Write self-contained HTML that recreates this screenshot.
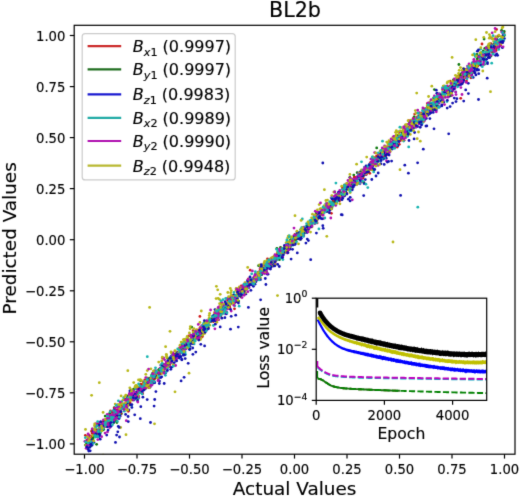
<!DOCTYPE html><html><head><meta charset="utf-8"><style>html,body{margin:0;padding:0;background:#fff;}svg{display:block;}.r{fill:#d01818}.g{fill:#107a10}.b{fill:#1010b0}.c{fill:#18b4b0}.m{fill:#b010b0}.y{fill:#b8b818}text{font-family:'DejaVu Sans', 'Liberation Sans', sans-serif;fill:#000;stroke:#000;stroke-width:0.15px;}</style></head><body>
<svg width="520" height="498" viewBox="0 0 520 498">
<filter id="bl" x="-10" y="-10" width="540" height="518" filterUnits="userSpaceOnUse" color-interpolation-filters="sRGB"><feConvolveMatrix order="3" kernelMatrix="0.0183 0.1353 0.0183 0.1353 1.0000 0.1353 0.0183 0.1353 0.0183" edgeMode="duplicate" preserveAlpha="true"/></filter>
<g filter="url(#bl)">
<rect x="-10" y="-10" width="540" height="518" fill="#fff"/>
<defs><clipPath id="cm"><rect x="74.2" y="25.3" width="440.8" height="428.9"/></clipPath>
<clipPath id="ci"><rect x="316.2" y="298.2" width="170.5" height="102.19999999999999"/></clipPath></defs>
<g clip-path="url(#cm)">
<circle class="r" cx="101.3" cy="428.0" r="1.4"/><circle class="g" cx="459.5" cy="80.1" r="1.4"/><circle class="r" cx="85.4" cy="435.3" r="1.4"/><circle class="r" cx="420.4" cy="119.0" r="1.4"/><circle class="r" cx="482.8" cy="56.7" r="1.4"/><circle class="r" cx="89.6" cy="438.0" r="1.4"/><circle class="r" cx="169.9" cy="364.7" r="1.4"/><circle class="r" cx="432.3" cy="105.5" r="1.4"/><circle class="r" cx="133.0" cy="397.8" r="1.4"/><circle class="r" cx="474.7" cy="67.4" r="1.4"/><circle class="r" cx="272.7" cy="258.3" r="1.4"/><circle class="g" cx="352.9" cy="185.6" r="1.4"/><circle class="r" cx="261.4" cy="273.0" r="1.4"/><circle class="g" cx="144.0" cy="385.5" r="1.4"/><circle class="r" cx="396.1" cy="140.8" r="1.4"/><circle class="r" cx="97.6" cy="423.8" r="1.4"/><circle class="g" cx="268.2" cy="262.9" r="1.4"/><circle class="g" cx="111.3" cy="418.2" r="1.4"/><circle class="r" cx="366.1" cy="173.0" r="1.4"/><circle class="g" cx="326.6" cy="210.6" r="1.4"/><circle class="g" cx="322.9" cy="212.0" r="1.4"/><circle class="g" cx="431.0" cy="109.2" r="1.4"/><circle class="r" cx="243.8" cy="293.3" r="1.4"/><circle class="r" cx="115.5" cy="417.7" r="1.4"/><circle class="r" cx="114.2" cy="417.0" r="1.4"/><circle class="g" cx="353.8" cy="175.1" r="1.4"/><circle class="g" cx="417.6" cy="119.7" r="1.4"/><circle class="g" cx="383.1" cy="157.8" r="1.4"/><circle class="g" cx="485.7" cy="55.3" r="1.4"/><circle class="g" cx="300.8" cy="229.6" r="1.4"/><circle class="g" cx="373.5" cy="170.0" r="1.4"/><circle class="g" cx="121.9" cy="406.9" r="1.4"/><circle class="r" cx="221.0" cy="303.3" r="1.4"/><circle class="r" cx="293.8" cy="242.3" r="1.4"/><circle class="g" cx="241.2" cy="295.1" r="1.4"/><circle class="r" cx="157.0" cy="373.0" r="1.4"/><circle class="r" cx="493.6" cy="44.4" r="1.4"/><circle class="g" cx="94.4" cy="429.9" r="1.4"/><circle class="r" cx="138.2" cy="392.2" r="1.4"/><circle class="g" cx="246.2" cy="288.8" r="1.4"/><circle class="r" cx="346.7" cy="188.6" r="1.4"/><circle class="r" cx="105.2" cy="426.1" r="1.4"/><circle class="r" cx="479.7" cy="61.4" r="1.4"/><circle class="r" cx="490.9" cy="47.5" r="1.4"/><circle class="g" cx="231.5" cy="301.1" r="1.4"/><circle class="g" cx="141.7" cy="387.8" r="1.4"/><circle class="g" cx="384.0" cy="157.7" r="1.4"/><circle class="g" cx="183.2" cy="350.4" r="1.4"/><circle class="r" cx="133.8" cy="389.5" r="1.4"/><circle class="g" cx="239.8" cy="291.9" r="1.4"/><circle class="g" cx="484.1" cy="39.1" r="1.4"/><circle class="g" cx="151.8" cy="374.8" r="1.4"/><circle class="g" cx="145.4" cy="383.0" r="1.4"/><circle class="g" cx="378.9" cy="157.7" r="1.4"/><circle class="g" cx="188.3" cy="342.1" r="1.4"/><circle class="r" cx="489.6" cy="47.0" r="1.4"/><circle class="g" cx="146.7" cy="384.5" r="1.4"/><circle class="r" cx="299.5" cy="234.2" r="1.4"/><circle class="g" cx="130.3" cy="399.1" r="1.4"/><circle class="g" cx="371.4" cy="168.4" r="1.4"/><circle class="g" cx="309.5" cy="226.2" r="1.4"/><circle class="r" cx="500.1" cy="45.6" r="1.4"/><circle class="g" cx="93.3" cy="432.0" r="1.4"/><circle class="g" cx="278.4" cy="256.3" r="1.4"/><circle class="r" cx="348.7" cy="187.6" r="1.4"/><circle class="r" cx="351.0" cy="185.5" r="1.4"/><circle class="r" cx="490.9" cy="43.6" r="1.4"/><circle class="r" cx="148.6" cy="387.7" r="1.4"/><circle class="r" cx="467.4" cy="74.2" r="1.4"/><circle class="g" cx="448.6" cy="87.6" r="1.4"/><circle class="g" cx="162.4" cy="367.4" r="1.4"/><circle class="g" cx="376.7" cy="147.9" r="1.4"/><circle class="r" cx="160.4" cy="373.9" r="1.4"/><circle class="g" cx="280.5" cy="247.5" r="1.4"/><circle class="r" cx="191.1" cy="342.9" r="1.4"/><circle class="g" cx="461.8" cy="81.6" r="1.4"/><circle class="r" cx="426.6" cy="109.9" r="1.4"/><circle class="r" cx="428.1" cy="108.9" r="1.4"/><circle class="r" cx="267.7" cy="265.6" r="1.4"/><circle class="g" cx="315.4" cy="218.1" r="1.4"/><circle class="r" cx="180.5" cy="350.0" r="1.4"/><circle class="r" cx="280.3" cy="251.7" r="1.4"/><circle class="g" cx="116.4" cy="414.7" r="1.4"/><circle class="r" cx="175.7" cy="356.7" r="1.4"/><circle class="g" cx="244.2" cy="290.8" r="1.4"/><circle class="r" cx="99.4" cy="430.0" r="1.4"/><circle class="r" cx="238.1" cy="293.4" r="1.4"/><circle class="r" cx="400.4" cy="137.0" r="1.4"/><circle class="r" cx="174.8" cy="354.6" r="1.4"/><circle class="g" cx="454.6" cy="82.8" r="1.4"/><circle class="r" cx="397.8" cy="138.7" r="1.4"/><circle class="r" cx="495.4" cy="46.7" r="1.4"/><circle class="r" cx="252.3" cy="279.0" r="1.4"/><circle class="r" cx="344.6" cy="189.7" r="1.4"/><circle class="g" cx="380.8" cy="159.5" r="1.4"/><circle class="r" cx="305.0" cy="230.4" r="1.4"/><circle class="r" cx="160.3" cy="371.0" r="1.4"/><circle class="r" cx="142.4" cy="393.4" r="1.4"/><circle class="g" cx="314.7" cy="223.4" r="1.4"/><circle class="g" cx="337.7" cy="196.1" r="1.4"/><circle class="r" cx="420.0" cy="117.4" r="1.4"/><circle class="r" cx="286.2" cy="248.8" r="1.4"/><circle class="r" cx="132.1" cy="400.1" r="1.4"/><circle class="r" cx="121.5" cy="408.2" r="1.4"/><circle class="g" cx="227.7" cy="302.9" r="1.4"/><circle class="g" cx="102.4" cy="430.2" r="1.4"/><circle class="g" cx="318.3" cy="215.5" r="1.4"/><circle class="g" cx="451.1" cy="86.9" r="1.4"/><circle class="r" cx="499.1" cy="42.9" r="1.4"/><circle class="g" cx="107.2" cy="420.9" r="1.4"/><circle class="r" cx="365.9" cy="169.0" r="1.4"/><circle class="g" cx="121.4" cy="413.7" r="1.4"/><circle class="g" cx="134.4" cy="395.9" r="1.4"/><circle class="r" cx="304.5" cy="228.2" r="1.4"/><circle class="r" cx="221.0" cy="308.9" r="1.4"/><circle class="g" cx="411.0" cy="126.0" r="1.4"/><circle class="g" cx="332.7" cy="203.6" r="1.4"/><circle class="g" cx="325.3" cy="207.2" r="1.4"/><circle class="r" cx="195.5" cy="337.4" r="1.4"/><circle class="r" cx="148.1" cy="379.3" r="1.4"/><circle class="g" cx="348.3" cy="186.6" r="1.4"/><circle class="g" cx="150.3" cy="382.0" r="1.4"/><circle class="r" cx="317.6" cy="216.1" r="1.4"/><circle class="g" cx="357.2" cy="172.7" r="1.4"/><circle class="r" cx="421.8" cy="115.7" r="1.4"/><circle class="r" cx="279.4" cy="255.3" r="1.4"/><circle class="g" cx="457.8" cy="83.3" r="1.4"/><circle class="g" cx="235.7" cy="295.3" r="1.4"/><circle class="g" cx="500.3" cy="39.7" r="1.4"/><circle class="r" cx="270.6" cy="260.8" r="1.4"/><circle class="r" cx="419.3" cy="116.3" r="1.4"/><circle class="g" cx="261.9" cy="274.5" r="1.4"/><circle class="r" cx="463.1" cy="75.5" r="1.4"/><circle class="g" cx="152.3" cy="377.5" r="1.4"/><circle class="g" cx="396.6" cy="143.7" r="1.4"/><circle class="g" cx="199.4" cy="335.0" r="1.4"/><circle class="r" cx="186.4" cy="345.5" r="1.4"/><circle class="g" cx="474.1" cy="67.5" r="1.4"/><circle class="r" cx="286.5" cy="245.9" r="1.4"/><circle class="r" cx="394.2" cy="139.7" r="1.4"/><circle class="g" cx="156.2" cy="375.9" r="1.4"/><circle class="g" cx="287.3" cy="247.1" r="1.4"/><circle class="g" cx="453.4" cy="79.9" r="1.4"/><circle class="r" cx="143.4" cy="382.0" r="1.4"/><circle class="r" cx="250.2" cy="270.2" r="1.4"/><circle class="g" cx="233.2" cy="296.7" r="1.4"/><circle class="r" cx="187.4" cy="342.0" r="1.4"/><circle class="r" cx="118.7" cy="409.6" r="1.4"/><circle class="r" cx="333.0" cy="201.9" r="1.4"/><circle class="g" cx="220.8" cy="312.7" r="1.4"/><circle class="g" cx="390.3" cy="141.6" r="1.4"/><circle class="g" cx="343.5" cy="195.7" r="1.4"/><circle class="g" cx="211.4" cy="318.8" r="1.4"/><circle class="r" cx="462.5" cy="82.7" r="1.4"/><circle class="g" cx="417.8" cy="118.6" r="1.4"/><circle class="r" cx="492.2" cy="49.5" r="1.4"/><circle class="g" cx="196.1" cy="335.5" r="1.4"/><circle class="g" cx="331.1" cy="202.5" r="1.4"/><circle class="g" cx="319.8" cy="214.2" r="1.4"/><circle class="r" cx="257.6" cy="273.9" r="1.4"/><circle class="g" cx="193.6" cy="338.4" r="1.4"/><circle class="r" cx="239.5" cy="288.0" r="1.4"/><circle class="g" cx="267.1" cy="267.0" r="1.4"/><circle class="g" cx="255.2" cy="279.3" r="1.4"/><circle class="r" cx="146.5" cy="381.1" r="1.4"/><circle class="g" cx="436.9" cy="100.4" r="1.4"/><circle class="r" cx="189.2" cy="343.9" r="1.4"/><circle class="r" cx="416.2" cy="120.5" r="1.4"/><circle class="g" cx="206.8" cy="324.7" r="1.4"/><circle class="r" cx="448.6" cy="87.1" r="1.4"/><circle class="r" cx="469.0" cy="70.9" r="1.4"/><circle class="g" cx="132.9" cy="397.5" r="1.4"/><circle class="g" cx="173.8" cy="358.0" r="1.4"/><circle class="r" cx="145.2" cy="387.9" r="1.4"/><circle class="r" cx="399.3" cy="132.1" r="1.4"/><circle class="r" cx="152.9" cy="374.9" r="1.4"/><circle class="g" cx="424.3" cy="111.7" r="1.4"/><circle class="r" cx="221.8" cy="313.6" r="1.4"/><circle class="r" cx="473.8" cy="65.5" r="1.4"/><circle class="g" cx="173.5" cy="355.8" r="1.4"/><circle class="g" cx="340.3" cy="192.1" r="1.4"/><circle class="g" cx="167.0" cy="367.0" r="1.4"/><circle class="g" cx="323.4" cy="209.7" r="1.4"/><circle class="r" cx="206.5" cy="326.1" r="1.4"/><circle class="r" cx="478.2" cy="58.2" r="1.4"/><circle class="g" cx="289.7" cy="241.8" r="1.4"/><circle class="g" cx="192.2" cy="337.6" r="1.4"/><circle class="g" cx="178.8" cy="355.0" r="1.4"/><circle class="r" cx="156.2" cy="372.7" r="1.4"/><circle class="g" cx="428.5" cy="106.2" r="1.4"/><circle class="r" cx="363.1" cy="178.0" r="1.4"/><circle class="g" cx="107.3" cy="424.0" r="1.4"/><circle class="g" cx="102.3" cy="424.0" r="1.4"/><circle class="g" cx="214.4" cy="317.4" r="1.4"/><circle class="g" cx="417.3" cy="118.4" r="1.4"/><circle class="g" cx="284.9" cy="247.4" r="1.4"/><circle class="g" cx="182.8" cy="351.0" r="1.4"/><circle class="r" cx="198.3" cy="329.8" r="1.4"/><circle class="r" cx="392.7" cy="147.3" r="1.4"/><circle class="r" cx="292.9" cy="240.9" r="1.4"/><circle class="r" cx="88.0" cy="441.6" r="1.4"/><circle class="g" cx="173.7" cy="354.2" r="1.4"/><circle class="r" cx="216.4" cy="316.5" r="1.4"/><circle class="r" cx="496.1" cy="50.5" r="1.4"/><circle class="r" cx="242.6" cy="289.9" r="1.4"/><circle class="r" cx="226.1" cy="304.9" r="1.4"/><circle class="g" cx="359.7" cy="172.7" r="1.4"/><circle class="r" cx="460.6" cy="81.5" r="1.4"/><circle class="g" cx="404.8" cy="135.9" r="1.4"/><circle class="r" cx="138.3" cy="395.7" r="1.4"/><circle class="g" cx="233.6" cy="298.6" r="1.4"/><circle class="r" cx="337.1" cy="199.3" r="1.4"/><circle class="r" cx="119.4" cy="413.4" r="1.4"/><circle class="g" cx="99.8" cy="426.9" r="1.4"/><circle class="g" cx="116.0" cy="420.7" r="1.4"/><circle class="g" cx="93.4" cy="432.1" r="1.4"/><circle class="g" cx="105.2" cy="416.1" r="1.4"/><circle class="r" cx="476.5" cy="61.8" r="1.4"/><circle class="r" cx="122.0" cy="406.3" r="1.4"/><circle class="r" cx="94.8" cy="432.7" r="1.4"/><circle class="g" cx="299.6" cy="233.2" r="1.4"/><circle class="r" cx="291.6" cy="242.7" r="1.4"/><circle class="g" cx="185.6" cy="341.6" r="1.4"/><circle class="g" cx="384.8" cy="150.1" r="1.4"/><circle class="g" cx="186.3" cy="341.5" r="1.4"/><circle class="g" cx="236.9" cy="296.3" r="1.4"/><circle class="r" cx="100.7" cy="427.4" r="1.4"/><circle class="r" cx="89.3" cy="435.3" r="1.4"/><circle class="r" cx="351.8" cy="184.0" r="1.4"/><circle class="g" cx="279.7" cy="252.4" r="1.4"/><circle class="r" cx="110.8" cy="415.6" r="1.4"/><circle class="r" cx="272.6" cy="260.0" r="1.4"/><circle class="r" cx="119.7" cy="405.2" r="1.4"/><circle class="g" cx="327.9" cy="205.6" r="1.4"/><circle class="g" cx="326.8" cy="208.8" r="1.4"/><circle class="g" cx="370.7" cy="164.5" r="1.4"/><circle class="g" cx="207.5" cy="322.0" r="1.4"/><circle class="g" cx="240.9" cy="296.9" r="1.4"/><circle class="g" cx="218.5" cy="310.6" r="1.4"/><circle class="r" cx="187.1" cy="345.1" r="1.4"/><circle class="r" cx="137.9" cy="398.4" r="1.4"/><circle class="r" cx="442.4" cy="95.2" r="1.4"/><circle class="g" cx="308.0" cy="227.8" r="1.4"/><circle class="r" cx="397.9" cy="135.5" r="1.4"/><circle class="g" cx="307.2" cy="227.8" r="1.4"/><circle class="r" cx="415.5" cy="126.8" r="1.4"/><circle class="g" cx="458.9" cy="64.5" r="1.4"/><circle class="r" cx="457.7" cy="82.1" r="1.4"/><circle class="g" cx="141.9" cy="390.5" r="1.4"/><circle class="r" cx="196.7" cy="338.4" r="1.4"/><circle class="g" cx="370.7" cy="165.2" r="1.4"/><circle class="r" cx="155.1" cy="376.3" r="1.4"/><circle class="g" cx="204.5" cy="322.3" r="1.4"/><circle class="g" cx="112.3" cy="412.1" r="1.4"/><circle class="r" cx="352.0" cy="186.8" r="1.4"/><circle class="g" cx="281.4" cy="250.8" r="1.4"/><circle class="g" cx="318.3" cy="217.2" r="1.4"/><circle class="g" cx="316.9" cy="213.3" r="1.4"/><circle class="g" cx="163.4" cy="369.3" r="1.4"/><circle class="g" cx="394.1" cy="144.2" r="1.4"/><circle class="r" cx="267.5" cy="258.8" r="1.4"/><circle class="r" cx="326.1" cy="205.9" r="1.4"/><circle class="g" cx="414.1" cy="117.0" r="1.4"/><circle class="r" cx="417.2" cy="120.7" r="1.4"/><circle class="r" cx="234.5" cy="300.3" r="1.4"/><circle class="g" cx="260.7" cy="274.6" r="1.4"/><circle class="r" cx="99.1" cy="431.0" r="1.4"/><circle class="g" cx="300.8" cy="235.3" r="1.4"/><circle class="g" cx="105.5" cy="419.7" r="1.4"/><circle class="r" cx="154.8" cy="373.2" r="1.4"/><circle class="g" cx="218.9" cy="313.2" r="1.4"/><circle class="r" cx="164.4" cy="369.3" r="1.4"/><circle class="r" cx="216.9" cy="316.6" r="1.4"/><circle class="r" cx="463.3" cy="77.7" r="1.4"/><circle class="r" cx="319.5" cy="216.4" r="1.4"/><circle class="g" cx="363.6" cy="171.4" r="1.4"/><circle class="g" cx="167.5" cy="364.0" r="1.4"/><circle class="r" cx="316.9" cy="215.4" r="1.4"/><circle class="r" cx="237.8" cy="294.2" r="1.4"/><circle class="g" cx="136.1" cy="396.0" r="1.4"/><circle class="r" cx="150.1" cy="380.1" r="1.4"/><circle class="g" cx="162.7" cy="365.4" r="1.4"/><circle class="r" cx="376.6" cy="155.9" r="1.4"/><circle class="g" cx="475.6" cy="66.0" r="1.4"/><circle class="g" cx="431.9" cy="104.4" r="1.4"/><circle class="g" cx="141.0" cy="391.3" r="1.4"/><circle class="r" cx="361.1" cy="173.1" r="1.4"/><circle class="r" cx="395.0" cy="140.4" r="1.4"/><circle class="g" cx="371.4" cy="162.1" r="1.4"/><circle class="r" cx="404.1" cy="140.3" r="1.4"/><circle class="g" cx="152.7" cy="373.1" r="1.4"/><circle class="r" cx="466.5" cy="81.1" r="1.4"/><circle class="r" cx="161.4" cy="368.8" r="1.4"/><circle class="r" cx="227.6" cy="299.9" r="1.4"/><circle class="g" cx="351.5" cy="180.4" r="1.4"/><circle class="r" cx="464.6" cy="71.7" r="1.4"/><circle class="r" cx="362.9" cy="172.5" r="1.4"/><circle class="r" cx="178.1" cy="354.6" r="1.4"/><circle class="r" cx="331.2" cy="204.1" r="1.4"/><circle class="r" cx="452.7" cy="90.4" r="1.4"/><circle class="g" cx="213.8" cy="320.9" r="1.4"/><circle class="g" cx="408.6" cy="133.5" r="1.4"/><circle class="g" cx="501.6" cy="30.3" r="1.4"/><circle class="r" cx="424.8" cy="112.8" r="1.4"/><circle class="r" cx="289.1" cy="242.3" r="1.4"/><circle class="r" cx="331.4" cy="213.3" r="1.4"/><circle class="g" cx="90.4" cy="439.1" r="1.4"/><circle class="g" cx="96.6" cy="444.3" r="1.4"/><circle class="r" cx="96.0" cy="431.4" r="1.4"/><circle class="r" cx="468.8" cy="74.0" r="1.4"/><circle class="r" cx="232.4" cy="302.0" r="1.4"/><circle class="g" cx="368.7" cy="172.1" r="1.4"/><circle class="r" cx="287.6" cy="251.0" r="1.4"/><circle class="r" cx="463.4" cy="73.7" r="1.4"/><circle class="r" cx="414.7" cy="114.1" r="1.4"/><circle class="g" cx="421.6" cy="115.3" r="1.4"/><circle class="g" cx="250.3" cy="284.0" r="1.4"/><circle class="g" cx="223.0" cy="310.1" r="1.4"/><circle class="r" cx="333.8" cy="202.4" r="1.4"/><circle class="g" cx="343.2" cy="194.6" r="1.4"/><circle class="r" cx="230.7" cy="298.5" r="1.4"/><circle class="g" cx="198.8" cy="337.6" r="1.4"/><circle class="r" cx="329.4" cy="204.3" r="1.4"/><circle class="g" cx="109.6" cy="413.4" r="1.4"/><circle class="r" cx="355.3" cy="178.9" r="1.4"/><circle class="r" cx="188.7" cy="336.0" r="1.4"/><circle class="r" cx="467.8" cy="71.0" r="1.4"/><circle class="g" cx="483.9" cy="56.1" r="1.4"/><circle class="r" cx="371.4" cy="167.8" r="1.4"/><circle class="g" cx="90.8" cy="445.8" r="1.4"/><circle class="r" cx="386.3" cy="155.2" r="1.4"/><circle class="r" cx="213.0" cy="319.3" r="1.4"/><circle class="r" cx="272.8" cy="257.3" r="1.4"/><circle class="g" cx="295.7" cy="240.1" r="1.4"/><circle class="r" cx="169.4" cy="359.1" r="1.4"/><circle class="r" cx="317.1" cy="222.9" r="1.4"/><circle class="r" cx="402.8" cy="133.6" r="1.4"/><circle class="r" cx="323.1" cy="215.1" r="1.4"/><circle class="g" cx="162.3" cy="367.2" r="1.4"/><circle class="r" cx="195.0" cy="336.5" r="1.4"/><circle class="g" cx="140.5" cy="380.7" r="1.4"/><circle class="g" cx="440.9" cy="94.6" r="1.4"/><circle class="r" cx="371.1" cy="165.3" r="1.4"/><circle class="g" cx="168.7" cy="364.0" r="1.4"/><circle class="g" cx="279.4" cy="259.7" r="1.4"/><circle class="g" cx="192.2" cy="340.6" r="1.4"/><circle class="r" cx="236.3" cy="295.7" r="1.4"/><circle class="r" cx="367.3" cy="172.3" r="1.4"/><circle class="g" cx="211.0" cy="321.4" r="1.4"/><circle class="g" cx="114.3" cy="407.6" r="1.4"/><circle class="g" cx="240.9" cy="291.0" r="1.4"/><circle class="g" cx="410.2" cy="130.4" r="1.4"/><circle class="r" cx="321.3" cy="214.0" r="1.4"/><circle class="g" cx="282.5" cy="253.2" r="1.4"/><circle class="r" cx="422.4" cy="118.6" r="1.4"/><circle class="g" cx="438.0" cy="99.5" r="1.4"/><circle class="r" cx="161.8" cy="370.8" r="1.4"/><circle class="g" cx="419.2" cy="117.4" r="1.4"/><circle class="r" cx="416.2" cy="118.9" r="1.4"/><circle class="r" cx="195.4" cy="336.7" r="1.4"/><circle class="r" cx="224.3" cy="308.3" r="1.4"/><circle class="g" cx="367.2" cy="171.8" r="1.4"/><circle class="r" cx="362.3" cy="170.4" r="1.4"/><circle class="g" cx="304.3" cy="233.2" r="1.4"/><circle class="g" cx="396.0" cy="142.1" r="1.4"/><circle class="g" cx="271.2" cy="262.4" r="1.4"/><circle class="g" cx="195.6" cy="333.2" r="1.4"/><circle class="r" cx="389.9" cy="146.1" r="1.4"/><circle class="g" cx="363.6" cy="172.1" r="1.4"/><circle class="r" cx="294.3" cy="237.9" r="1.4"/><circle class="g" cx="307.9" cy="228.7" r="1.4"/><circle class="r" cx="176.7" cy="353.6" r="1.4"/><circle class="r" cx="251.4" cy="279.4" r="1.4"/><circle class="g" cx="116.8" cy="411.6" r="1.4"/><circle class="r" cx="237.2" cy="295.5" r="1.4"/><circle class="g" cx="138.3" cy="392.7" r="1.4"/><circle class="r" cx="117.5" cy="416.1" r="1.4"/><circle class="r" cx="147.8" cy="382.9" r="1.4"/><circle class="g" cx="351.5" cy="187.3" r="1.4"/><circle class="r" cx="154.3" cy="379.1" r="1.4"/><circle class="r" cx="132.8" cy="390.8" r="1.4"/><circle class="r" cx="192.9" cy="335.4" r="1.4"/><circle class="g" cx="337.0" cy="195.3" r="1.4"/><circle class="g" cx="425.0" cy="117.7" r="1.4"/><circle class="g" cx="263.1" cy="272.3" r="1.4"/><circle class="r" cx="245.4" cy="287.9" r="1.4"/><circle class="r" cx="421.3" cy="119.3" r="1.4"/><circle class="r" cx="149.6" cy="386.7" r="1.4"/><circle class="g" cx="308.0" cy="227.3" r="1.4"/><circle class="r" cx="110.1" cy="421.3" r="1.4"/><circle class="g" cx="175.2" cy="355.6" r="1.4"/><circle class="g" cx="205.9" cy="325.6" r="1.4"/><circle class="r" cx="317.3" cy="219.6" r="1.4"/><circle class="g" cx="440.6" cy="95.8" r="1.4"/><circle class="r" cx="139.4" cy="392.2" r="1.4"/><circle class="g" cx="238.6" cy="301.1" r="1.4"/><circle class="r" cx="145.0" cy="387.8" r="1.4"/><circle class="r" cx="129.7" cy="402.6" r="1.4"/><circle class="r" cx="217.7" cy="318.0" r="1.4"/><circle class="g" cx="319.3" cy="213.7" r="1.4"/><circle class="g" cx="491.0" cy="56.1" r="1.4"/><circle class="r" cx="434.6" cy="103.9" r="1.4"/><circle class="r" cx="277.6" cy="256.6" r="1.4"/><circle class="r" cx="191.4" cy="336.2" r="1.4"/><circle class="g" cx="219.2" cy="308.3" r="1.4"/><circle class="r" cx="468.5" cy="71.0" r="1.4"/><circle class="r" cx="231.1" cy="297.3" r="1.4"/><circle class="g" cx="413.5" cy="127.5" r="1.4"/><circle class="r" cx="433.6" cy="100.3" r="1.4"/><circle class="r" cx="151.3" cy="380.7" r="1.4"/><circle class="r" cx="381.4" cy="158.0" r="1.4"/><circle class="r" cx="114.1" cy="415.5" r="1.4"/><circle class="g" cx="495.1" cy="46.1" r="1.4"/><circle class="r" cx="116.4" cy="410.1" r="1.4"/><circle class="g" cx="278.8" cy="252.0" r="1.4"/><circle class="r" cx="296.2" cy="237.3" r="1.4"/><circle class="r" cx="92.3" cy="433.2" r="1.4"/><circle class="r" cx="385.4" cy="151.6" r="1.4"/><circle class="r" cx="351.8" cy="183.1" r="1.4"/><circle class="r" cx="98.8" cy="432.9" r="1.4"/><circle class="g" cx="305.0" cy="228.9" r="1.4"/><circle class="r" cx="267.6" cy="266.8" r="1.4"/><circle class="r" cx="248.5" cy="278.9" r="1.4"/><circle class="r" cx="311.9" cy="222.2" r="1.4"/><circle class="r" cx="283.8" cy="250.1" r="1.4"/><circle class="r" cx="217.8" cy="310.5" r="1.4"/><circle class="g" cx="427.3" cy="107.5" r="1.4"/><circle class="g" cx="276.9" cy="248.3" r="1.4"/><circle class="r" cx="452.3" cy="85.9" r="1.4"/><circle class="g" cx="278.4" cy="253.9" r="1.4"/><circle class="g" cx="103.7" cy="427.1" r="1.4"/><circle class="r" cx="214.2" cy="318.6" r="1.4"/><circle class="r" cx="208.8" cy="320.9" r="1.4"/><circle class="g" cx="415.0" cy="122.0" r="1.4"/><circle class="g" cx="140.5" cy="389.3" r="1.4"/><circle class="r" cx="277.6" cy="253.3" r="1.4"/><circle class="g" cx="386.8" cy="152.4" r="1.4"/><circle class="r" cx="120.8" cy="411.5" r="1.4"/><circle class="r" cx="254.7" cy="280.3" r="1.4"/><circle class="r" cx="98.1" cy="434.2" r="1.4"/><circle class="r" cx="339.9" cy="199.1" r="1.4"/><circle class="r" cx="300.1" cy="238.3" r="1.4"/><circle class="r" cx="103.1" cy="426.3" r="1.4"/><circle class="g" cx="363.7" cy="182.5" r="1.4"/><circle class="r" cx="387.9" cy="149.3" r="1.4"/><circle class="g" cx="214.6" cy="316.9" r="1.4"/><circle class="g" cx="148.8" cy="380.4" r="1.4"/><circle class="r" cx="105.0" cy="425.9" r="1.4"/><circle class="g" cx="480.3" cy="55.9" r="1.4"/><circle class="g" cx="310.6" cy="224.5" r="1.4"/><circle class="g" cx="316.8" cy="219.6" r="1.4"/><circle class="r" cx="153.0" cy="381.5" r="1.4"/><circle class="r" cx="248.8" cy="283.9" r="1.4"/><circle class="r" cx="99.5" cy="427.3" r="1.4"/><circle class="r" cx="145.0" cy="385.1" r="1.4"/><circle class="r" cx="334.3" cy="200.4" r="1.4"/><circle class="r" cx="250.8" cy="282.7" r="1.4"/><circle class="g" cx="458.3" cy="77.1" r="1.4"/><circle class="r" cx="220.8" cy="310.2" r="1.4"/><circle class="r" cx="448.0" cy="93.5" r="1.4"/><circle class="r" cx="479.8" cy="64.3" r="1.4"/><circle class="r" cx="438.6" cy="98.5" r="1.4"/><circle class="r" cx="112.8" cy="413.6" r="1.4"/><circle class="r" cx="240.8" cy="290.6" r="1.4"/><circle class="r" cx="489.1" cy="46.6" r="1.4"/><circle class="r" cx="396.6" cy="140.0" r="1.4"/><circle class="r" cx="110.5" cy="411.0" r="1.4"/><circle class="g" cx="309.5" cy="225.4" r="1.4"/><circle class="g" cx="89.0" cy="437.7" r="1.4"/><circle class="r" cx="350.7" cy="188.8" r="1.4"/><circle class="g" cx="452.1" cy="84.5" r="1.4"/><circle class="r" cx="461.7" cy="75.0" r="1.4"/><circle class="r" cx="185.2" cy="349.0" r="1.4"/><circle class="g" cx="218.6" cy="314.0" r="1.4"/><circle class="r" cx="477.7" cy="66.1" r="1.4"/><circle class="g" cx="113.9" cy="422.5" r="1.4"/><circle class="g" cx="346.3" cy="186.9" r="1.4"/><circle class="r" cx="205.4" cy="324.9" r="1.4"/><circle class="r" cx="424.4" cy="114.6" r="1.4"/><circle class="r" cx="403.9" cy="136.2" r="1.4"/><circle class="r" cx="345.7" cy="189.1" r="1.4"/><circle class="g" cx="291.3" cy="243.1" r="1.4"/><circle class="g" cx="406.8" cy="133.3" r="1.4"/><circle class="r" cx="420.2" cy="116.7" r="1.4"/><circle class="r" cx="372.8" cy="165.5" r="1.4"/><circle class="r" cx="399.4" cy="140.2" r="1.4"/><circle class="g" cx="301.1" cy="234.4" r="1.4"/><circle class="r" cx="366.3" cy="174.5" r="1.4"/><circle class="r" cx="375.5" cy="159.6" r="1.4"/><circle class="g" cx="243.1" cy="286.7" r="1.4"/><circle class="g" cx="214.6" cy="320.0" r="1.4"/><circle class="r" cx="227.0" cy="308.3" r="1.4"/><circle class="g" cx="416.9" cy="121.8" r="1.4"/><circle class="r" cx="183.3" cy="351.3" r="1.4"/><circle class="r" cx="378.6" cy="154.5" r="1.4"/><circle class="r" cx="425.0" cy="115.6" r="1.4"/><circle class="r" cx="443.0" cy="97.9" r="1.4"/><circle class="g" cx="285.1" cy="246.0" r="1.4"/><circle class="g" cx="297.8" cy="235.2" r="1.4"/><circle class="g" cx="144.2" cy="385.9" r="1.4"/><circle class="g" cx="237.6" cy="292.4" r="1.4"/><circle class="g" cx="85.5" cy="445.1" r="1.4"/><circle class="g" cx="497.1" cy="40.0" r="1.4"/><circle class="r" cx="181.8" cy="349.0" r="1.4"/><circle class="g" cx="223.9" cy="308.7" r="1.4"/><circle class="r" cx="132.9" cy="397.8" r="1.4"/><circle class="g" cx="369.8" cy="167.3" r="1.4"/><circle class="r" cx="254.2" cy="277.7" r="1.4"/><circle class="g" cx="499.9" cy="40.2" r="1.4"/><circle class="r" cx="110.5" cy="417.1" r="1.4"/><circle class="g" cx="388.5" cy="149.3" r="1.4"/><circle class="g" cx="427.7" cy="112.8" r="1.4"/><circle class="g" cx="496.5" cy="42.8" r="1.4"/><circle class="g" cx="252.5" cy="282.1" r="1.4"/><circle class="g" cx="409.9" cy="127.9" r="1.4"/><circle class="r" cx="382.3" cy="153.1" r="1.4"/><circle class="g" cx="222.3" cy="308.0" r="1.4"/><circle class="r" cx="440.1" cy="100.6" r="1.4"/><circle class="r" cx="177.1" cy="353.6" r="1.4"/><circle class="r" cx="352.0" cy="183.3" r="1.4"/><circle class="g" cx="413.0" cy="125.3" r="1.4"/><circle class="r" cx="480.0" cy="61.6" r="1.4"/><circle class="r" cx="448.1" cy="91.4" r="1.4"/><circle class="g" cx="465.7" cy="72.8" r="1.4"/><circle class="r" cx="360.1" cy="173.2" r="1.4"/><circle class="r" cx="460.8" cy="75.4" r="1.4"/><circle class="r" cx="278.3" cy="252.8" r="1.4"/><circle class="g" cx="320.8" cy="214.1" r="1.4"/><circle class="g" cx="440.6" cy="99.1" r="1.4"/><circle class="r" cx="237.9" cy="293.3" r="1.4"/><circle class="r" cx="171.6" cy="356.3" r="1.4"/><circle class="g" cx="412.1" cy="125.5" r="1.4"/><circle class="r" cx="258.3" cy="274.8" r="1.4"/><circle class="g" cx="273.8" cy="260.8" r="1.4"/><circle class="g" cx="126.2" cy="404.2" r="1.4"/><circle class="r" cx="140.8" cy="384.1" r="1.4"/><circle class="g" cx="239.0" cy="290.8" r="1.4"/><circle class="g" cx="485.9" cy="47.8" r="1.4"/><circle class="r" cx="297.7" cy="237.0" r="1.4"/><circle class="r" cx="236.2" cy="298.7" r="1.4"/><circle class="g" cx="373.5" cy="160.5" r="1.4"/><circle class="g" cx="170.3" cy="360.7" r="1.4"/><circle class="g" cx="493.1" cy="50.3" r="1.4"/><circle class="r" cx="274.4" cy="262.4" r="1.4"/><circle class="g" cx="231.6" cy="301.3" r="1.4"/><circle class="r" cx="386.0" cy="150.5" r="1.4"/><circle class="g" cx="284.1" cy="248.5" r="1.4"/><circle class="r" cx="344.6" cy="189.8" r="1.4"/><circle class="r" cx="367.3" cy="168.0" r="1.4"/><circle class="g" cx="251.5" cy="281.9" r="1.4"/><circle class="g" cx="131.7" cy="394.2" r="1.4"/><circle class="g" cx="379.8" cy="158.0" r="1.4"/><circle class="r" cx="246.6" cy="285.6" r="1.4"/><circle class="g" cx="350.3" cy="187.1" r="1.4"/><circle class="g" cx="440.1" cy="97.8" r="1.4"/><circle class="g" cx="186.7" cy="345.9" r="1.4"/><circle class="g" cx="176.0" cy="359.0" r="1.4"/><circle class="r" cx="204.5" cy="330.4" r="1.4"/><circle class="g" cx="341.5" cy="199.2" r="1.4"/><circle class="g" cx="116.9" cy="412.3" r="1.4"/><circle class="r" cx="343.6" cy="187.5" r="1.4"/><circle class="g" cx="99.0" cy="428.4" r="1.4"/><circle class="g" cx="335.0" cy="201.1" r="1.4"/><circle class="r" cx="175.7" cy="356.4" r="1.4"/><circle class="g" cx="289.3" cy="244.0" r="1.4"/><circle class="g" cx="149.5" cy="378.2" r="1.4"/><circle class="r" cx="192.7" cy="342.3" r="1.4"/><circle class="g" cx="317.9" cy="215.5" r="1.4"/><circle class="g" cx="359.3" cy="176.6" r="1.4"/><circle class="g" cx="427.9" cy="107.4" r="1.4"/><circle class="g" cx="255.3" cy="277.8" r="1.4"/><circle class="g" cx="179.7" cy="352.7" r="1.4"/><circle class="g" cx="270.3" cy="259.4" r="1.4"/><circle class="g" cx="437.1" cy="93.8" r="1.4"/><circle class="r" cx="334.0" cy="199.4" r="1.4"/><circle class="g" cx="167.9" cy="363.2" r="1.4"/><circle class="r" cx="188.4" cy="343.6" r="1.4"/><circle class="g" cx="281.3" cy="251.3" r="1.4"/><circle class="r" cx="496.5" cy="47.8" r="1.4"/><circle class="g" cx="416.3" cy="119.9" r="1.4"/><circle class="g" cx="222.2" cy="309.2" r="1.4"/><circle class="r" cx="285.1" cy="250.4" r="1.4"/><circle class="g" cx="108.8" cy="418.8" r="1.4"/><circle class="g" cx="463.1" cy="76.6" r="1.4"/><circle class="g" cx="433.0" cy="109.7" r="1.4"/><circle class="g" cx="269.0" cy="263.7" r="1.4"/><circle class="r" cx="370.9" cy="166.5" r="1.4"/><circle class="r" cx="207.0" cy="325.9" r="1.4"/><circle class="g" cx="409.3" cy="129.3" r="1.4"/><circle class="g" cx="407.8" cy="126.8" r="1.4"/><circle class="g" cx="133.5" cy="395.2" r="1.4"/><circle class="r" cx="229.7" cy="304.9" r="1.4"/><circle class="g" cx="499.5" cy="41.3" r="1.4"/><circle class="g" cx="103.1" cy="422.5" r="1.4"/><circle class="r" cx="270.7" cy="263.2" r="1.4"/><circle class="g" cx="159.1" cy="373.5" r="1.4"/><circle class="r" cx="453.1" cy="85.8" r="1.4"/><circle class="r" cx="89.3" cy="443.2" r="1.4"/><circle class="g" cx="464.1" cy="70.1" r="1.4"/><circle class="r" cx="272.8" cy="260.3" r="1.4"/><circle class="r" cx="207.5" cy="325.5" r="1.4"/><circle class="g" cx="439.1" cy="101.9" r="1.4"/><circle class="g" cx="360.7" cy="177.0" r="1.4"/><circle class="g" cx="433.6" cy="97.9" r="1.4"/><circle class="g" cx="423.1" cy="114.4" r="1.4"/><circle class="r" cx="315.1" cy="218.8" r="1.4"/><circle class="g" cx="193.3" cy="342.9" r="1.4"/><circle class="r" cx="455.3" cy="84.3" r="1.4"/><circle class="r" cx="268.7" cy="264.0" r="1.4"/><circle class="g" cx="414.1" cy="125.4" r="1.4"/><circle class="g" cx="227.3" cy="304.1" r="1.4"/><circle class="g" cx="338.9" cy="195.2" r="1.4"/><circle class="r" cx="240.9" cy="291.6" r="1.4"/><circle class="g" cx="198.2" cy="336.7" r="1.4"/><circle class="g" cx="251.9" cy="284.7" r="1.4"/><circle class="g" cx="363.0" cy="172.2" r="1.4"/><circle class="g" cx="248.5" cy="283.0" r="1.4"/><circle class="r" cx="178.6" cy="352.6" r="1.4"/><circle class="r" cx="420.6" cy="115.4" r="1.4"/><circle class="g" cx="325.0" cy="209.8" r="1.4"/><circle class="g" cx="245.1" cy="288.9" r="1.4"/><circle class="g" cx="478.6" cy="57.8" r="1.4"/><circle class="r" cx="233.5" cy="298.4" r="1.4"/><circle class="g" cx="487.7" cy="46.7" r="1.4"/><circle class="r" cx="247.9" cy="279.8" r="1.4"/><circle class="g" cx="385.6" cy="147.3" r="1.4"/><circle class="g" cx="280.0" cy="253.4" r="1.4"/><circle class="g" cx="266.1" cy="269.8" r="1.4"/><circle class="r" cx="135.9" cy="395.0" r="1.4"/><circle class="g" cx="387.7" cy="148.9" r="1.4"/><circle class="g" cx="418.6" cy="120.2" r="1.4"/><circle class="r" cx="354.3" cy="177.2" r="1.4"/><circle class="g" cx="182.4" cy="347.5" r="1.4"/><circle class="r" cx="496.5" cy="29.4" r="1.4"/><circle class="r" cx="174.0" cy="355.4" r="1.4"/><circle class="r" cx="309.3" cy="223.8" r="1.4"/><circle class="r" cx="454.7" cy="85.9" r="1.4"/><circle class="r" cx="107.5" cy="422.2" r="1.4"/><circle class="r" cx="117.8" cy="406.0" r="1.4"/><circle class="g" cx="408.6" cy="128.6" r="1.4"/><circle class="r" cx="165.0" cy="367.2" r="1.4"/><circle class="g" cx="276.0" cy="260.6" r="1.4"/><circle class="r" cx="127.3" cy="403.4" r="1.4"/><circle class="r" cx="329.0" cy="204.9" r="1.4"/><circle class="r" cx="128.3" cy="411.3" r="1.4"/><circle class="r" cx="473.7" cy="66.7" r="1.4"/><circle class="g" cx="485.2" cy="54.5" r="1.4"/><circle class="g" cx="170.6" cy="357.4" r="1.4"/><circle class="r" cx="423.2" cy="116.6" r="1.4"/><circle class="g" cx="224.6" cy="307.4" r="1.4"/><circle class="g" cx="261.9" cy="267.2" r="1.4"/><circle class="r" cx="414.7" cy="124.9" r="1.4"/><circle class="g" cx="276.2" cy="255.5" r="1.4"/><circle class="r" cx="159.7" cy="373.7" r="1.4"/><circle class="r" cx="124.8" cy="399.1" r="1.4"/><circle class="g" cx="221.3" cy="313.4" r="1.4"/><circle class="g" cx="456.2" cy="83.5" r="1.4"/><circle class="g" cx="187.7" cy="342.7" r="1.4"/><circle class="r" cx="124.3" cy="404.4" r="1.4"/><circle class="g" cx="113.9" cy="411.2" r="1.4"/><circle class="g" cx="209.9" cy="319.2" r="1.4"/><circle class="r" cx="274.0" cy="259.2" r="1.4"/><circle class="r" cx="200.1" cy="327.7" r="1.4"/><circle class="r" cx="464.8" cy="74.6" r="1.4"/><circle class="r" cx="487.4" cy="49.8" r="1.4"/><circle class="r" cx="184.2" cy="348.7" r="1.4"/><circle class="g" cx="170.1" cy="360.7" r="1.4"/><circle class="r" cx="412.0" cy="122.6" r="1.4"/><circle class="g" cx="283.6" cy="249.2" r="1.4"/><circle class="g" cx="119.4" cy="406.5" r="1.4"/><circle class="r" cx="138.5" cy="389.8" r="1.4"/><circle class="r" cx="93.5" cy="435.7" r="1.4"/><circle class="g" cx="211.2" cy="320.9" r="1.4"/><circle class="g" cx="181.1" cy="352.2" r="1.4"/><circle class="r" cx="343.7" cy="190.8" r="1.4"/><circle class="r" cx="450.4" cy="86.6" r="1.4"/><circle class="g" cx="200.6" cy="328.9" r="1.4"/><circle class="g" cx="236.8" cy="289.7" r="1.4"/><circle class="r" cx="107.0" cy="424.1" r="1.4"/><circle class="r" cx="96.6" cy="430.0" r="1.4"/><circle class="r" cx="424.2" cy="111.7" r="1.4"/><circle class="r" cx="393.1" cy="140.9" r="1.4"/><circle class="r" cx="214.1" cy="317.6" r="1.4"/><circle class="r" cx="229.7" cy="307.2" r="1.4"/><circle class="g" cx="256.1" cy="278.6" r="1.4"/><circle class="g" cx="363.6" cy="175.7" r="1.4"/><circle class="g" cx="258.6" cy="265.7" r="1.4"/><circle class="g" cx="392.8" cy="144.8" r="1.4"/><circle class="g" cx="261.6" cy="272.4" r="1.4"/><circle class="g" cx="288.5" cy="245.8" r="1.4"/><circle class="r" cx="369.8" cy="173.3" r="1.4"/><circle class="r" cx="200.9" cy="332.7" r="1.4"/><circle class="r" cx="135.0" cy="394.8" r="1.4"/><circle class="g" cx="143.2" cy="385.2" r="1.4"/><circle class="r" cx="463.2" cy="73.9" r="1.4"/><circle class="r" cx="422.7" cy="115.1" r="1.4"/><circle class="g" cx="376.4" cy="163.8" r="1.4"/><circle class="g" cx="472.4" cy="72.6" r="1.4"/><circle class="r" cx="250.5" cy="282.0" r="1.4"/><circle class="g" cx="492.9" cy="48.8" r="1.4"/><circle class="r" cx="313.7" cy="218.5" r="1.4"/><circle class="g" cx="490.8" cy="44.5" r="1.4"/><circle class="g" cx="383.5" cy="153.0" r="1.4"/><circle class="r" cx="495.0" cy="47.4" r="1.4"/><circle class="r" cx="477.7" cy="62.1" r="1.4"/><circle class="r" cx="398.0" cy="135.6" r="1.4"/><circle class="g" cx="379.5" cy="155.4" r="1.4"/><circle class="r" cx="237.4" cy="291.9" r="1.4"/><circle class="r" cx="247.2" cy="285.7" r="1.4"/><circle class="g" cx="188.5" cy="344.2" r="1.4"/><circle class="g" cx="402.1" cy="132.6" r="1.4"/><circle class="g" cx="279.7" cy="253.7" r="1.4"/><circle class="r" cx="334.8" cy="202.9" r="1.4"/><circle class="g" cx="180.8" cy="351.2" r="1.4"/><circle class="r" cx="237.3" cy="298.4" r="1.4"/><circle class="r" cx="380.8" cy="157.0" r="1.4"/><circle class="r" cx="471.6" cy="69.0" r="1.4"/><circle class="r" cx="234.5" cy="308.8" r="1.4"/><circle class="g" cx="202.2" cy="330.4" r="1.4"/><circle class="r" cx="191.8" cy="335.7" r="1.4"/><circle class="g" cx="367.9" cy="169.5" r="1.4"/><circle class="g" cx="396.8" cy="135.4" r="1.4"/><circle class="g" cx="385.7" cy="154.0" r="1.4"/><circle class="g" cx="383.6" cy="151.5" r="1.4"/><circle class="g" cx="160.8" cy="370.5" r="1.4"/><circle class="g" cx="92.4" cy="435.8" r="1.4"/><circle class="g" cx="144.8" cy="385.5" r="1.4"/><circle class="g" cx="477.2" cy="58.8" r="1.4"/><circle class="g" cx="398.8" cy="139.9" r="1.4"/><circle class="g" cx="307.9" cy="225.5" r="1.4"/><circle class="r" cx="465.5" cy="76.1" r="1.4"/><circle class="r" cx="367.3" cy="171.8" r="1.4"/><circle class="r" cx="144.8" cy="379.8" r="1.4"/><circle class="g" cx="430.4" cy="107.3" r="1.4"/><circle class="g" cx="469.0" cy="66.1" r="1.4"/><circle class="g" cx="344.9" cy="190.2" r="1.4"/><circle class="g" cx="137.0" cy="388.0" r="1.4"/><circle class="r" cx="92.4" cy="438.4" r="1.4"/><circle class="g" cx="375.5" cy="165.0" r="1.4"/><circle class="g" cx="139.9" cy="388.3" r="1.4"/><circle class="g" cx="202.2" cy="328.9" r="1.4"/><circle class="g" cx="397.1" cy="139.9" r="1.4"/><circle class="r" cx="452.6" cy="82.4" r="1.4"/><circle class="r" cx="151.6" cy="379.5" r="1.4"/><circle class="r" cx="323.1" cy="210.8" r="1.4"/><circle class="r" cx="235.5" cy="298.3" r="1.4"/><circle class="g" cx="239.6" cy="292.5" r="1.4"/><circle class="r" cx="420.0" cy="119.9" r="1.4"/><circle class="g" cx="406.1" cy="131.2" r="1.4"/><circle class="r" cx="168.8" cy="361.2" r="1.4"/><circle class="r" cx="440.4" cy="97.3" r="1.4"/><circle class="g" cx="105.3" cy="425.5" r="1.4"/><circle class="r" cx="390.2" cy="145.9" r="1.4"/><circle class="g" cx="263.3" cy="265.9" r="1.4"/><circle class="r" cx="423.1" cy="117.9" r="1.4"/><circle class="g" cx="324.2" cy="208.9" r="1.4"/><circle class="g" cx="131.9" cy="396.8" r="1.4"/><circle class="r" cx="331.2" cy="203.4" r="1.4"/><circle class="g" cx="290.6" cy="239.6" r="1.4"/><circle class="g" cx="405.0" cy="128.3" r="1.4"/><circle class="g" cx="306.8" cy="226.0" r="1.4"/><circle class="g" cx="155.1" cy="378.1" r="1.4"/><circle class="g" cx="330.2" cy="205.3" r="1.4"/><circle class="g" cx="400.6" cy="136.2" r="1.4"/><circle class="r" cx="302.2" cy="233.0" r="1.4"/><circle class="g" cx="367.9" cy="168.5" r="1.4"/><circle class="g" cx="119.4" cy="409.0" r="1.4"/><circle class="r" cx="413.7" cy="127.4" r="1.4"/><circle class="r" cx="503.0" cy="40.7" r="1.4"/><circle class="r" cx="142.4" cy="393.7" r="1.4"/><circle class="g" cx="437.3" cy="105.3" r="1.4"/><circle class="g" cx="132.7" cy="396.9" r="1.4"/><circle class="g" cx="181.3" cy="349.5" r="1.4"/><circle class="g" cx="402.6" cy="133.7" r="1.4"/><circle class="g" cx="108.8" cy="424.0" r="1.4"/><circle class="g" cx="370.9" cy="167.8" r="1.4"/><circle class="g" cx="316.3" cy="216.7" r="1.4"/><circle class="r" cx="301.5" cy="234.4" r="1.4"/><circle class="r" cx="259.2" cy="271.8" r="1.4"/><circle class="r" cx="194.2" cy="335.7" r="1.4"/><circle class="r" cx="92.0" cy="436.4" r="1.4"/><circle class="r" cx="162.8" cy="358.3" r="1.4"/><circle class="r" cx="307.3" cy="229.8" r="1.4"/><circle class="g" cx="248.6" cy="284.0" r="1.4"/><circle class="r" cx="322.0" cy="213.2" r="1.4"/><circle class="g" cx="208.3" cy="327.7" r="1.4"/><circle class="g" cx="324.2" cy="211.7" r="1.4"/><circle class="r" cx="306.4" cy="227.6" r="1.4"/><circle class="r" cx="92.0" cy="439.5" r="1.4"/><circle class="r" cx="403.8" cy="129.8" r="1.4"/><circle class="r" cx="199.1" cy="331.3" r="1.4"/><circle class="g" cx="384.4" cy="151.7" r="1.4"/><circle class="r" cx="439.5" cy="95.9" r="1.4"/><circle class="g" cx="275.0" cy="258.4" r="1.4"/><circle class="g" cx="379.6" cy="158.9" r="1.4"/><circle class="g" cx="469.6" cy="73.1" r="1.4"/><circle class="g" cx="135.8" cy="394.3" r="1.4"/><circle class="g" cx="153.1" cy="376.6" r="1.4"/><circle class="r" cx="408.9" cy="120.7" r="1.4"/><circle class="r" cx="450.1" cy="86.2" r="1.4"/><circle class="g" cx="143.4" cy="384.8" r="1.4"/><circle class="g" cx="193.6" cy="338.8" r="1.4"/><circle class="g" cx="416.4" cy="117.7" r="1.4"/><circle class="r" cx="166.6" cy="364.5" r="1.4"/><circle class="r" cx="427.5" cy="103.5" r="1.4"/><circle class="r" cx="374.7" cy="157.6" r="1.4"/><circle class="g" cx="219.5" cy="314.0" r="1.4"/><circle class="r" cx="337.5" cy="196.4" r="1.4"/><circle class="g" cx="413.4" cy="124.8" r="1.4"/><circle class="g" cx="478.1" cy="62.1" r="1.4"/><circle class="r" cx="260.3" cy="269.4" r="1.4"/><circle class="r" cx="112.5" cy="420.2" r="1.4"/><circle class="g" cx="429.3" cy="105.1" r="1.4"/><circle class="r" cx="496.3" cy="38.7" r="1.4"/><circle class="r" cx="395.0" cy="143.0" r="1.4"/><circle class="r" cx="295.4" cy="239.0" r="1.4"/><circle class="g" cx="484.8" cy="48.3" r="1.4"/><circle class="r" cx="284.1" cy="249.2" r="1.4"/><circle class="r" cx="219.2" cy="314.0" r="1.4"/><circle class="g" cx="388.5" cy="148.7" r="1.4"/><circle class="r" cx="137.9" cy="389.3" r="1.4"/><circle class="r" cx="264.4" cy="263.4" r="1.4"/><circle class="r" cx="280.4" cy="251.5" r="1.4"/><circle class="r" cx="406.3" cy="130.3" r="1.4"/><circle class="g" cx="182.2" cy="349.0" r="1.4"/><circle class="r" cx="403.2" cy="134.2" r="1.4"/><circle class="g" cx="369.9" cy="166.4" r="1.4"/><circle class="g" cx="480.0" cy="55.3" r="1.4"/><circle class="g" cx="114.2" cy="408.9" r="1.4"/><circle class="g" cx="362.4" cy="171.4" r="1.4"/><circle class="g" cx="371.3" cy="164.7" r="1.4"/><circle class="g" cx="110.3" cy="419.2" r="1.4"/><circle class="g" cx="412.3" cy="124.6" r="1.4"/><circle class="g" cx="92.1" cy="430.4" r="1.4"/><circle class="g" cx="249.4" cy="283.2" r="1.4"/><circle class="r" cx="347.5" cy="188.9" r="1.4"/><circle class="r" cx="496.3" cy="45.0" r="1.4"/><circle class="g" cx="381.9" cy="156.2" r="1.4"/><circle class="g" cx="336.4" cy="200.7" r="1.4"/><circle class="r" cx="488.4" cy="50.5" r="1.4"/><circle class="g" cx="107.3" cy="418.9" r="1.4"/><circle class="g" cx="498.6" cy="40.9" r="1.4"/><circle class="r" cx="397.3" cy="147.0" r="1.4"/><circle class="r" cx="377.4" cy="157.4" r="1.4"/><circle class="r" cx="223.9" cy="307.4" r="1.4"/><circle class="g" cx="116.7" cy="412.4" r="1.4"/><circle class="g" cx="263.3" cy="271.9" r="1.4"/><circle class="r" cx="103.4" cy="422.4" r="1.4"/><circle class="g" cx="93.3" cy="436.9" r="1.4"/><circle class="r" cx="255.3" cy="277.9" r="1.4"/><circle class="g" cx="122.4" cy="408.4" r="1.4"/><circle class="g" cx="424.0" cy="110.4" r="1.4"/><circle class="r" cx="299.3" cy="235.2" r="1.4"/><circle class="g" cx="116.9" cy="422.5" r="1.4"/><circle class="g" cx="460.6" cy="75.2" r="1.4"/><circle class="g" cx="424.2" cy="113.1" r="1.4"/><circle class="g" cx="436.8" cy="105.3" r="1.4"/><circle class="g" cx="146.1" cy="384.4" r="1.4"/><circle class="r" cx="258.8" cy="273.9" r="1.4"/><circle class="g" cx="127.1" cy="406.9" r="1.4"/><circle class="r" cx="285.9" cy="246.6" r="1.4"/><circle class="g" cx="396.7" cy="136.2" r="1.4"/><circle class="r" cx="120.7" cy="413.5" r="1.4"/><circle class="r" cx="403.4" cy="134.2" r="1.4"/><circle class="g" cx="484.7" cy="54.3" r="1.4"/><circle class="r" cx="112.9" cy="411.9" r="1.4"/><circle class="r" cx="374.5" cy="164.2" r="1.4"/><circle class="r" cx="122.7" cy="404.8" r="1.4"/><circle class="g" cx="377.0" cy="159.5" r="1.4"/><circle class="r" cx="236.7" cy="295.3" r="1.4"/><circle class="r" cx="166.7" cy="363.7" r="1.4"/><circle class="r" cx="246.1" cy="285.2" r="1.4"/><circle class="g" cx="283.6" cy="252.5" r="1.4"/><circle class="r" cx="340.7" cy="193.8" r="1.4"/><circle class="g" cx="492.7" cy="52.5" r="1.4"/><circle class="r" cx="356.5" cy="177.9" r="1.4"/><circle class="r" cx="372.5" cy="163.0" r="1.4"/><circle class="r" cx="169.5" cy="363.2" r="1.4"/><circle class="g" cx="207.4" cy="327.7" r="1.4"/><circle class="r" cx="178.3" cy="355.7" r="1.4"/><circle class="r" cx="436.9" cy="101.4" r="1.4"/><circle class="g" cx="368.9" cy="165.6" r="1.4"/><circle class="g" cx="282.0" cy="252.6" r="1.4"/><circle class="g" cx="498.1" cy="36.3" r="1.4"/><circle class="g" cx="266.5" cy="271.9" r="1.4"/><circle class="r" cx="352.9" cy="186.8" r="1.4"/><circle class="g" cx="230.3" cy="303.2" r="1.4"/><circle class="r" cx="112.8" cy="420.8" r="1.4"/><circle class="r" cx="293.6" cy="242.2" r="1.4"/><circle class="g" cx="391.3" cy="144.4" r="1.4"/><circle class="r" cx="213.3" cy="321.5" r="1.4"/><circle class="r" cx="155.2" cy="377.5" r="1.4"/><circle class="g" cx="489.1" cy="52.8" r="1.4"/><circle class="g" cx="484.3" cy="64.2" r="1.4"/><circle class="g" cx="410.7" cy="129.4" r="1.4"/><circle class="r" cx="112.9" cy="412.8" r="1.4"/><circle class="r" cx="322.1" cy="213.2" r="1.4"/><circle class="r" cx="246.1" cy="285.4" r="1.4"/><circle class="r" cx="346.7" cy="193.3" r="1.4"/><circle class="g" cx="371.1" cy="166.7" r="1.4"/><circle class="g" cx="451.4" cy="85.3" r="1.4"/><circle class="g" cx="166.1" cy="364.0" r="1.4"/><circle class="r" cx="460.9" cy="78.0" r="1.4"/><circle class="g" cx="226.9" cy="304.4" r="1.4"/><circle class="g" cx="351.5" cy="184.4" r="1.4"/><circle class="r" cx="486.7" cy="49.5" r="1.4"/><circle class="g" cx="227.9" cy="307.2" r="1.4"/><circle class="g" cx="120.9" cy="403.3" r="1.4"/><circle class="g" cx="191.2" cy="337.9" r="1.4"/><circle class="g" cx="246.2" cy="284.6" r="1.4"/><circle class="g" cx="469.4" cy="69.8" r="1.4"/><circle class="g" cx="271.8" cy="262.4" r="1.4"/><circle class="r" cx="205.6" cy="323.9" r="1.4"/><circle class="g" cx="110.0" cy="416.0" r="1.4"/><circle class="g" cx="106.8" cy="419.6" r="1.4"/><circle class="r" cx="480.5" cy="60.1" r="1.4"/><circle class="g" cx="320.3" cy="212.5" r="1.4"/><circle class="g" cx="415.2" cy="122.0" r="1.4"/><circle class="g" cx="405.2" cy="132.2" r="1.4"/><circle class="r" cx="153.4" cy="378.9" r="1.4"/><circle class="g" cx="327.0" cy="204.3" r="1.4"/><circle class="r" cx="465.1" cy="75.0" r="1.4"/><circle class="g" cx="345.3" cy="194.0" r="1.4"/><circle class="r" cx="220.9" cy="309.6" r="1.4"/><circle class="r" cx="241.3" cy="285.8" r="1.4"/><circle class="r" cx="347.4" cy="189.2" r="1.4"/><circle class="g" cx="465.6" cy="69.4" r="1.4"/><circle class="r" cx="307.1" cy="226.9" r="1.4"/><circle class="r" cx="235.3" cy="299.2" r="1.4"/><circle class="r" cx="95.8" cy="426.3" r="1.4"/><circle class="g" cx="224.3" cy="308.2" r="1.4"/><circle class="r" cx="216.9" cy="311.9" r="1.4"/><circle class="g" cx="344.6" cy="185.0" r="1.4"/><circle class="r" cx="254.8" cy="278.4" r="1.4"/><circle class="r" cx="123.5" cy="403.9" r="1.4"/><circle class="g" cx="276.7" cy="255.4" r="1.4"/><circle class="r" cx="117.9" cy="409.8" r="1.4"/><circle class="g" cx="467.1" cy="73.3" r="1.4"/><circle class="g" cx="327.4" cy="211.4" r="1.4"/><circle class="g" cx="293.9" cy="240.5" r="1.4"/><circle class="r" cx="91.6" cy="431.4" r="1.4"/><circle class="g" cx="362.1" cy="175.6" r="1.4"/><circle class="r" cx="241.9" cy="288.7" r="1.4"/><circle class="g" cx="458.1" cy="83.3" r="1.4"/><circle class="g" cx="224.7" cy="307.5" r="1.4"/><circle class="g" cx="311.7" cy="223.0" r="1.4"/><circle class="g" cx="312.6" cy="220.9" r="1.4"/><circle class="r" cx="387.2" cy="149.2" r="1.4"/><circle class="r" cx="246.3" cy="289.2" r="1.4"/><circle class="g" cx="203.8" cy="324.5" r="1.4"/><circle class="r" cx="213.9" cy="317.9" r="1.4"/><circle class="r" cx="451.9" cy="86.5" r="1.4"/><circle class="r" cx="220.3" cy="316.2" r="1.4"/><circle class="g" cx="402.0" cy="134.3" r="1.4"/><circle class="r" cx="202.4" cy="336.6" r="1.4"/><circle class="g" cx="297.4" cy="238.8" r="1.4"/><circle class="g" cx="137.1" cy="396.6" r="1.4"/><circle class="g" cx="460.8" cy="74.6" r="1.4"/><circle class="g" cx="489.3" cy="47.6" r="1.4"/><circle class="r" cx="205.5" cy="328.5" r="1.4"/><circle class="r" cx="401.8" cy="136.3" r="1.4"/><circle class="r" cx="215.8" cy="318.9" r="1.4"/><circle class="r" cx="485.1" cy="56.6" r="1.4"/><circle class="r" cx="267.6" cy="267.0" r="1.4"/><circle class="g" cx="256.0" cy="280.3" r="1.4"/><circle class="g" cx="300.8" cy="235.6" r="1.4"/><circle class="g" cx="388.0" cy="151.1" r="1.4"/><circle class="g" cx="296.2" cy="237.3" r="1.4"/><circle class="g" cx="361.8" cy="176.8" r="1.4"/><circle class="g" cx="230.0" cy="298.3" r="1.4"/><circle class="g" cx="461.7" cy="73.3" r="1.4"/><circle class="r" cx="179.5" cy="348.0" r="1.4"/><circle class="g" cx="186.0" cy="343.3" r="1.4"/><circle class="g" cx="155.0" cy="377.2" r="1.4"/><circle class="g" cx="210.3" cy="321.0" r="1.4"/><circle class="r" cx="334.0" cy="201.1" r="1.4"/><circle class="r" cx="102.0" cy="429.9" r="1.4"/><circle class="r" cx="320.3" cy="213.1" r="1.4"/><circle class="r" cx="87.4" cy="439.9" r="1.4"/><circle class="g" cx="115.1" cy="414.2" r="1.4"/><circle class="g" cx="504.3" cy="35.5" r="1.4"/><circle class="g" cx="100.3" cy="431.2" r="1.4"/><circle class="g" cx="348.6" cy="186.2" r="1.4"/><circle class="g" cx="143.5" cy="384.4" r="1.4"/><circle class="g" cx="459.3" cy="75.2" r="1.4"/><circle class="g" cx="365.0" cy="173.9" r="1.4"/><circle class="g" cx="245.5" cy="285.6" r="1.4"/><circle class="r" cx="220.9" cy="315.7" r="1.4"/><circle class="r" cx="228.7" cy="306.5" r="1.4"/><circle class="r" cx="375.0" cy="160.3" r="1.4"/><circle class="g" cx="91.0" cy="445.6" r="1.4"/><circle class="r" cx="299.7" cy="234.9" r="1.4"/><circle class="g" cx="123.8" cy="405.3" r="1.4"/><circle class="r" cx="151.3" cy="379.2" r="1.4"/><circle class="g" cx="488.9" cy="56.1" r="1.4"/><circle class="g" cx="133.5" cy="389.5" r="1.4"/><circle class="g" cx="380.0" cy="156.3" r="1.4"/><circle class="r" cx="302.4" cy="234.9" r="1.4"/><circle class="r" cx="114.5" cy="408.1" r="1.4"/><circle class="r" cx="335.8" cy="198.6" r="1.4"/><circle class="r" cx="91.1" cy="443.5" r="1.4"/><circle class="r" cx="326.2" cy="209.4" r="1.4"/><circle class="r" cx="281.2" cy="248.2" r="1.4"/><circle class="r" cx="371.5" cy="163.6" r="1.4"/><circle class="g" cx="156.0" cy="371.2" r="1.4"/><circle class="g" cx="138.0" cy="387.8" r="1.4"/><circle class="g" cx="358.7" cy="177.5" r="1.4"/><circle class="g" cx="191.7" cy="327.1" r="1.4"/><circle class="r" cx="140.3" cy="388.4" r="1.4"/><circle class="r" cx="399.3" cy="144.3" r="1.4"/><circle class="r" cx="385.7" cy="154.9" r="1.4"/><circle class="r" cx="500.7" cy="44.9" r="1.4"/><circle class="r" cx="457.3" cy="77.3" r="1.4"/><circle class="g" cx="329.2" cy="206.0" r="1.4"/><circle class="g" cx="333.9" cy="201.2" r="1.4"/><circle class="r" cx="210.0" cy="320.4" r="1.4"/><circle class="r" cx="294.9" cy="234.5" r="1.4"/><circle class="g" cx="195.8" cy="337.6" r="1.4"/><circle class="r" cx="477.5" cy="62.8" r="1.4"/><circle class="r" cx="103.6" cy="421.0" r="1.4"/><circle class="r" cx="498.8" cy="35.6" r="1.4"/><circle class="g" cx="223.0" cy="306.5" r="1.4"/><circle class="r" cx="317.0" cy="218.1" r="1.4"/><circle class="r" cx="289.7" cy="247.5" r="1.4"/><circle class="g" cx="291.3" cy="241.2" r="1.4"/><circle class="g" cx="316.2" cy="213.0" r="1.4"/><circle class="r" cx="301.3" cy="234.5" r="1.4"/><circle class="g" cx="123.5" cy="407.2" r="1.4"/><circle class="r" cx="460.3" cy="78.3" r="1.4"/><circle class="g" cx="495.2" cy="44.0" r="1.4"/><circle class="r" cx="187.8" cy="343.9" r="1.4"/><circle class="g" cx="197.6" cy="337.5" r="1.4"/><circle class="r" cx="270.6" cy="263.6" r="1.4"/><circle class="r" cx="321.9" cy="214.1" r="1.4"/><circle class="g" cx="325.4" cy="208.9" r="1.4"/><circle class="g" cx="484.5" cy="57.4" r="1.4"/><circle class="g" cx="258.5" cy="273.0" r="1.4"/><circle class="r" cx="130.0" cy="403.0" r="1.4"/><circle class="g" cx="420.5" cy="117.2" r="1.4"/><circle class="r" cx="381.4" cy="151.6" r="1.4"/><circle class="g" cx="445.1" cy="90.0" r="1.4"/><circle class="g" cx="158.8" cy="370.1" r="1.4"/><circle class="r" cx="504.0" cy="33.1" r="1.4"/><circle class="r" cx="281.4" cy="253.0" r="1.4"/><circle class="g" cx="164.2" cy="371.5" r="1.4"/><circle class="r" cx="204.4" cy="329.6" r="1.4"/><circle class="r" cx="387.9" cy="146.2" r="1.4"/><circle class="r" cx="485.5" cy="54.6" r="1.4"/><circle class="g" cx="489.9" cy="47.9" r="1.4"/><circle class="g" cx="145.6" cy="388.6" r="1.4"/><circle class="g" cx="412.9" cy="125.0" r="1.4"/><circle class="r" cx="482.0" cy="44.0" r="1.4"/><circle class="g" cx="494.0" cy="44.7" r="1.4"/><circle class="g" cx="112.0" cy="416.5" r="1.4"/><circle class="g" cx="428.9" cy="113.3" r="1.4"/><circle class="r" cx="208.2" cy="323.2" r="1.4"/><circle class="r" cx="108.5" cy="419.6" r="1.4"/><circle class="r" cx="317.7" cy="217.7" r="1.4"/><circle class="g" cx="341.2" cy="193.4" r="1.4"/><circle class="g" cx="424.5" cy="117.0" r="1.4"/><circle class="r" cx="457.2" cy="85.0" r="1.4"/><circle class="r" cx="448.8" cy="94.2" r="1.4"/><circle class="r" cx="449.2" cy="90.9" r="1.4"/><circle class="g" cx="480.4" cy="56.2" r="1.4"/><circle class="g" cx="378.9" cy="157.4" r="1.4"/><circle class="g" cx="228.5" cy="304.7" r="1.4"/><circle class="g" cx="86.5" cy="443.8" r="1.4"/><circle class="g" cx="434.2" cy="102.2" r="1.4"/><circle class="r" cx="176.1" cy="354.7" r="1.4"/><circle class="g" cx="347.9" cy="189.7" r="1.4"/><circle class="g" cx="183.8" cy="345.5" r="1.4"/><circle class="r" cx="156.4" cy="373.7" r="1.4"/><circle class="g" cx="376.3" cy="161.8" r="1.4"/><circle class="r" cx="101.9" cy="427.9" r="1.4"/><circle class="r" cx="93.4" cy="434.8" r="1.4"/><circle class="g" cx="105.8" cy="423.0" r="1.4"/><circle class="r" cx="294.2" cy="239.1" r="1.4"/><circle class="r" cx="265.1" cy="270.7" r="1.4"/><circle class="g" cx="357.0" cy="178.3" r="1.4"/><circle class="g" cx="500.3" cy="42.2" r="1.4"/><circle class="g" cx="305.7" cy="228.1" r="1.4"/><circle class="r" cx="216.5" cy="311.9" r="1.4"/><circle class="g" cx="462.7" cy="78.1" r="1.4"/><circle class="r" cx="474.1" cy="64.6" r="1.4"/><circle class="r" cx="284.9" cy="246.2" r="1.4"/><circle class="r" cx="493.8" cy="51.5" r="1.4"/><circle class="r" cx="279.8" cy="252.6" r="1.4"/><circle class="r" cx="320.3" cy="214.2" r="1.4"/><circle class="g" cx="162.2" cy="369.2" r="1.4"/><circle class="r" cx="151.6" cy="381.6" r="1.4"/><circle class="r" cx="151.6" cy="380.6" r="1.4"/><circle class="g" cx="396.7" cy="136.0" r="1.4"/><circle class="r" cx="123.5" cy="405.6" r="1.4"/><circle class="g" cx="281.4" cy="252.7" r="1.4"/><circle class="r" cx="316.2" cy="222.7" r="1.4"/><circle class="r" cx="495.8" cy="36.9" r="1.4"/><circle class="r" cx="429.5" cy="106.9" r="1.4"/><circle class="r" cx="280.7" cy="250.2" r="1.4"/><circle class="r" cx="339.4" cy="201.1" r="1.4"/><circle class="g" cx="196.3" cy="334.8" r="1.4"/><circle class="r" cx="454.3" cy="81.9" r="1.4"/><circle class="r" cx="267.8" cy="263.8" r="1.4"/><circle class="r" cx="342.3" cy="187.8" r="1.4"/><circle class="r" cx="188.9" cy="341.4" r="1.4"/><circle class="r" cx="368.6" cy="170.9" r="1.4"/><circle class="r" cx="96.8" cy="436.5" r="1.4"/><circle class="g" cx="338.1" cy="199.1" r="1.4"/><circle class="r" cx="299.7" cy="235.3" r="1.4"/><circle class="g" cx="170.3" cy="361.3" r="1.4"/><circle class="r" cx="375.3" cy="163.8" r="1.4"/><circle class="g" cx="227.5" cy="306.9" r="1.4"/><circle class="r" cx="170.4" cy="361.0" r="1.4"/><circle class="r" cx="460.7" cy="98.3" r="1.4"/><circle class="g" cx="202.9" cy="330.5" r="1.4"/><circle class="g" cx="225.6" cy="307.8" r="1.4"/><circle class="g" cx="209.5" cy="319.2" r="1.4"/><circle class="g" cx="148.3" cy="379.2" r="1.4"/><circle class="g" cx="176.0" cy="357.1" r="1.4"/><circle class="r" cx="139.0" cy="392.8" r="1.4"/><circle class="r" cx="140.5" cy="384.6" r="1.4"/><circle class="g" cx="87.8" cy="444.6" r="1.4"/><circle class="g" cx="321.8" cy="212.7" r="1.4"/><circle class="g" cx="87.1" cy="442.6" r="1.4"/><circle class="r" cx="469.8" cy="68.6" r="1.4"/><circle class="g" cx="342.3" cy="196.5" r="1.4"/><circle class="g" cx="456.9" cy="79.3" r="1.4"/><circle class="g" cx="490.1" cy="48.4" r="1.4"/><circle class="g" cx="196.7" cy="332.6" r="1.4"/><circle class="r" cx="129.5" cy="395.9" r="1.4"/><circle class="r" cx="344.9" cy="189.1" r="1.4"/><circle class="g" cx="337.5" cy="199.4" r="1.4"/><circle class="r" cx="214.6" cy="314.1" r="1.4"/><circle class="g" cx="262.4" cy="270.6" r="1.4"/><circle class="g" cx="438.9" cy="99.8" r="1.4"/><circle class="r" cx="354.8" cy="177.3" r="1.4"/><circle class="g" cx="306.3" cy="226.8" r="1.4"/><circle class="r" cx="227.3" cy="304.4" r="1.4"/><circle class="g" cx="216.5" cy="316.2" r="1.4"/><circle class="g" cx="409.7" cy="122.3" r="1.4"/><circle class="g" cx="472.5" cy="64.0" r="1.4"/><circle class="g" cx="200.9" cy="336.9" r="1.4"/><circle class="r" cx="486.5" cy="53.8" r="1.4"/><circle class="r" cx="346.0" cy="193.0" r="1.4"/><circle class="r" cx="383.3" cy="152.9" r="1.4"/><circle class="g" cx="121.3" cy="408.0" r="1.4"/><circle class="r" cx="95.1" cy="430.9" r="1.4"/><circle class="g" cx="290.2" cy="244.8" r="1.4"/><circle class="g" cx="449.5" cy="87.8" r="1.4"/><circle class="g" cx="103.7" cy="429.4" r="1.4"/><circle class="g" cx="253.8" cy="282.2" r="1.4"/><circle class="g" cx="240.4" cy="294.7" r="1.4"/><circle class="r" cx="326.0" cy="207.3" r="1.4"/><circle class="r" cx="98.4" cy="433.3" r="1.4"/><circle class="r" cx="302.4" cy="231.3" r="1.4"/><circle class="g" cx="266.6" cy="268.0" r="1.4"/><circle class="r" cx="333.3" cy="200.3" r="1.4"/><circle class="r" cx="412.5" cy="121.0" r="1.4"/><circle class="g" cx="312.4" cy="219.9" r="1.4"/><circle class="g" cx="504.2" cy="31.4" r="1.4"/><circle class="g" cx="177.8" cy="353.1" r="1.4"/><circle class="r" cx="103.6" cy="425.0" r="1.4"/><circle class="r" cx="133.1" cy="398.4" r="1.4"/><circle class="r" cx="142.4" cy="384.6" r="1.4"/><circle class="r" cx="384.4" cy="156.0" r="1.4"/><circle class="g" cx="347.9" cy="187.3" r="1.4"/><circle class="g" cx="390.8" cy="144.1" r="1.4"/><circle class="r" cx="384.7" cy="150.1" r="1.4"/><circle class="g" cx="136.5" cy="392.7" r="1.4"/><circle class="g" cx="302.4" cy="228.6" r="1.4"/><circle class="g" cx="434.4" cy="89.6" r="1.4"/><circle class="g" cx="246.7" cy="288.6" r="1.4"/><circle class="g" cx="176.6" cy="353.5" r="1.4"/><circle class="g" cx="165.6" cy="366.8" r="1.4"/><circle class="g" cx="137.5" cy="389.4" r="1.4"/><circle class="r" cx="275.4" cy="259.6" r="1.4"/><circle class="r" cx="273.1" cy="259.8" r="1.4"/><circle class="r" cx="86.7" cy="440.4" r="1.4"/><circle class="r" cx="373.3" cy="162.0" r="1.4"/><circle class="g" cx="290.5" cy="246.5" r="1.4"/><circle class="r" cx="193.1" cy="330.7" r="1.4"/><circle class="r" cx="450.1" cy="81.1" r="1.4"/><circle class="r" cx="441.2" cy="100.4" r="1.4"/><circle class="g" cx="93.0" cy="438.8" r="1.4"/><circle class="r" cx="458.5" cy="76.0" r="1.4"/><circle class="g" cx="263.2" cy="267.8" r="1.4"/><circle class="r" cx="335.9" cy="196.2" r="1.4"/><circle class="r" cx="272.9" cy="261.0" r="1.4"/><circle class="r" cx="458.6" cy="77.8" r="1.4"/><circle class="r" cx="458.0" cy="84.8" r="1.4"/><circle class="r" cx="153.8" cy="379.4" r="1.4"/><circle class="r" cx="439.8" cy="98.4" r="1.4"/><circle class="g" cx="338.7" cy="200.1" r="1.4"/><circle class="g" cx="209.5" cy="319.0" r="1.4"/><circle class="g" cx="334.7" cy="191.9" r="1.4"/><circle class="r" cx="105.8" cy="426.1" r="1.4"/><circle class="r" cx="486.6" cy="53.3" r="1.4"/><circle class="g" cx="244.5" cy="289.0" r="1.4"/><circle class="r" cx="299.3" cy="236.0" r="1.4"/><circle class="r" cx="442.7" cy="97.8" r="1.4"/><circle class="g" cx="137.9" cy="398.7" r="1.4"/><circle class="r" cx="315.1" cy="219.9" r="1.4"/><circle class="r" cx="212.9" cy="317.0" r="1.4"/><circle class="g" cx="134.6" cy="397.3" r="1.4"/><circle class="r" cx="470.9" cy="77.8" r="1.4"/><circle class="r" cx="446.6" cy="90.8" r="1.4"/><circle class="g" cx="159.0" cy="369.3" r="1.4"/><circle class="r" cx="326.6" cy="205.2" r="1.4"/><circle class="r" cx="463.5" cy="79.3" r="1.4"/><circle class="g" cx="477.0" cy="54.5" r="1.4"/><circle class="g" cx="178.5" cy="354.2" r="1.4"/><circle class="r" cx="180.4" cy="351.4" r="1.4"/><circle class="r" cx="172.5" cy="358.3" r="1.4"/><circle class="g" cx="450.7" cy="95.8" r="1.4"/><circle class="g" cx="366.3" cy="169.1" r="1.4"/><circle class="r" cx="240.4" cy="290.0" r="1.4"/><circle class="r" cx="149.0" cy="380.3" r="1.4"/><circle class="r" cx="146.6" cy="384.6" r="1.4"/><circle class="g" cx="112.5" cy="418.1" r="1.4"/><circle class="r" cx="151.2" cy="379.8" r="1.4"/><circle class="g" cx="167.5" cy="358.2" r="1.4"/><circle class="r" cx="414.8" cy="124.1" r="1.4"/><circle class="r" cx="232.9" cy="297.2" r="1.4"/><circle class="r" cx="474.3" cy="63.4" r="1.4"/><circle class="r" cx="223.9" cy="307.5" r="1.4"/><circle class="g" cx="395.7" cy="136.4" r="1.4"/><circle class="g" cx="198.3" cy="332.9" r="1.4"/><circle class="g" cx="151.5" cy="382.2" r="1.4"/><circle class="g" cx="337.7" cy="197.1" r="1.4"/><circle class="r" cx="338.9" cy="193.7" r="1.4"/><circle class="g" cx="300.6" cy="235.3" r="1.4"/><circle class="g" cx="483.3" cy="50.9" r="1.4"/><circle class="g" cx="110.1" cy="419.7" r="1.4"/><circle class="g" cx="474.8" cy="65.5" r="1.4"/><circle class="g" cx="493.2" cy="49.7" r="1.4"/><circle class="r" cx="428.0" cy="111.1" r="1.4"/><circle class="r" cx="369.4" cy="167.7" r="1.4"/><circle class="g" cx="455.8" cy="81.9" r="1.4"/><circle class="r" cx="201.1" cy="337.3" r="1.4"/><circle class="r" cx="337.6" cy="195.2" r="1.4"/><circle class="g" cx="403.8" cy="135.7" r="1.4"/><circle class="r" cx="147.4" cy="384.4" r="1.4"/><circle class="r" cx="275.6" cy="258.9" r="1.4"/><circle class="g" cx="414.9" cy="123.3" r="1.4"/><circle class="r" cx="327.3" cy="205.1" r="1.4"/><circle class="g" cx="250.5" cy="279.6" r="1.4"/><circle class="g" cx="336.3" cy="194.6" r="1.4"/><circle class="g" cx="349.8" cy="177.3" r="1.4"/><circle class="g" cx="268.4" cy="264.3" r="1.4"/><circle class="r" cx="167.9" cy="365.6" r="1.4"/><circle class="r" cx="382.2" cy="149.5" r="1.4"/><circle class="r" cx="396.2" cy="139.8" r="1.4"/><circle class="r" cx="413.3" cy="118.3" r="1.4"/><circle class="g" cx="378.3" cy="157.4" r="1.4"/><circle class="g" cx="322.5" cy="212.4" r="1.4"/><circle class="g" cx="403.9" cy="134.6" r="1.4"/><circle class="r" cx="421.4" cy="113.2" r="1.4"/><circle class="r" cx="247.2" cy="285.6" r="1.4"/><circle class="r" cx="199.9" cy="316.4" r="1.4"/><circle class="g" cx="364.0" cy="170.6" r="1.4"/><circle class="g" cx="423.3" cy="120.1" r="1.4"/><circle class="r" cx="125.4" cy="404.0" r="1.4"/><circle class="g" cx="407.5" cy="135.7" r="1.4"/><circle class="r" cx="492.2" cy="51.3" r="1.4"/><circle class="g" cx="438.3" cy="99.0" r="1.4"/><circle class="g" cx="500.5" cy="40.8" r="1.4"/><circle class="g" cx="186.8" cy="341.6" r="1.4"/><circle class="g" cx="163.0" cy="364.1" r="1.4"/><circle class="r" cx="151.5" cy="382.4" r="1.4"/><circle class="r" cx="494.1" cy="45.6" r="1.4"/><circle class="g" cx="127.3" cy="399.4" r="1.4"/><circle class="g" cx="127.7" cy="395.9" r="1.4"/><circle class="g" cx="137.2" cy="394.0" r="1.4"/><circle class="r" cx="148.9" cy="381.7" r="1.4"/><circle class="r" cx="138.6" cy="388.0" r="1.4"/><circle class="r" cx="316.7" cy="218.9" r="1.4"/><circle class="g" cx="129.7" cy="404.8" r="1.4"/><circle class="r" cx="152.9" cy="376.0" r="1.4"/><circle class="g" cx="102.2" cy="428.4" r="1.4"/><circle class="g" cx="422.1" cy="116.0" r="1.4"/><circle class="r" cx="341.1" cy="197.1" r="1.4"/><circle class="g" cx="307.6" cy="226.0" r="1.4"/><circle class="r" cx="309.6" cy="227.0" r="1.4"/><circle class="r" cx="96.5" cy="431.4" r="1.4"/><circle class="r" cx="377.4" cy="160.1" r="1.4"/><circle class="g" cx="207.6" cy="326.6" r="1.4"/><circle class="g" cx="224.4" cy="306.0" r="1.4"/><circle class="r" cx="370.5" cy="162.6" r="1.4"/><circle class="r" cx="252.1" cy="282.4" r="1.4"/><circle class="r" cx="330.3" cy="204.0" r="1.4"/><circle class="r" cx="96.8" cy="430.6" r="1.4"/><circle class="g" cx="482.3" cy="56.8" r="1.4"/><circle class="g" cx="100.2" cy="432.9" r="1.4"/><circle class="g" cx="436.9" cy="101.7" r="1.4"/><circle class="g" cx="222.8" cy="312.0" r="1.4"/><circle class="r" cx="400.5" cy="140.5" r="1.4"/><circle class="g" cx="172.9" cy="357.4" r="1.4"/><circle class="r" cx="205.4" cy="323.9" r="1.4"/><circle class="r" cx="287.3" cy="245.6" r="1.4"/><circle class="g" cx="163.9" cy="366.3" r="1.4"/><circle class="r" cx="270.2" cy="263.6" r="1.4"/><circle class="y" cx="115.2" cy="404.1" r="1.4"/><circle class="y" cx="407.3" cy="127.1" r="1.4"/><circle class="b" cx="127.6" cy="397.6" r="1.4"/><circle class="c" cx="254.0" cy="278.4" r="1.4"/><circle class="b" cx="170.9" cy="356.6" r="1.4"/><circle class="c" cx="296.9" cy="233.5" r="1.4"/><circle class="m" cx="251.5" cy="280.5" r="1.4"/><circle class="b" cx="413.3" cy="128.1" r="1.4"/><circle class="y" cx="373.2" cy="165.3" r="1.4"/><circle class="c" cx="135.7" cy="389.0" r="1.4"/><circle class="b" cx="154.1" cy="406.1" r="1.4"/><circle class="b" cx="401.8" cy="135.9" r="1.4"/><circle class="c" cx="282.9" cy="259.5" r="1.4"/><circle class="y" cx="327.5" cy="200.1" r="1.4"/><circle class="y" cx="240.7" cy="287.4" r="1.4"/><circle class="m" cx="235.0" cy="298.5" r="1.4"/><circle class="c" cx="435.2" cy="109.5" r="1.4"/><circle class="b" cx="450.1" cy="92.5" r="1.4"/><circle class="b" cx="272.1" cy="264.4" r="1.4"/><circle class="y" cx="443.3" cy="86.1" r="1.4"/><circle class="y" cx="121.1" cy="395.9" r="1.4"/><circle class="b" cx="270.0" cy="262.1" r="1.4"/><circle class="y" cx="424.8" cy="116.2" r="1.4"/><circle class="y" cx="129.0" cy="397.3" r="1.4"/><circle class="m" cx="210.0" cy="321.2" r="1.4"/><circle class="m" cx="472.9" cy="72.4" r="1.4"/><circle class="b" cx="380.5" cy="161.1" r="1.4"/><circle class="y" cx="285.3" cy="250.5" r="1.4"/><circle class="y" cx="407.3" cy="124.3" r="1.4"/><circle class="y" cx="497.6" cy="43.2" r="1.4"/><circle class="b" cx="255.0" cy="284.2" r="1.4"/><circle class="m" cx="129.5" cy="393.4" r="1.4"/><circle class="m" cx="491.9" cy="48.8" r="1.4"/><circle class="b" cx="443.6" cy="102.2" r="1.4"/><circle class="m" cx="145.9" cy="387.7" r="1.4"/><circle class="y" cx="218.4" cy="316.2" r="1.4"/><circle class="y" cx="428.6" cy="96.5" r="1.4"/><circle class="b" cx="408.5" cy="127.6" r="1.4"/><circle class="y" cx="221.3" cy="310.4" r="1.4"/><circle class="b" cx="456.1" cy="82.4" r="1.4"/><circle class="b" cx="485.5" cy="54.5" r="1.4"/><circle class="c" cx="252.8" cy="281.1" r="1.4"/><circle class="m" cx="220.2" cy="309.5" r="1.4"/><circle class="m" cx="443.7" cy="92.5" r="1.4"/><circle class="m" cx="350.0" cy="177.8" r="1.4"/><circle class="m" cx="96.0" cy="423.7" r="1.4"/><circle class="b" cx="131.9" cy="407.4" r="1.4"/><circle class="c" cx="409.8" cy="130.5" r="1.4"/><circle class="y" cx="206.3" cy="322.3" r="1.4"/><circle class="c" cx="106.6" cy="422.4" r="1.4"/><circle class="y" cx="315.5" cy="215.5" r="1.4"/><circle class="c" cx="188.6" cy="343.3" r="1.4"/><circle class="m" cx="231.2" cy="311.1" r="1.4"/><circle class="y" cx="250.5" cy="279.1" r="1.4"/><circle class="b" cx="278.4" cy="256.1" r="1.4"/><circle class="b" cx="381.1" cy="157.9" r="1.4"/><circle class="b" cx="474.6" cy="69.0" r="1.4"/><circle class="b" cx="332.8" cy="205.3" r="1.4"/><circle class="b" cx="89.8" cy="447.3" r="1.4"/><circle class="y" cx="466.4" cy="76.6" r="1.4"/><circle class="m" cx="354.3" cy="182.2" r="1.4"/><circle class="m" cx="275.3" cy="262.8" r="1.4"/><circle class="y" cx="367.5" cy="169.3" r="1.4"/><circle class="b" cx="417.5" cy="126.5" r="1.4"/><circle class="b" cx="214.0" cy="316.8" r="1.4"/><circle class="m" cx="140.5" cy="389.9" r="1.4"/><circle class="c" cx="480.8" cy="53.7" r="1.4"/><circle class="m" cx="182.8" cy="350.5" r="1.4"/><circle class="m" cx="227.3" cy="304.7" r="1.4"/><circle class="m" cx="434.6" cy="109.9" r="1.4"/><circle class="y" cx="489.4" cy="34.6" r="1.4"/><circle class="m" cx="141.7" cy="392.8" r="1.4"/><circle class="b" cx="367.9" cy="166.2" r="1.4"/><circle class="b" cx="303.5" cy="228.2" r="1.4"/><circle class="b" cx="235.7" cy="315.2" r="1.4"/><circle class="b" cx="194.4" cy="334.4" r="1.4"/><circle class="b" cx="159.5" cy="381.1" r="1.4"/><circle class="c" cx="388.5" cy="145.8" r="1.4"/><circle class="c" cx="262.0" cy="270.7" r="1.4"/><circle class="y" cx="134.9" cy="387.2" r="1.4"/><circle class="c" cx="450.4" cy="93.3" r="1.4"/><circle class="b" cx="161.7" cy="376.8" r="1.4"/><circle class="y" cx="490.6" cy="47.4" r="1.4"/><circle class="c" cx="373.8" cy="158.4" r="1.4"/><circle class="m" cx="387.8" cy="151.2" r="1.4"/><circle class="m" cx="396.8" cy="139.5" r="1.4"/><circle class="c" cx="293.1" cy="244.9" r="1.4"/><circle class="b" cx="395.0" cy="146.7" r="1.4"/><circle class="b" cx="352.3" cy="189.8" r="1.4"/><circle class="m" cx="252.4" cy="270.9" r="1.4"/><circle class="b" cx="503.0" cy="35.5" r="1.4"/><circle class="b" cx="100.2" cy="439.2" r="1.4"/><circle class="m" cx="220.5" cy="314.0" r="1.4"/><circle class="m" cx="160.9" cy="364.9" r="1.4"/><circle class="y" cx="388.1" cy="143.2" r="1.4"/><circle class="c" cx="333.8" cy="203.9" r="1.4"/><circle class="b" cx="166.9" cy="366.5" r="1.4"/><circle class="y" cx="183.4" cy="339.7" r="1.4"/><circle class="b" cx="345.0" cy="191.5" r="1.4"/><circle class="y" cx="419.3" cy="119.0" r="1.4"/><circle class="m" cx="224.8" cy="306.0" r="1.4"/><circle class="m" cx="295.1" cy="235.1" r="1.4"/><circle class="c" cx="480.8" cy="63.2" r="1.4"/><circle class="b" cx="210.0" cy="321.0" r="1.4"/><circle class="y" cx="312.5" cy="214.2" r="1.4"/><circle class="c" cx="196.0" cy="339.1" r="1.4"/><circle class="b" cx="154.8" cy="376.4" r="1.4"/><circle class="y" cx="458.0" cy="76.4" r="1.4"/><circle class="m" cx="141.3" cy="388.1" r="1.4"/><circle class="c" cx="186.9" cy="342.3" r="1.4"/><circle class="c" cx="434.6" cy="100.2" r="1.4"/><circle class="y" cx="495.1" cy="31.7" r="1.4"/><circle class="y" cx="173.3" cy="365.4" r="1.4"/><circle class="c" cx="98.7" cy="429.7" r="1.4"/><circle class="y" cx="411.1" cy="120.2" r="1.4"/><circle class="c" cx="169.4" cy="366.7" r="1.4"/><circle class="m" cx="258.2" cy="272.2" r="1.4"/><circle class="m" cx="437.4" cy="100.6" r="1.4"/><circle class="c" cx="485.7" cy="55.3" r="1.4"/><circle class="b" cx="308.0" cy="228.2" r="1.4"/><circle class="y" cx="390.3" cy="151.6" r="1.4"/><circle class="b" cx="196.6" cy="338.6" r="1.4"/><circle class="m" cx="339.8" cy="190.5" r="1.4"/><circle class="m" cx="449.9" cy="90.4" r="1.4"/><circle class="b" cx="479.2" cy="56.7" r="1.4"/><circle class="c" cx="319.7" cy="213.0" r="1.4"/><circle class="b" cx="360.9" cy="171.2" r="1.4"/><circle class="m" cx="315.0" cy="218.9" r="1.4"/><circle class="y" cx="224.5" cy="303.8" r="1.4"/><circle class="c" cx="168.2" cy="364.8" r="1.4"/><circle class="y" cx="315.8" cy="216.6" r="1.4"/><circle class="m" cx="436.4" cy="103.1" r="1.4"/><circle class="m" cx="246.0" cy="289.4" r="1.4"/><circle class="y" cx="473.2" cy="63.8" r="1.4"/><circle class="y" cx="332.4" cy="206.8" r="1.4"/><circle class="c" cx="138.6" cy="398.3" r="1.4"/><circle class="b" cx="307.0" cy="232.5" r="1.4"/><circle class="b" cx="200.8" cy="344.3" r="1.4"/><circle class="m" cx="448.5" cy="89.8" r="1.4"/><circle class="m" cx="225.4" cy="313.8" r="1.4"/><circle class="m" cx="403.8" cy="129.7" r="1.4"/><circle class="b" cx="197.4" cy="337.3" r="1.4"/><circle class="y" cx="431.5" cy="103.6" r="1.4"/><circle class="b" cx="106.7" cy="435.1" r="1.4"/><circle class="c" cx="405.7" cy="127.8" r="1.4"/><circle class="m" cx="344.4" cy="187.4" r="1.4"/><circle class="b" cx="344.6" cy="195.6" r="1.4"/><circle class="b" cx="245.9" cy="293.9" r="1.4"/><circle class="b" cx="429.2" cy="111.8" r="1.4"/><circle class="b" cx="307.1" cy="229.4" r="1.4"/><circle class="m" cx="95.7" cy="434.2" r="1.4"/><circle class="c" cx="352.6" cy="182.8" r="1.4"/><circle class="c" cx="287.8" cy="248.7" r="1.4"/><circle class="b" cx="410.1" cy="126.5" r="1.4"/><circle class="c" cx="88.8" cy="439.8" r="1.4"/><circle class="m" cx="480.2" cy="57.9" r="1.4"/><circle class="b" cx="431.1" cy="107.7" r="1.4"/><circle class="b" cx="436.6" cy="103.1" r="1.4"/><circle class="b" cx="300.3" cy="236.8" r="1.4"/><circle class="b" cx="345.8" cy="192.2" r="1.4"/><circle class="b" cx="478.7" cy="73.7" r="1.4"/><circle class="m" cx="262.5" cy="268.2" r="1.4"/><circle class="m" cx="492.2" cy="32.8" r="1.4"/><circle class="m" cx="95.2" cy="426.2" r="1.4"/><circle class="b" cx="456.0" cy="101.6" r="1.4"/><circle class="b" cx="93.2" cy="431.5" r="1.4"/><circle class="b" cx="269.1" cy="268.3" r="1.4"/><circle class="b" cx="453.2" cy="81.9" r="1.4"/><circle class="y" cx="205.3" cy="325.7" r="1.4"/><circle class="m" cx="164.6" cy="359.8" r="1.4"/><circle class="m" cx="315.3" cy="211.2" r="1.4"/><circle class="y" cx="315.4" cy="221.1" r="1.4"/><circle class="y" cx="277.5" cy="295.6" r="1.4"/><circle class="c" cx="464.7" cy="74.8" r="1.4"/><circle class="y" cx="445.2" cy="96.5" r="1.4"/><circle class="y" cx="496.4" cy="39.4" r="1.4"/><circle class="c" cx="340.5" cy="194.8" r="1.4"/><circle class="m" cx="194.4" cy="336.2" r="1.4"/><circle class="y" cx="193.8" cy="328.6" r="1.4"/><circle class="m" cx="276.7" cy="255.7" r="1.4"/><circle class="b" cx="488.8" cy="48.7" r="1.4"/><circle class="m" cx="393.2" cy="139.5" r="1.4"/><circle class="y" cx="396.3" cy="130.7" r="1.4"/><circle class="m" cx="339.4" cy="193.8" r="1.4"/><circle class="m" cx="155.3" cy="372.9" r="1.4"/><circle class="b" cx="255.9" cy="281.7" r="1.4"/><circle class="y" cx="466.4" cy="71.1" r="1.4"/><circle class="c" cx="268.4" cy="264.9" r="1.4"/><circle class="y" cx="466.5" cy="70.9" r="1.4"/><circle class="m" cx="291.1" cy="242.1" r="1.4"/><circle class="y" cx="286.1" cy="242.7" r="1.4"/><circle class="m" cx="338.9" cy="191.8" r="1.4"/><circle class="c" cx="481.6" cy="52.4" r="1.4"/><circle class="m" cx="320.1" cy="215.3" r="1.4"/><circle class="m" cx="329.1" cy="211.0" r="1.4"/><circle class="y" cx="162.4" cy="365.2" r="1.4"/><circle class="b" cx="374.7" cy="162.7" r="1.4"/><circle class="m" cx="378.1" cy="165.4" r="1.4"/><circle class="c" cx="375.5" cy="162.4" r="1.4"/><circle class="y" cx="220.1" cy="312.6" r="1.4"/><circle class="y" cx="239.4" cy="287.0" r="1.4"/><circle class="c" cx="220.8" cy="312.1" r="1.4"/><circle class="m" cx="357.2" cy="176.7" r="1.4"/><circle class="c" cx="405.8" cy="135.1" r="1.4"/><circle class="y" cx="495.4" cy="39.6" r="1.4"/><circle class="b" cx="411.5" cy="127.2" r="1.4"/><circle class="m" cx="88.1" cy="433.8" r="1.4"/><circle class="c" cx="123.7" cy="397.7" r="1.4"/><circle class="y" cx="257.0" cy="279.0" r="1.4"/><circle class="b" cx="106.0" cy="425.6" r="1.4"/><circle class="c" cx="234.0" cy="296.8" r="1.4"/><circle class="b" cx="88.1" cy="449.3" r="1.4"/><circle class="c" cx="364.5" cy="167.1" r="1.4"/><circle class="b" cx="119.1" cy="411.0" r="1.4"/><circle class="b" cx="361.0" cy="174.1" r="1.4"/><circle class="c" cx="131.4" cy="393.9" r="1.4"/><circle class="b" cx="154.1" cy="381.7" r="1.4"/><circle class="b" cx="423.0" cy="118.9" r="1.4"/><circle class="b" cx="432.0" cy="107.4" r="1.4"/><circle class="y" cx="312.8" cy="218.9" r="1.4"/><circle class="c" cx="302.3" cy="219.0" r="1.4"/><circle class="b" cx="305.9" cy="243.1" r="1.4"/><circle class="m" cx="361.5" cy="180.0" r="1.4"/><circle class="b" cx="386.2" cy="158.2" r="1.4"/><circle class="c" cx="340.8" cy="196.3" r="1.4"/><circle class="y" cx="92.6" cy="435.6" r="1.4"/><circle class="c" cx="183.7" cy="350.3" r="1.4"/><circle class="m" cx="462.6" cy="79.0" r="1.4"/><circle class="c" cx="403.6" cy="141.1" r="1.4"/><circle class="y" cx="326.0" cy="204.0" r="1.4"/><circle class="y" cx="418.8" cy="120.8" r="1.4"/><circle class="c" cx="442.6" cy="92.1" r="1.4"/><circle class="y" cx="183.4" cy="342.5" r="1.4"/><circle class="c" cx="101.1" cy="424.8" r="1.4"/><circle class="c" cx="264.0" cy="266.8" r="1.4"/><circle class="b" cx="250.0" cy="276.9" r="1.4"/><circle class="y" cx="222.2" cy="312.0" r="1.4"/><circle class="y" cx="123.3" cy="404.7" r="1.4"/><circle class="m" cx="144.4" cy="384.4" r="1.4"/><circle class="m" cx="385.0" cy="148.8" r="1.4"/><circle class="y" cx="501.0" cy="43.9" r="1.4"/><circle class="m" cx="226.5" cy="311.6" r="1.4"/><circle class="b" cx="125.6" cy="404.4" r="1.4"/><circle class="b" cx="201.3" cy="330.1" r="1.4"/><circle class="c" cx="486.6" cy="48.8" r="1.4"/><circle class="y" cx="462.8" cy="74.7" r="1.4"/><circle class="c" cx="171.7" cy="359.1" r="1.4"/><circle class="b" cx="204.3" cy="325.2" r="1.4"/><circle class="b" cx="468.4" cy="93.6" r="1.4"/><circle class="c" cx="291.3" cy="245.6" r="1.4"/><circle class="b" cx="171.6" cy="358.6" r="1.4"/><circle class="y" cx="199.4" cy="337.3" r="1.4"/><circle class="m" cx="304.0" cy="227.1" r="1.4"/><circle class="c" cx="432.8" cy="107.6" r="1.4"/><circle class="m" cx="110.8" cy="425.8" r="1.4"/><circle class="c" cx="103.5" cy="423.5" r="1.4"/><circle class="m" cx="109.8" cy="427.6" r="1.4"/><circle class="m" cx="202.4" cy="334.0" r="1.4"/><circle class="y" cx="326.8" cy="236.3" r="1.4"/><circle class="y" cx="135.7" cy="396.4" r="1.4"/><circle class="m" cx="298.3" cy="238.1" r="1.4"/><circle class="c" cx="163.5" cy="369.9" r="1.4"/><circle class="c" cx="468.4" cy="74.8" r="1.4"/><circle class="b" cx="385.7" cy="155.7" r="1.4"/><circle class="c" cx="349.6" cy="184.6" r="1.4"/><circle class="c" cx="250.9" cy="280.6" r="1.4"/><circle class="c" cx="163.6" cy="368.3" r="1.4"/><circle class="m" cx="154.4" cy="374.7" r="1.4"/><circle class="m" cx="227.3" cy="298.4" r="1.4"/><circle class="y" cx="405.1" cy="125.7" r="1.4"/><circle class="y" cx="157.8" cy="373.9" r="1.4"/><circle class="c" cx="220.3" cy="312.0" r="1.4"/><circle class="b" cx="436.8" cy="106.7" r="1.4"/><circle class="m" cx="185.8" cy="348.9" r="1.4"/><circle class="c" cx="455.8" cy="92.0" r="1.4"/><circle class="m" cx="411.2" cy="124.7" r="1.4"/><circle class="y" cx="371.5" cy="159.1" r="1.4"/><circle class="c" cx="218.0" cy="317.7" r="1.4"/><circle class="b" cx="353.6" cy="180.1" r="1.4"/><circle class="m" cx="252.5" cy="282.0" r="1.4"/><circle class="m" cx="419.4" cy="112.6" r="1.4"/><circle class="m" cx="210.6" cy="310.0" r="1.4"/><circle class="y" cx="137.0" cy="392.6" r="1.4"/><circle class="c" cx="271.0" cy="260.0" r="1.4"/><circle class="c" cx="375.4" cy="159.8" r="1.4"/><circle class="c" cx="410.6" cy="126.5" r="1.4"/><circle class="y" cx="184.4" cy="341.5" r="1.4"/><circle class="b" cx="153.8" cy="376.9" r="1.4"/><circle class="c" cx="219.1" cy="309.3" r="1.4"/><circle class="m" cx="367.8" cy="168.8" r="1.4"/><circle class="m" cx="448.1" cy="93.7" r="1.4"/><circle class="c" cx="501.2" cy="41.0" r="1.4"/><circle class="m" cx="224.9" cy="305.6" r="1.4"/><circle class="m" cx="427.9" cy="103.6" r="1.4"/><circle class="m" cx="100.4" cy="429.2" r="1.4"/><circle class="y" cx="275.3" cy="264.7" r="1.4"/><circle class="y" cx="404.2" cy="134.0" r="1.4"/><circle class="c" cx="286.2" cy="248.8" r="1.4"/><circle class="m" cx="120.1" cy="416.3" r="1.4"/><circle class="m" cx="426.1" cy="110.9" r="1.4"/><circle class="b" cx="149.9" cy="387.3" r="1.4"/><circle class="b" cx="355.9" cy="181.9" r="1.4"/><circle class="y" cx="130.2" cy="396.2" r="1.4"/><circle class="y" cx="452.1" cy="57.4" r="1.4"/><circle class="m" cx="99.6" cy="422.6" r="1.4"/><circle class="y" cx="122.9" cy="400.2" r="1.4"/><circle class="y" cx="493.7" cy="41.6" r="1.4"/><circle class="m" cx="265.5" cy="266.1" r="1.4"/><circle class="c" cx="216.5" cy="315.0" r="1.4"/><circle class="c" cx="399.5" cy="131.4" r="1.4"/><circle class="c" cx="178.2" cy="354.6" r="1.4"/><circle class="m" cx="222.0" cy="302.6" r="1.4"/><circle class="b" cx="473.2" cy="77.4" r="1.4"/><circle class="b" cx="478.5" cy="99.5" r="1.4"/><circle class="m" cx="249.1" cy="287.8" r="1.4"/><circle class="y" cx="170.0" cy="331.3" r="1.4"/><circle class="y" cx="216.8" cy="322.3" r="1.4"/><circle class="y" cx="207.2" cy="323.3" r="1.4"/><circle class="y" cx="389.1" cy="143.1" r="1.4"/><circle class="c" cx="494.7" cy="44.3" r="1.4"/><circle class="y" cx="120.6" cy="409.4" r="1.4"/><circle class="b" cx="294.1" cy="238.2" r="1.4"/><circle class="b" cx="302.0" cy="231.6" r="1.4"/><circle class="y" cx="479.1" cy="59.9" r="1.4"/><circle class="y" cx="442.4" cy="97.9" r="1.4"/><circle class="m" cx="369.5" cy="164.1" r="1.4"/><circle class="c" cx="310.5" cy="225.3" r="1.4"/><circle class="c" cx="333.3" cy="198.7" r="1.4"/><circle class="y" cx="424.6" cy="108.8" r="1.4"/><circle class="b" cx="376.0" cy="176.0" r="1.4"/><circle class="c" cx="258.7" cy="277.7" r="1.4"/><circle class="c" cx="221.6" cy="309.5" r="1.4"/><circle class="m" cx="450.7" cy="87.1" r="1.4"/><circle class="m" cx="489.0" cy="47.8" r="1.4"/><circle class="c" cx="246.3" cy="285.3" r="1.4"/><circle class="b" cx="215.0" cy="309.6" r="1.4"/><circle class="b" cx="372.1" cy="166.6" r="1.4"/><circle class="y" cx="231.8" cy="295.5" r="1.4"/><circle class="y" cx="361.5" cy="170.0" r="1.4"/><circle class="y" cx="346.9" cy="183.7" r="1.4"/><circle class="b" cx="420.2" cy="127.3" r="1.4"/><circle class="c" cx="421.4" cy="121.5" r="1.4"/><circle class="y" cx="405.7" cy="124.7" r="1.4"/><circle class="m" cx="219.8" cy="313.9" r="1.4"/><circle class="m" cx="382.4" cy="150.8" r="1.4"/><circle class="c" cx="480.7" cy="49.1" r="1.4"/><circle class="b" cx="418.3" cy="116.2" r="1.4"/><circle class="b" cx="454.3" cy="98.1" r="1.4"/><circle class="b" cx="267.8" cy="264.4" r="1.4"/><circle class="c" cx="254.7" cy="277.9" r="1.4"/><circle class="y" cx="492.0" cy="47.5" r="1.4"/><circle class="b" cx="281.5" cy="251.2" r="1.4"/><circle class="b" cx="358.2" cy="178.5" r="1.4"/><circle class="b" cx="365.8" cy="174.4" r="1.4"/><circle class="b" cx="253.4" cy="286.3" r="1.4"/><circle class="y" cx="182.3" cy="344.7" r="1.4"/><circle class="c" cx="367.8" cy="170.3" r="1.4"/><circle class="y" cx="134.4" cy="395.0" r="1.4"/><circle class="c" cx="427.2" cy="112.8" r="1.4"/><circle class="b" cx="137.5" cy="400.8" r="1.4"/><circle class="b" cx="482.6" cy="58.0" r="1.4"/><circle class="b" cx="429.9" cy="113.6" r="1.4"/><circle class="y" cx="228.9" cy="302.2" r="1.4"/><circle class="c" cx="263.0" cy="269.1" r="1.4"/><circle class="y" cx="197.5" cy="339.2" r="1.4"/><circle class="c" cx="109.1" cy="425.4" r="1.4"/><circle class="y" cx="137.1" cy="387.3" r="1.4"/><circle class="b" cx="265.3" cy="278.5" r="1.4"/><circle class="b" cx="231.7" cy="303.3" r="1.4"/><circle class="m" cx="467.2" cy="68.6" r="1.4"/><circle class="b" cx="436.3" cy="110.0" r="1.4"/><circle class="b" cx="281.7" cy="253.1" r="1.4"/><circle class="c" cx="384.6" cy="158.2" r="1.4"/><circle class="y" cx="106.9" cy="423.6" r="1.4"/><circle class="b" cx="276.6" cy="255.7" r="1.4"/><circle class="b" cx="191.2" cy="336.5" r="1.4"/><circle class="c" cx="204.3" cy="329.2" r="1.4"/><circle class="b" cx="128.9" cy="409.8" r="1.4"/><circle class="y" cx="497.3" cy="46.8" r="1.4"/><circle class="y" cx="480.8" cy="47.7" r="1.4"/><circle class="m" cx="486.5" cy="53.2" r="1.4"/><circle class="c" cx="269.8" cy="262.5" r="1.4"/><circle class="b" cx="379.4" cy="154.2" r="1.4"/><circle class="c" cx="325.9" cy="203.8" r="1.4"/><circle class="y" cx="141.5" cy="392.8" r="1.4"/><circle class="m" cx="166.9" cy="366.6" r="1.4"/><circle class="y" cx="107.5" cy="421.1" r="1.4"/><circle class="b" cx="104.3" cy="420.9" r="1.4"/><circle class="y" cx="466.3" cy="73.2" r="1.4"/><circle class="b" cx="88.1" cy="436.9" r="1.4"/><circle class="m" cx="86.2" cy="448.3" r="1.4"/><circle class="y" cx="263.8" cy="263.6" r="1.4"/><circle class="m" cx="411.0" cy="125.3" r="1.4"/><circle class="m" cx="434.4" cy="95.9" r="1.4"/><circle class="b" cx="396.1" cy="143.7" r="1.4"/><circle class="b" cx="336.0" cy="200.7" r="1.4"/><circle class="c" cx="270.1" cy="264.6" r="1.4"/><circle class="m" cx="346.8" cy="187.9" r="1.4"/><circle class="c" cx="359.4" cy="178.2" r="1.4"/><circle class="b" cx="471.8" cy="75.2" r="1.4"/><circle class="b" cx="113.7" cy="420.6" r="1.4"/><circle class="b" cx="353.1" cy="186.1" r="1.4"/><circle class="b" cx="441.1" cy="98.6" r="1.4"/><circle class="m" cx="105.1" cy="433.1" r="1.4"/><circle class="c" cx="493.1" cy="35.7" r="1.4"/><circle class="c" cx="269.3" cy="264.8" r="1.4"/><circle class="m" cx="137.6" cy="389.7" r="1.4"/><circle class="y" cx="126.0" cy="434.7" r="1.4"/><circle class="b" cx="325.3" cy="210.0" r="1.4"/><circle class="b" cx="316.4" cy="233.1" r="1.4"/><circle class="m" cx="218.7" cy="319.8" r="1.4"/><circle class="y" cx="245.8" cy="288.5" r="1.4"/><circle class="m" cx="120.4" cy="407.5" r="1.4"/><circle class="b" cx="280.2" cy="254.4" r="1.4"/><circle class="y" cx="349.8" cy="183.3" r="1.4"/><circle class="c" cx="329.6" cy="206.7" r="1.4"/><circle class="y" cx="94.7" cy="424.0" r="1.4"/><circle class="y" cx="143.6" cy="384.1" r="1.4"/><circle class="b" cx="291.1" cy="259.1" r="1.4"/><circle class="m" cx="341.6" cy="195.5" r="1.4"/><circle class="b" cx="289.6" cy="249.3" r="1.4"/><circle class="y" cx="245.6" cy="285.3" r="1.4"/><circle class="y" cx="329.2" cy="204.1" r="1.4"/><circle class="m" cx="439.5" cy="93.6" r="1.4"/><circle class="m" cx="177.1" cy="352.1" r="1.4"/><circle class="c" cx="330.1" cy="207.5" r="1.4"/><circle class="b" cx="347.7" cy="188.4" r="1.4"/><circle class="c" cx="364.5" cy="169.7" r="1.4"/><circle class="c" cx="194.1" cy="343.9" r="1.4"/><circle class="b" cx="272.4" cy="263.3" r="1.4"/><circle class="y" cx="490.4" cy="47.7" r="1.4"/><circle class="c" cx="250.5" cy="284.6" r="1.4"/><circle class="c" cx="191.8" cy="340.0" r="1.4"/><circle class="m" cx="107.5" cy="431.9" r="1.4"/><circle class="c" cx="381.2" cy="159.1" r="1.4"/><circle class="m" cx="206.6" cy="323.0" r="1.4"/><circle class="y" cx="420.2" cy="117.1" r="1.4"/><circle class="b" cx="102.4" cy="423.3" r="1.4"/><circle class="b" cx="326.7" cy="211.4" r="1.4"/><circle class="b" cx="228.9" cy="306.0" r="1.4"/><circle class="y" cx="429.5" cy="103.4" r="1.4"/><circle class="b" cx="91.9" cy="445.3" r="1.4"/><circle class="m" cx="476.4" cy="62.3" r="1.4"/><circle class="c" cx="133.0" cy="398.6" r="1.4"/><circle class="b" cx="455.0" cy="86.7" r="1.4"/><circle class="y" cx="162.2" cy="373.3" r="1.4"/><circle class="c" cx="277.1" cy="257.8" r="1.4"/><circle class="c" cx="434.0" cy="104.6" r="1.4"/><circle class="b" cx="388.5" cy="161.4" r="1.4"/><circle class="m" cx="336.8" cy="195.4" r="1.4"/><circle class="c" cx="418.6" cy="116.5" r="1.4"/><circle class="c" cx="309.9" cy="220.6" r="1.4"/><circle class="m" cx="386.5" cy="161.0" r="1.4"/><circle class="c" cx="485.0" cy="55.4" r="1.4"/><circle class="m" cx="438.8" cy="106.8" r="1.4"/><circle class="m" cx="467.9" cy="76.8" r="1.4"/><circle class="m" cx="194.0" cy="336.9" r="1.4"/><circle class="m" cx="129.5" cy="393.9" r="1.4"/><circle class="y" cx="401.2" cy="127.6" r="1.4"/><circle class="c" cx="438.7" cy="93.8" r="1.4"/><circle class="y" cx="184.7" cy="342.4" r="1.4"/><circle class="b" cx="233.7" cy="294.9" r="1.4"/><circle class="c" cx="270.5" cy="262.9" r="1.4"/><circle class="y" cx="225.6" cy="307.3" r="1.4"/><circle class="m" cx="84.9" cy="441.3" r="1.4"/><circle class="c" cx="161.3" cy="365.6" r="1.4"/><circle class="y" cx="420.8" cy="114.0" r="1.4"/><circle class="b" cx="265.2" cy="272.7" r="1.4"/><circle class="b" cx="398.9" cy="141.8" r="1.4"/><circle class="m" cx="244.8" cy="288.5" r="1.4"/><circle class="b" cx="106.4" cy="426.3" r="1.4"/><circle class="m" cx="465.2" cy="74.3" r="1.4"/><circle class="b" cx="214.8" cy="320.7" r="1.4"/><circle class="c" cx="188.7" cy="339.9" r="1.4"/><circle class="y" cx="386.5" cy="151.6" r="1.4"/><circle class="c" cx="167.4" cy="368.4" r="1.4"/><circle class="m" cx="397.5" cy="137.6" r="1.4"/><circle class="b" cx="177.0" cy="354.3" r="1.4"/><circle class="c" cx="388.0" cy="150.6" r="1.4"/><circle class="b" cx="489.0" cy="53.7" r="1.4"/><circle class="b" cx="295.3" cy="243.7" r="1.4"/><circle class="b" cx="85.3" cy="470.3" r="1.4"/><circle class="b" cx="109.4" cy="425.5" r="1.4"/><circle class="m" cx="158.0" cy="380.7" r="1.4"/><circle class="m" cx="405.7" cy="137.7" r="1.4"/><circle class="c" cx="236.9" cy="299.0" r="1.4"/><circle class="m" cx="350.3" cy="185.4" r="1.4"/><circle class="m" cx="114.2" cy="417.8" r="1.4"/><circle class="y" cx="274.0" cy="256.1" r="1.4"/><circle class="m" cx="494.8" cy="51.5" r="1.4"/><circle class="b" cx="381.3" cy="153.0" r="1.4"/><circle class="b" cx="338.9" cy="200.1" r="1.4"/><circle class="m" cx="316.1" cy="220.3" r="1.4"/><circle class="y" cx="245.4" cy="292.9" r="1.4"/><circle class="m" cx="279.5" cy="249.2" r="1.4"/><circle class="m" cx="447.3" cy="85.8" r="1.4"/><circle class="c" cx="171.8" cy="362.3" r="1.4"/><circle class="y" cx="214.5" cy="312.5" r="1.4"/><circle class="b" cx="261.1" cy="274.5" r="1.4"/><circle class="m" cx="270.3" cy="263.1" r="1.4"/><circle class="y" cx="218.2" cy="298.3" r="1.4"/><circle class="y" cx="127.8" cy="370.7" r="1.4"/><circle class="c" cx="311.9" cy="225.0" r="1.4"/><circle class="m" cx="427.0" cy="113.1" r="1.4"/><circle class="y" cx="127.7" cy="409.8" r="1.4"/><circle class="c" cx="335.3" cy="197.5" r="1.4"/><circle class="c" cx="435.0" cy="97.7" r="1.4"/><circle class="m" cx="348.0" cy="180.5" r="1.4"/><circle class="m" cx="107.2" cy="421.6" r="1.4"/><circle class="c" cx="128.0" cy="398.2" r="1.4"/><circle class="b" cx="134.1" cy="398.6" r="1.4"/><circle class="y" cx="359.7" cy="173.5" r="1.4"/><circle class="b" cx="276.3" cy="259.4" r="1.4"/><circle class="m" cx="169.8" cy="366.7" r="1.4"/><circle class="b" cx="345.0" cy="190.6" r="1.4"/><circle class="c" cx="278.4" cy="258.1" r="1.4"/><circle class="y" cx="392.6" cy="145.8" r="1.4"/><circle class="c" cx="180.0" cy="355.1" r="1.4"/><circle class="b" cx="463.7" cy="101.1" r="1.4"/><circle class="c" cx="137.6" cy="397.5" r="1.4"/><circle class="c" cx="461.8" cy="78.7" r="1.4"/><circle class="m" cx="489.8" cy="51.2" r="1.4"/><circle class="b" cx="310.7" cy="259.7" r="1.4"/><circle class="y" cx="365.2" cy="168.9" r="1.4"/><circle class="b" cx="282.4" cy="255.3" r="1.4"/><circle class="b" cx="88.1" cy="447.6" r="1.4"/><circle class="c" cx="338.9" cy="193.8" r="1.4"/><circle class="m" cx="133.5" cy="394.6" r="1.4"/><circle class="c" cx="332.1" cy="203.0" r="1.4"/><circle class="c" cx="181.8" cy="343.9" r="1.4"/><circle class="b" cx="428.2" cy="115.1" r="1.4"/><circle class="b" cx="439.4" cy="107.1" r="1.4"/><circle class="m" cx="308.4" cy="223.8" r="1.4"/><circle class="b" cx="205.8" cy="329.4" r="1.4"/><circle class="y" cx="188.5" cy="339.9" r="1.4"/><circle class="c" cx="186.3" cy="347.1" r="1.4"/><circle class="y" cx="417.2" cy="120.1" r="1.4"/><circle class="b" cx="281.9" cy="253.1" r="1.4"/><circle class="b" cx="404.8" cy="165.2" r="1.4"/><circle class="y" cx="326.9" cy="207.7" r="1.4"/><circle class="c" cx="362.8" cy="170.1" r="1.4"/><circle class="b" cx="425.9" cy="126.1" r="1.4"/><circle class="m" cx="88.0" cy="440.0" r="1.4"/><circle class="b" cx="441.8" cy="105.0" r="1.4"/><circle class="y" cx="393.0" cy="242.0" r="1.4"/><circle class="b" cx="349.8" cy="186.6" r="1.4"/><circle class="b" cx="394.8" cy="140.0" r="1.4"/><circle class="m" cx="162.3" cy="371.1" r="1.4"/><circle class="m" cx="303.8" cy="236.1" r="1.4"/><circle class="y" cx="147.3" cy="377.8" r="1.4"/><circle class="b" cx="423.3" cy="149.2" r="1.4"/><circle class="b" cx="206.9" cy="321.0" r="1.4"/><circle class="y" cx="236.8" cy="294.7" r="1.4"/><circle class="c" cx="457.6" cy="84.6" r="1.4"/><circle class="c" cx="252.6" cy="278.6" r="1.4"/><circle class="c" cx="153.6" cy="383.1" r="1.4"/><circle class="m" cx="264.7" cy="266.3" r="1.4"/><circle class="y" cx="436.0" cy="101.5" r="1.4"/><circle class="y" cx="181.2" cy="342.1" r="1.4"/><circle class="c" cx="163.9" cy="365.2" r="1.4"/><circle class="c" cx="290.8" cy="245.2" r="1.4"/><circle class="c" cx="390.4" cy="144.8" r="1.4"/><circle class="y" cx="103.1" cy="455.2" r="1.4"/><circle class="m" cx="322.9" cy="210.6" r="1.4"/><circle class="m" cx="133.4" cy="396.2" r="1.4"/><circle class="b" cx="496.7" cy="46.6" r="1.4"/><circle class="b" cx="448.7" cy="133.8" r="1.4"/><circle class="m" cx="108.4" cy="418.6" r="1.4"/><circle class="y" cx="166.8" cy="357.5" r="1.4"/><circle class="m" cx="443.1" cy="95.3" r="1.4"/><circle class="c" cx="218.0" cy="310.3" r="1.4"/><circle class="y" cx="231.3" cy="290.7" r="1.4"/><circle class="y" cx="231.8" cy="296.7" r="1.4"/><circle class="c" cx="421.4" cy="124.0" r="1.4"/><circle class="b" cx="107.5" cy="426.8" r="1.4"/><circle class="y" cx="176.8" cy="356.7" r="1.4"/><circle class="c" cx="191.6" cy="339.6" r="1.4"/><circle class="y" cx="190.7" cy="335.5" r="1.4"/><circle class="y" cx="85.5" cy="429.4" r="1.4"/><circle class="b" cx="303.3" cy="230.6" r="1.4"/><circle class="m" cx="304.2" cy="228.0" r="1.4"/><circle class="y" cx="90.8" cy="443.8" r="1.4"/><circle class="b" cx="208.6" cy="322.5" r="1.4"/><circle class="c" cx="287.2" cy="240.7" r="1.4"/><circle class="y" cx="330.6" cy="205.9" r="1.4"/><circle class="y" cx="472.1" cy="71.9" r="1.4"/><circle class="c" cx="177.7" cy="349.0" r="1.4"/><circle class="c" cx="415.7" cy="118.2" r="1.4"/><circle class="c" cx="474.2" cy="54.0" r="1.4"/><circle class="m" cx="439.0" cy="103.2" r="1.4"/><circle class="y" cx="238.3" cy="288.4" r="1.4"/><circle class="y" cx="270.9" cy="258.2" r="1.4"/><circle class="c" cx="109.3" cy="419.9" r="1.4"/><circle class="c" cx="324.2" cy="212.7" r="1.4"/><circle class="y" cx="216.8" cy="320.7" r="1.4"/><circle class="m" cx="224.2" cy="310.1" r="1.4"/><circle class="b" cx="120.0" cy="415.4" r="1.4"/><circle class="y" cx="169.5" cy="361.0" r="1.4"/><circle class="y" cx="190.3" cy="342.3" r="1.4"/><circle class="b" cx="229.2" cy="305.0" r="1.4"/><circle class="m" cx="214.9" cy="328.8" r="1.4"/><circle class="y" cx="91.6" cy="395.3" r="1.4"/><circle class="y" cx="220.2" cy="294.3" r="1.4"/><circle class="b" cx="307.5" cy="231.5" r="1.4"/><circle class="m" cx="394.7" cy="141.7" r="1.4"/><circle class="c" cx="234.0" cy="292.4" r="1.4"/><circle class="m" cx="115.1" cy="408.5" r="1.4"/><circle class="b" cx="487.3" cy="62.3" r="1.4"/><circle class="b" cx="213.3" cy="320.5" r="1.4"/><circle class="c" cx="412.6" cy="120.8" r="1.4"/><circle class="m" cx="368.4" cy="166.6" r="1.4"/><circle class="c" cx="306.6" cy="223.7" r="1.4"/><circle class="y" cx="496.3" cy="37.1" r="1.4"/><circle class="b" cx="456.9" cy="98.7" r="1.4"/><circle class="c" cx="302.2" cy="227.8" r="1.4"/><circle class="m" cx="358.6" cy="173.2" r="1.4"/><circle class="m" cx="172.3" cy="355.4" r="1.4"/><circle class="m" cx="118.5" cy="410.9" r="1.4"/><circle class="c" cx="127.2" cy="404.6" r="1.4"/><circle class="b" cx="185.7" cy="344.0" r="1.4"/><circle class="y" cx="463.4" cy="68.7" r="1.4"/><circle class="y" cx="90.7" cy="440.1" r="1.4"/><circle class="b" cx="150.5" cy="422.5" r="1.4"/><circle class="c" cx="450.6" cy="93.7" r="1.4"/><circle class="b" cx="268.0" cy="274.2" r="1.4"/><circle class="b" cx="216.1" cy="318.0" r="1.4"/><circle class="b" cx="224.2" cy="308.8" r="1.4"/><circle class="y" cx="259.6" cy="265.0" r="1.4"/><circle class="m" cx="123.2" cy="407.3" r="1.4"/><circle class="m" cx="461.5" cy="77.8" r="1.4"/><circle class="b" cx="423.6" cy="121.4" r="1.4"/><circle class="b" cx="204.6" cy="326.8" r="1.4"/><circle class="m" cx="436.3" cy="111.8" r="1.4"/><circle class="b" cx="502.4" cy="47.7" r="1.4"/><circle class="c" cx="298.9" cy="237.4" r="1.4"/><circle class="y" cx="292.8" cy="239.6" r="1.4"/><circle class="m" cx="419.2" cy="123.9" r="1.4"/><circle class="c" cx="324.2" cy="206.5" r="1.4"/><circle class="y" cx="502.8" cy="37.6" r="1.4"/><circle class="b" cx="391.6" cy="161.1" r="1.4"/><circle class="c" cx="111.9" cy="419.5" r="1.4"/><circle class="m" cx="286.5" cy="245.3" r="1.4"/><circle class="b" cx="362.8" cy="174.6" r="1.4"/><circle class="c" cx="313.1" cy="220.4" r="1.4"/><circle class="m" cx="503.1" cy="46.8" r="1.4"/><circle class="m" cx="267.5" cy="261.3" r="1.4"/><circle class="m" cx="431.4" cy="106.9" r="1.4"/><circle class="m" cx="341.3" cy="197.3" r="1.4"/><circle class="c" cx="373.7" cy="171.9" r="1.4"/><circle class="b" cx="344.3" cy="195.7" r="1.4"/><circle class="c" cx="202.3" cy="327.5" r="1.4"/><circle class="c" cx="185.5" cy="354.4" r="1.4"/><circle class="c" cx="415.8" cy="127.2" r="1.4"/><circle class="c" cx="236.5" cy="296.2" r="1.4"/><circle class="m" cx="200.7" cy="328.1" r="1.4"/><circle class="y" cx="123.1" cy="404.3" r="1.4"/><circle class="m" cx="272.2" cy="258.7" r="1.4"/><circle class="c" cx="185.1" cy="351.9" r="1.4"/><circle class="c" cx="350.4" cy="180.5" r="1.4"/><circle class="c" cx="395.6" cy="141.2" r="1.4"/><circle class="b" cx="497.4" cy="39.8" r="1.4"/><circle class="y" cx="402.7" cy="140.1" r="1.4"/><circle class="c" cx="154.1" cy="376.5" r="1.4"/><circle class="m" cx="476.1" cy="61.6" r="1.4"/><circle class="y" cx="443.2" cy="95.7" r="1.4"/><circle class="b" cx="344.8" cy="189.4" r="1.4"/><circle class="y" cx="204.6" cy="333.6" r="1.4"/><circle class="y" cx="331.8" cy="195.6" r="1.4"/><circle class="b" cx="200.8" cy="328.6" r="1.4"/><circle class="c" cx="486.2" cy="54.5" r="1.4"/><circle class="m" cx="125.9" cy="405.3" r="1.4"/><circle class="c" cx="463.2" cy="73.6" r="1.4"/><circle class="b" cx="258.3" cy="276.9" r="1.4"/><circle class="y" cx="230.7" cy="292.8" r="1.4"/><circle class="c" cx="306.9" cy="229.5" r="1.4"/><circle class="m" cx="360.8" cy="182.0" r="1.4"/><circle class="y" cx="359.7" cy="173.2" r="1.4"/><circle class="c" cx="103.1" cy="428.0" r="1.4"/><circle class="b" cx="133.8" cy="396.1" r="1.4"/><circle class="b" cx="423.9" cy="117.9" r="1.4"/><circle class="m" cx="428.9" cy="110.3" r="1.4"/><circle class="c" cx="361.6" cy="174.6" r="1.4"/><circle class="y" cx="216.4" cy="286.3" r="1.4"/><circle class="c" cx="197.0" cy="335.0" r="1.4"/><circle class="m" cx="163.8" cy="369.7" r="1.4"/><circle class="m" cx="417.6" cy="112.8" r="1.4"/><circle class="y" cx="490.5" cy="91.7" r="1.4"/><circle class="y" cx="262.4" cy="269.4" r="1.4"/><circle class="m" cx="210.1" cy="321.1" r="1.4"/><circle class="c" cx="361.5" cy="173.9" r="1.4"/><circle class="b" cx="450.8" cy="87.9" r="1.4"/><circle class="m" cx="462.5" cy="81.0" r="1.4"/><circle class="m" cx="477.3" cy="61.3" r="1.4"/><circle class="y" cx="440.0" cy="98.0" r="1.4"/><circle class="b" cx="463.7" cy="80.4" r="1.4"/><circle class="m" cx="142.5" cy="389.2" r="1.4"/><circle class="m" cx="324.1" cy="209.2" r="1.4"/><circle class="y" cx="98.6" cy="435.3" r="1.4"/><circle class="m" cx="466.4" cy="78.2" r="1.4"/><circle class="c" cx="200.7" cy="335.1" r="1.4"/><circle class="c" cx="171.7" cy="359.9" r="1.4"/><circle class="m" cx="472.4" cy="66.5" r="1.4"/><circle class="m" cx="316.2" cy="215.6" r="1.4"/><circle class="b" cx="136.4" cy="392.5" r="1.4"/><circle class="y" cx="265.4" cy="269.4" r="1.4"/><circle class="m" cx="460.0" cy="84.2" r="1.4"/><circle class="c" cx="414.9" cy="120.5" r="1.4"/><circle class="b" cx="372.4" cy="166.5" r="1.4"/><circle class="y" cx="238.2" cy="294.6" r="1.4"/><circle class="y" cx="451.0" cy="93.2" r="1.4"/><circle class="m" cx="452.2" cy="95.3" r="1.4"/><circle class="b" cx="342.6" cy="198.3" r="1.4"/><circle class="b" cx="112.3" cy="416.9" r="1.4"/><circle class="m" cx="126.3" cy="420.7" r="1.4"/><circle class="b" cx="383.2" cy="151.4" r="1.4"/><circle class="m" cx="365.8" cy="174.6" r="1.4"/><circle class="b" cx="116.4" cy="414.6" r="1.4"/><circle class="y" cx="426.1" cy="108.4" r="1.4"/><circle class="c" cx="429.5" cy="110.5" r="1.4"/><circle class="b" cx="374.7" cy="169.5" r="1.4"/><circle class="c" cx="276.5" cy="259.7" r="1.4"/><circle class="m" cx="389.1" cy="149.2" r="1.4"/><circle class="c" cx="299.8" cy="231.9" r="1.4"/><circle class="b" cx="392.2" cy="149.0" r="1.4"/><circle class="c" cx="158.9" cy="378.0" r="1.4"/><circle class="y" cx="146.7" cy="386.0" r="1.4"/><circle class="b" cx="473.8" cy="67.8" r="1.4"/><circle class="y" cx="175.0" cy="391.8" r="1.4"/><circle class="y" cx="457.9" cy="84.1" r="1.4"/><circle class="y" cx="309.0" cy="225.9" r="1.4"/><circle class="y" cx="140.3" cy="379.6" r="1.4"/><circle class="b" cx="237.2" cy="298.1" r="1.4"/><circle class="b" cx="263.3" cy="267.4" r="1.4"/><circle class="b" cx="447.2" cy="108.1" r="1.4"/><circle class="c" cx="234.8" cy="305.8" r="1.4"/><circle class="b" cx="93.9" cy="442.2" r="1.4"/><circle class="b" cx="275.8" cy="259.2" r="1.4"/><circle class="c" cx="313.9" cy="216.7" r="1.4"/><circle class="b" cx="397.9" cy="145.7" r="1.4"/><circle class="b" cx="371.0" cy="167.8" r="1.4"/><circle class="m" cx="148.2" cy="381.8" r="1.4"/><circle class="c" cx="434.6" cy="97.8" r="1.4"/><circle class="y" cx="482.8" cy="71.0" r="1.4"/><circle class="c" cx="323.8" cy="209.7" r="1.4"/><circle class="y" cx="149.6" cy="307.4" r="1.4"/><circle class="m" cx="460.9" cy="87.6" r="1.4"/><circle class="y" cx="394.0" cy="146.4" r="1.4"/><circle class="y" cx="209.2" cy="315.6" r="1.4"/><circle class="y" cx="422.9" cy="109.7" r="1.4"/><circle class="c" cx="218.7" cy="315.5" r="1.4"/><circle class="b" cx="266.5" cy="268.1" r="1.4"/><circle class="b" cx="493.5" cy="48.3" r="1.4"/><circle class="y" cx="154.6" cy="373.0" r="1.4"/><circle class="b" cx="322.8" cy="225.7" r="1.4"/><circle class="c" cx="221.9" cy="311.2" r="1.4"/><circle class="y" cx="460.5" cy="67.6" r="1.4"/><circle class="m" cx="402.9" cy="131.3" r="1.4"/><circle class="y" cx="137.2" cy="386.1" r="1.4"/><circle class="y" cx="329.8" cy="207.3" r="1.4"/><circle class="c" cx="474.8" cy="54.9" r="1.4"/><circle class="m" cx="380.1" cy="156.4" r="1.4"/><circle class="m" cx="110.0" cy="423.2" r="1.4"/><circle class="m" cx="231.5" cy="296.5" r="1.4"/><circle class="b" cx="341.3" cy="214.7" r="1.4"/><circle class="y" cx="93.8" cy="440.9" r="1.4"/><circle class="b" cx="409.2" cy="130.0" r="1.4"/><circle class="y" cx="387.8" cy="145.3" r="1.4"/><circle class="y" cx="244.5" cy="291.2" r="1.4"/><circle class="y" cx="324.3" cy="205.6" r="1.4"/><circle class="y" cx="373.0" cy="157.0" r="1.4"/><circle class="m" cx="297.6" cy="236.2" r="1.4"/><circle class="y" cx="382.4" cy="155.2" r="1.4"/><circle class="y" cx="95.9" cy="431.2" r="1.4"/><circle class="y" cx="316.7" cy="221.6" r="1.4"/><circle class="b" cx="180.3" cy="356.8" r="1.4"/><circle class="y" cx="350.2" cy="192.6" r="1.4"/><circle class="m" cx="487.0" cy="54.8" r="1.4"/><circle class="m" cx="217.6" cy="313.0" r="1.4"/><circle class="c" cx="450.7" cy="86.5" r="1.4"/><circle class="m" cx="348.7" cy="187.5" r="1.4"/><circle class="b" cx="355.7" cy="180.2" r="1.4"/><circle class="m" cx="393.2" cy="138.0" r="1.4"/><circle class="c" cx="433.4" cy="102.6" r="1.4"/><circle class="b" cx="342.0" cy="199.7" r="1.4"/><circle class="m" cx="293.7" cy="235.8" r="1.4"/><circle class="c" cx="472.0" cy="76.8" r="1.4"/><circle class="b" cx="229.4" cy="299.9" r="1.4"/><circle class="y" cx="465.9" cy="69.6" r="1.4"/><circle class="m" cx="260.6" cy="272.8" r="1.4"/><circle class="m" cx="406.3" cy="129.6" r="1.4"/><circle class="c" cx="385.5" cy="147.8" r="1.4"/><circle class="y" cx="395.6" cy="132.3" r="1.4"/><circle class="m" cx="464.9" cy="71.9" r="1.4"/><circle class="b" cx="114.8" cy="416.1" r="1.4"/><circle class="b" cx="480.2" cy="61.1" r="1.4"/><circle class="b" cx="292.8" cy="243.8" r="1.4"/><circle class="b" cx="429.9" cy="118.6" r="1.4"/><circle class="m" cx="487.5" cy="52.7" r="1.4"/><circle class="b" cx="452.6" cy="103.1" r="1.4"/><circle class="b" cx="299.0" cy="232.9" r="1.4"/><circle class="c" cx="292.0" cy="243.5" r="1.4"/><circle class="b" cx="124.5" cy="408.5" r="1.4"/><circle class="c" cx="219.7" cy="307.9" r="1.4"/><circle class="y" cx="189.5" cy="346.6" r="1.4"/><circle class="c" cx="215.2" cy="316.9" r="1.4"/><circle class="y" cx="85.9" cy="445.3" r="1.4"/><circle class="m" cx="347.0" cy="187.9" r="1.4"/><circle class="b" cx="480.8" cy="65.2" r="1.4"/><circle class="m" cx="270.1" cy="265.4" r="1.4"/><circle class="y" cx="287.3" cy="249.4" r="1.4"/><circle class="y" cx="339.9" cy="203.8" r="1.4"/><circle class="b" cx="394.8" cy="137.8" r="1.4"/><circle class="y" cx="245.3" cy="283.2" r="1.4"/><circle class="y" cx="230.4" cy="300.9" r="1.4"/><circle class="b" cx="450.1" cy="106.6" r="1.4"/><circle class="m" cx="342.0" cy="194.2" r="1.4"/><circle class="m" cx="398.0" cy="137.2" r="1.4"/><circle class="c" cx="283.3" cy="248.4" r="1.4"/><circle class="m" cx="361.0" cy="174.6" r="1.4"/><circle class="y" cx="312.0" cy="226.9" r="1.4"/><circle class="m" cx="197.4" cy="333.5" r="1.4"/><circle class="c" cx="449.1" cy="88.1" r="1.4"/><circle class="y" cx="225.7" cy="304.3" r="1.4"/><circle class="m" cx="271.2" cy="265.4" r="1.4"/><circle class="c" cx="407.4" cy="136.4" r="1.4"/><circle class="b" cx="364.3" cy="183.7" r="1.4"/><circle class="m" cx="411.6" cy="125.8" r="1.4"/><circle class="b" cx="109.7" cy="424.7" r="1.4"/><circle class="y" cx="416.5" cy="117.6" r="1.4"/><circle class="b" cx="481.8" cy="55.5" r="1.4"/><circle class="c" cx="223.0" cy="299.7" r="1.4"/><circle class="c" cx="446.8" cy="88.8" r="1.4"/><circle class="c" cx="252.6" cy="280.0" r="1.4"/><circle class="y" cx="217.3" cy="319.3" r="1.4"/><circle class="c" cx="203.6" cy="323.4" r="1.4"/><circle class="m" cx="145.8" cy="377.6" r="1.4"/><circle class="c" cx="321.2" cy="211.3" r="1.4"/><circle class="y" cx="497.0" cy="41.8" r="1.4"/><circle class="y" cx="131.0" cy="389.6" r="1.4"/><circle class="y" cx="348.1" cy="189.9" r="1.4"/><circle class="m" cx="239.4" cy="291.1" r="1.4"/><circle class="y" cx="104.6" cy="426.3" r="1.4"/><circle class="m" cx="405.4" cy="132.8" r="1.4"/><circle class="c" cx="328.1" cy="210.1" r="1.4"/><circle class="b" cx="133.8" cy="400.0" r="1.4"/><circle class="m" cx="496.0" cy="43.5" r="1.4"/><circle class="m" cx="314.9" cy="223.3" r="1.4"/><circle class="b" cx="468.9" cy="66.8" r="1.4"/><circle class="m" cx="331.9" cy="198.0" r="1.4"/><circle class="m" cx="331.2" cy="197.8" r="1.4"/><circle class="c" cx="485.2" cy="55.5" r="1.4"/><circle class="b" cx="185.2" cy="358.6" r="1.4"/><circle class="c" cx="464.0" cy="74.6" r="1.4"/><circle class="b" cx="265.9" cy="284.5" r="1.4"/><circle class="m" cx="269.7" cy="268.6" r="1.4"/><circle class="b" cx="117.3" cy="415.2" r="1.4"/><circle class="m" cx="378.4" cy="159.6" r="1.4"/><circle class="y" cx="293.7" cy="241.7" r="1.4"/><circle class="c" cx="115.2" cy="411.3" r="1.4"/><circle class="c" cx="374.9" cy="161.2" r="1.4"/><circle class="c" cx="355.4" cy="179.1" r="1.4"/><circle class="c" cx="111.7" cy="421.5" r="1.4"/><circle class="c" cx="405.8" cy="130.1" r="1.4"/><circle class="m" cx="311.3" cy="222.7" r="1.4"/><circle class="b" cx="401.3" cy="138.3" r="1.4"/><circle class="m" cx="249.5" cy="283.1" r="1.4"/><circle class="b" cx="273.2" cy="261.5" r="1.4"/><circle class="m" cx="318.3" cy="213.0" r="1.4"/><circle class="c" cx="438.8" cy="101.4" r="1.4"/><circle class="b" cx="441.8" cy="105.9" r="1.4"/><circle class="y" cx="349.9" cy="174.4" r="1.4"/><circle class="m" cx="326.5" cy="206.0" r="1.4"/><circle class="c" cx="184.5" cy="347.3" r="1.4"/><circle class="y" cx="213.7" cy="320.0" r="1.4"/><circle class="m" cx="319.5" cy="212.2" r="1.4"/><circle class="b" cx="245.0" cy="283.5" r="1.4"/><circle class="m" cx="275.5" cy="259.3" r="1.4"/><circle class="m" cx="389.8" cy="147.8" r="1.4"/><circle class="y" cx="404.1" cy="134.2" r="1.4"/><circle class="m" cx="331.3" cy="205.6" r="1.4"/><circle class="c" cx="350.1" cy="191.4" r="1.4"/><circle class="b" cx="148.2" cy="378.9" r="1.4"/><circle class="c" cx="488.3" cy="52.0" r="1.4"/><circle class="y" cx="366.4" cy="173.6" r="1.4"/><circle class="c" cx="229.5" cy="300.5" r="1.4"/><circle class="y" cx="431.8" cy="86.2" r="1.4"/><circle class="y" cx="94.6" cy="425.6" r="1.4"/><circle class="b" cx="322.8" cy="163.0" r="1.4"/><circle class="y" cx="269.4" cy="261.7" r="1.4"/><circle class="y" cx="196.8" cy="333.3" r="1.4"/><circle class="m" cx="394.7" cy="136.6" r="1.4"/><circle class="m" cx="477.0" cy="62.2" r="1.4"/><circle class="c" cx="190.5" cy="342.8" r="1.4"/><circle class="c" cx="482.3" cy="66.7" r="1.4"/><circle class="m" cx="160.1" cy="368.1" r="1.4"/><circle class="y" cx="120.3" cy="406.5" r="1.4"/><circle class="c" cx="113.9" cy="413.5" r="1.4"/><circle class="c" cx="193.2" cy="333.7" r="1.4"/><circle class="b" cx="308.7" cy="227.6" r="1.4"/><circle class="b" cx="128.3" cy="421.6" r="1.4"/><circle class="b" cx="293.6" cy="237.1" r="1.4"/><circle class="m" cx="175.6" cy="365.5" r="1.4"/><circle class="y" cx="327.0" cy="203.2" r="1.4"/><circle class="c" cx="104.2" cy="424.2" r="1.4"/><circle class="m" cx="230.6" cy="301.7" r="1.4"/><circle class="m" cx="228.1" cy="308.7" r="1.4"/><circle class="c" cx="124.3" cy="411.2" r="1.4"/><circle class="b" cx="190.5" cy="343.4" r="1.4"/><circle class="c" cx="110.2" cy="411.7" r="1.4"/><circle class="y" cx="347.4" cy="184.4" r="1.4"/><circle class="b" cx="167.8" cy="360.6" r="1.4"/><circle class="m" cx="492.6" cy="48.5" r="1.4"/><circle class="y" cx="313.0" cy="220.6" r="1.4"/><circle class="c" cx="101.9" cy="429.3" r="1.4"/><circle class="m" cx="369.2" cy="166.0" r="1.4"/><circle class="b" cx="116.6" cy="435.1" r="1.4"/><circle class="m" cx="430.9" cy="108.2" r="1.4"/><circle class="b" cx="478.6" cy="69.9" r="1.4"/><circle class="y" cx="385.8" cy="147.7" r="1.4"/><circle class="c" cx="345.2" cy="190.2" r="1.4"/><circle class="m" cx="198.3" cy="337.5" r="1.4"/><circle class="y" cx="486.5" cy="32.5" r="1.4"/><circle class="y" cx="120.6" cy="427.5" r="1.4"/><circle class="c" cx="127.1" cy="400.7" r="1.4"/><circle class="y" cx="285.6" cy="245.9" r="1.4"/><circle class="m" cx="455.7" cy="92.1" r="1.4"/><circle class="y" cx="411.8" cy="123.0" r="1.4"/><circle class="y" cx="383.0" cy="154.1" r="1.4"/><circle class="y" cx="468.9" cy="70.0" r="1.4"/><circle class="y" cx="428.0" cy="113.1" r="1.4"/><circle class="b" cx="459.1" cy="80.2" r="1.4"/><circle class="y" cx="219.6" cy="303.7" r="1.4"/><circle class="b" cx="301.0" cy="236.4" r="1.4"/><circle class="m" cx="454.9" cy="88.5" r="1.4"/><circle class="y" cx="110.3" cy="421.1" r="1.4"/><circle class="b" cx="151.2" cy="384.7" r="1.4"/><circle class="b" cx="99.3" cy="432.5" r="1.4"/><circle class="b" cx="182.0" cy="345.7" r="1.4"/><circle class="c" cx="310.6" cy="226.0" r="1.4"/><circle class="m" cx="418.6" cy="115.9" r="1.4"/><circle class="c" cx="232.2" cy="298.2" r="1.4"/><circle class="m" cx="425.5" cy="110.6" r="1.4"/><circle class="y" cx="208.4" cy="323.7" r="1.4"/><circle class="c" cx="460.8" cy="78.1" r="1.4"/><circle class="m" cx="142.0" cy="392.9" r="1.4"/><circle class="b" cx="297.1" cy="234.5" r="1.4"/><circle class="c" cx="394.1" cy="142.7" r="1.4"/><circle class="m" cx="186.1" cy="344.1" r="1.4"/><circle class="b" cx="90.9" cy="439.3" r="1.4"/><circle class="b" cx="381.4" cy="158.4" r="1.4"/><circle class="b" cx="177.3" cy="352.7" r="1.4"/><circle class="y" cx="146.0" cy="382.2" r="1.4"/><circle class="c" cx="98.5" cy="432.3" r="1.4"/><circle class="c" cx="94.8" cy="435.2" r="1.4"/><circle class="b" cx="204.4" cy="320.6" r="1.4"/><circle class="y" cx="174.9" cy="350.7" r="1.4"/><circle class="b" cx="329.4" cy="212.8" r="1.4"/><circle class="c" cx="339.1" cy="195.5" r="1.4"/><circle class="m" cx="102.9" cy="424.1" r="1.4"/><circle class="c" cx="504.3" cy="34.6" r="1.4"/><circle class="y" cx="87.9" cy="442.2" r="1.4"/><circle class="m" cx="245.9" cy="288.3" r="1.4"/><circle class="y" cx="236.1" cy="288.5" r="1.4"/><circle class="y" cx="124.7" cy="396.7" r="1.4"/><circle class="b" cx="277.7" cy="264.4" r="1.4"/><circle class="c" cx="119.4" cy="413.7" r="1.4"/><circle class="y" cx="236.0" cy="290.4" r="1.4"/><circle class="y" cx="195.0" cy="335.8" r="1.4"/><circle class="y" cx="390.9" cy="143.2" r="1.4"/><circle class="m" cx="176.0" cy="360.2" r="1.4"/><circle class="c" cx="361.2" cy="176.0" r="1.4"/><circle class="c" cx="147.3" cy="356.7" r="1.4"/><circle class="m" cx="109.7" cy="418.1" r="1.4"/><circle class="b" cx="501.6" cy="38.8" r="1.4"/><circle class="m" cx="352.0" cy="179.5" r="1.4"/><circle class="c" cx="170.7" cy="362.6" r="1.4"/><circle class="y" cx="260.5" cy="277.8" r="1.4"/><circle class="m" cx="385.7" cy="150.0" r="1.4"/><circle class="m" cx="382.1" cy="155.9" r="1.4"/><circle class="y" cx="175.2" cy="351.2" r="1.4"/><circle class="b" cx="171.6" cy="367.3" r="1.4"/><circle class="y" cx="141.5" cy="380.7" r="1.4"/><circle class="y" cx="324.8" cy="209.7" r="1.4"/><circle class="c" cx="229.5" cy="302.0" r="1.4"/><circle class="c" cx="93.1" cy="443.5" r="1.4"/><circle class="b" cx="234.6" cy="302.6" r="1.4"/><circle class="m" cx="242.8" cy="287.4" r="1.4"/><circle class="b" cx="190.0" cy="346.3" r="1.4"/><circle class="c" cx="335.9" cy="183.1" r="1.4"/><circle class="m" cx="207.0" cy="329.8" r="1.4"/><circle class="b" cx="281.4" cy="257.4" r="1.4"/><circle class="y" cx="179.2" cy="351.6" r="1.4"/><circle class="m" cx="370.7" cy="169.6" r="1.4"/><circle class="y" cx="146.1" cy="385.9" r="1.4"/><circle class="c" cx="213.4" cy="325.5" r="1.4"/><circle class="c" cx="447.0" cy="101.5" r="1.4"/><circle class="b" cx="111.9" cy="419.1" r="1.4"/><circle class="y" cx="199.9" cy="322.4" r="1.4"/><circle class="m" cx="471.4" cy="75.3" r="1.4"/><circle class="c" cx="408.7" cy="146.9" r="1.4"/><circle class="m" cx="491.1" cy="38.0" r="1.4"/><circle class="y" cx="163.4" cy="366.7" r="1.4"/><circle class="y" cx="399.0" cy="134.1" r="1.4"/><circle class="m" cx="175.1" cy="356.4" r="1.4"/><circle class="b" cx="302.9" cy="235.3" r="1.4"/><circle class="y" cx="154.3" cy="370.6" r="1.4"/><circle class="c" cx="116.4" cy="411.9" r="1.4"/><circle class="y" cx="309.4" cy="225.1" r="1.4"/><circle class="m" cx="467.5" cy="66.1" r="1.4"/><circle class="y" cx="349.0" cy="185.4" r="1.4"/><circle class="c" cx="209.8" cy="320.4" r="1.4"/><circle class="y" cx="168.6" cy="364.3" r="1.4"/><circle class="y" cx="388.3" cy="152.4" r="1.4"/><circle class="m" cx="152.1" cy="384.8" r="1.4"/><circle class="y" cx="302.3" cy="228.9" r="1.4"/><circle class="b" cx="238.3" cy="327.1" r="1.4"/><circle class="m" cx="404.4" cy="135.2" r="1.4"/><circle class="b" cx="297.3" cy="252.9" r="1.4"/><circle class="c" cx="184.4" cy="342.5" r="1.4"/><circle class="m" cx="360.0" cy="183.8" r="1.4"/><circle class="y" cx="444.4" cy="85.9" r="1.4"/><circle class="b" cx="231.2" cy="316.3" r="1.4"/><circle class="b" cx="471.5" cy="70.8" r="1.4"/><circle class="b" cx="288.5" cy="243.4" r="1.4"/><circle class="y" cx="372.0" cy="157.9" r="1.4"/><circle class="b" cx="220.8" cy="313.4" r="1.4"/><circle class="m" cx="482.6" cy="55.4" r="1.4"/><circle class="m" cx="253.8" cy="279.7" r="1.4"/><circle class="m" cx="389.4" cy="152.6" r="1.4"/><circle class="c" cx="368.8" cy="167.8" r="1.4"/><circle class="m" cx="117.6" cy="418.4" r="1.4"/><circle class="m" cx="500.0" cy="45.9" r="1.4"/><circle class="y" cx="320.0" cy="208.8" r="1.4"/><circle class="m" cx="198.3" cy="324.4" r="1.4"/><circle class="c" cx="346.0" cy="186.1" r="1.4"/><circle class="m" cx="384.6" cy="146.0" r="1.4"/><circle class="y" cx="428.1" cy="104.8" r="1.4"/><circle class="m" cx="471.9" cy="70.6" r="1.4"/><circle class="m" cx="473.5" cy="65.7" r="1.4"/><circle class="b" cx="224.9" cy="317.7" r="1.4"/><circle class="c" cx="155.1" cy="370.6" r="1.4"/><circle class="y" cx="154.5" cy="423.8" r="1.4"/><circle class="b" cx="297.1" cy="232.1" r="1.4"/><circle class="b" cx="207.2" cy="325.8" r="1.4"/><circle class="c" cx="266.2" cy="267.1" r="1.4"/><circle class="b" cx="436.9" cy="93.2" r="1.4"/><circle class="c" cx="288.1" cy="248.7" r="1.4"/><circle class="c" cx="336.0" cy="204.8" r="1.4"/><circle class="c" cx="446.4" cy="90.0" r="1.4"/><circle class="y" cx="459.2" cy="70.3" r="1.4"/><circle class="y" cx="201.3" cy="327.9" r="1.4"/><circle class="m" cx="217.3" cy="313.9" r="1.4"/><circle class="c" cx="428.6" cy="110.6" r="1.4"/><circle class="b" cx="119.1" cy="427.4" r="1.4"/><circle class="c" cx="279.2" cy="254.0" r="1.4"/><circle class="m" cx="395.0" cy="145.0" r="1.4"/><circle class="b" cx="181.9" cy="359.8" r="1.4"/><circle class="m" cx="410.0" cy="121.5" r="1.4"/><circle class="c" cx="103.8" cy="423.4" r="1.4"/><circle class="m" cx="116.9" cy="413.6" r="1.4"/><circle class="c" cx="466.1" cy="73.1" r="1.4"/><circle class="y" cx="262.4" cy="268.5" r="1.4"/><circle class="c" cx="249.7" cy="279.9" r="1.4"/><circle class="m" cx="101.6" cy="436.7" r="1.4"/><circle class="b" cx="454.6" cy="84.6" r="1.4"/><circle class="y" cx="329.6" cy="202.9" r="1.4"/><circle class="y" cx="258.7" cy="278.2" r="1.4"/><circle class="b" cx="367.6" cy="166.6" r="1.4"/><circle class="m" cx="88.7" cy="437.7" r="1.4"/><circle class="m" cx="484.5" cy="60.2" r="1.4"/><circle class="b" cx="421.2" cy="115.2" r="1.4"/><circle class="m" cx="372.3" cy="166.1" r="1.4"/><circle class="m" cx="454.4" cy="82.8" r="1.4"/><circle class="m" cx="384.2" cy="148.8" r="1.4"/><circle class="c" cx="240.0" cy="293.8" r="1.4"/><circle class="m" cx="219.3" cy="306.7" r="1.4"/><circle class="m" cx="152.8" cy="373.8" r="1.4"/><circle class="b" cx="260.4" cy="279.7" r="1.4"/><circle class="y" cx="161.8" cy="361.0" r="1.4"/><circle class="y" cx="312.9" cy="220.7" r="1.4"/><circle class="y" cx="389.0" cy="140.7" r="1.4"/><circle class="m" cx="107.4" cy="423.6" r="1.4"/><circle class="b" cx="274.6" cy="261.9" r="1.4"/><circle class="c" cx="239.2" cy="306.2" r="1.4"/><circle class="c" cx="100.1" cy="425.7" r="1.4"/><circle class="b" cx="195.8" cy="352.1" r="1.4"/><circle class="c" cx="194.2" cy="331.9" r="1.4"/><circle class="c" cx="282.0" cy="254.3" r="1.4"/><circle class="c" cx="328.0" cy="205.8" r="1.4"/><circle class="y" cx="473.9" cy="65.7" r="1.4"/><circle class="c" cx="392.2" cy="142.3" r="1.4"/><circle class="m" cx="425.8" cy="114.2" r="1.4"/><circle class="y" cx="183.4" cy="342.9" r="1.4"/><circle class="b" cx="231.5" cy="302.3" r="1.4"/><circle class="y" cx="209.0" cy="318.5" r="1.4"/><circle class="b" cx="290.1" cy="245.2" r="1.4"/><circle class="y" cx="362.0" cy="176.8" r="1.4"/><circle class="b" cx="444.2" cy="92.7" r="1.4"/><circle class="y" cx="416.7" cy="93.1" r="1.4"/><circle class="y" cx="185.9" cy="338.8" r="1.4"/><circle class="y" cx="422.5" cy="116.3" r="1.4"/><circle class="y" cx="257.9" cy="275.7" r="1.4"/><circle class="c" cx="447.8" cy="90.6" r="1.4"/><circle class="y" cx="92.8" cy="428.9" r="1.4"/><circle class="b" cx="504.4" cy="38.6" r="1.4"/><circle class="b" cx="114.0" cy="410.2" r="1.4"/><circle class="c" cx="212.3" cy="316.4" r="1.4"/><circle class="c" cx="438.9" cy="106.8" r="1.4"/><circle class="b" cx="347.3" cy="187.6" r="1.4"/><circle class="b" cx="448.9" cy="96.3" r="1.4"/><circle class="m" cx="456.0" cy="94.6" r="1.4"/><circle class="y" cx="426.7" cy="113.9" r="1.4"/><circle class="y" cx="490.2" cy="36.6" r="1.4"/><circle class="y" cx="320.2" cy="215.8" r="1.4"/><circle class="c" cx="380.9" cy="157.1" r="1.4"/><circle class="m" cx="151.3" cy="380.3" r="1.4"/><circle class="b" cx="352.9" cy="182.9" r="1.4"/><circle class="c" cx="170.3" cy="357.6" r="1.4"/><circle class="c" cx="308.0" cy="226.8" r="1.4"/><circle class="m" cx="330.8" cy="218.0" r="1.4"/><circle class="b" cx="258.6" cy="278.4" r="1.4"/><circle class="m" cx="370.9" cy="159.1" r="1.4"/><circle class="m" cx="275.0" cy="254.7" r="1.4"/><circle class="b" cx="319.5" cy="212.2" r="1.4"/><circle class="m" cx="460.1" cy="81.8" r="1.4"/><circle class="m" cx="215.2" cy="312.7" r="1.4"/><circle class="b" cx="463.7" cy="68.8" r="1.4"/><circle class="y" cx="317.4" cy="209.9" r="1.4"/><circle class="m" cx="350.7" cy="186.1" r="1.4"/><circle class="b" cx="111.0" cy="426.3" r="1.4"/><circle class="m" cx="323.4" cy="218.6" r="1.4"/><circle class="c" cx="358.3" cy="175.0" r="1.4"/><circle class="m" cx="399.8" cy="131.8" r="1.4"/><circle class="m" cx="288.1" cy="246.6" r="1.4"/><circle class="y" cx="195.5" cy="331.2" r="1.4"/><circle class="y" cx="447.4" cy="91.0" r="1.4"/><circle class="b" cx="356.9" cy="184.2" r="1.4"/><circle class="b" cx="328.1" cy="207.7" r="1.4"/><circle class="c" cx="284.7" cy="251.7" r="1.4"/><circle class="b" cx="273.1" cy="266.0" r="1.4"/><circle class="m" cx="406.2" cy="128.6" r="1.4"/><circle class="y" cx="333.8" cy="192.1" r="1.4"/><circle class="b" cx="423.1" cy="118.0" r="1.4"/><circle class="c" cx="203.6" cy="330.6" r="1.4"/><circle class="b" cx="441.3" cy="100.1" r="1.4"/><circle class="c" cx="467.0" cy="78.7" r="1.4"/><circle class="b" cx="247.5" cy="281.0" r="1.4"/><circle class="c" cx="362.5" cy="173.9" r="1.4"/><circle class="c" cx="431.0" cy="104.8" r="1.4"/><circle class="y" cx="379.4" cy="160.2" r="1.4"/><circle class="m" cx="499.0" cy="43.0" r="1.4"/><circle class="b" cx="91.3" cy="442.4" r="1.4"/><circle class="y" cx="121.2" cy="402.7" r="1.4"/><circle class="c" cx="415.4" cy="121.3" r="1.4"/><circle class="y" cx="216.4" cy="310.4" r="1.4"/><circle class="y" cx="309.2" cy="224.2" r="1.4"/><circle class="b" cx="128.1" cy="416.5" r="1.4"/><circle class="b" cx="350.4" cy="187.7" r="1.4"/><circle class="c" cx="232.4" cy="302.1" r="1.4"/><circle class="y" cx="201.3" cy="311.0" r="1.4"/><circle class="y" cx="231.6" cy="299.6" r="1.4"/><circle class="y" cx="209.7" cy="325.2" r="1.4"/><circle class="c" cx="151.4" cy="376.0" r="1.4"/><circle class="c" cx="277.7" cy="258.1" r="1.4"/><circle class="y" cx="431.1" cy="107.4" r="1.4"/><circle class="y" cx="135.4" cy="396.4" r="1.4"/><circle class="y" cx="245.0" cy="282.7" r="1.4"/><circle class="c" cx="343.2" cy="191.4" r="1.4"/><circle class="y" cx="307.1" cy="229.0" r="1.4"/><circle class="y" cx="427.4" cy="112.3" r="1.4"/><circle class="b" cx="360.4" cy="180.4" r="1.4"/><circle class="c" cx="416.4" cy="121.7" r="1.4"/><circle class="m" cx="336.7" cy="198.5" r="1.4"/><circle class="y" cx="308.5" cy="229.9" r="1.4"/><circle class="y" cx="422.0" cy="118.5" r="1.4"/><circle class="m" cx="356.9" cy="183.7" r="1.4"/><circle class="b" cx="336.1" cy="198.2" r="1.4"/><circle class="b" cx="264.1" cy="268.1" r="1.4"/><circle class="b" cx="343.9" cy="193.9" r="1.4"/><circle class="y" cx="187.2" cy="336.4" r="1.4"/><circle class="b" cx="299.7" cy="237.0" r="1.4"/><circle class="b" cx="462.2" cy="83.8" r="1.4"/><circle class="y" cx="350.6" cy="179.9" r="1.4"/><circle class="c" cx="113.8" cy="415.2" r="1.4"/><circle class="b" cx="303.6" cy="233.5" r="1.4"/><circle class="y" cx="133.7" cy="382.6" r="1.4"/><circle class="c" cx="155.4" cy="373.2" r="1.4"/><circle class="b" cx="139.1" cy="389.5" r="1.4"/><circle class="m" cx="479.2" cy="61.4" r="1.4"/><circle class="b" cx="244.9" cy="289.3" r="1.4"/><circle class="c" cx="159.0" cy="375.6" r="1.4"/><circle class="y" cx="363.0" cy="171.9" r="1.4"/><circle class="c" cx="376.3" cy="164.7" r="1.4"/><circle class="b" cx="119.1" cy="418.5" r="1.4"/><circle class="y" cx="382.0" cy="150.2" r="1.4"/><circle class="m" cx="462.3" cy="73.1" r="1.4"/><circle class="m" cx="315.1" cy="215.3" r="1.4"/><circle class="y" cx="426.0" cy="108.3" r="1.4"/><circle class="c" cx="247.3" cy="288.5" r="1.4"/><circle class="c" cx="399.5" cy="136.3" r="1.4"/><circle class="b" cx="286.0" cy="252.3" r="1.4"/><circle class="y" cx="430.0" cy="101.9" r="1.4"/><circle class="y" cx="418.0" cy="116.1" r="1.4"/><circle class="y" cx="391.2" cy="147.0" r="1.4"/><circle class="c" cx="433.1" cy="103.0" r="1.4"/><circle class="c" cx="252.7" cy="284.4" r="1.4"/><circle class="c" cx="484.3" cy="57.2" r="1.4"/><circle class="y" cx="402.5" cy="131.0" r="1.4"/><circle class="c" cx="142.6" cy="390.7" r="1.4"/><circle class="b" cx="242.1" cy="288.6" r="1.4"/><circle class="c" cx="272.5" cy="262.2" r="1.4"/><circle class="m" cx="366.4" cy="167.2" r="1.4"/><circle class="y" cx="479.9" cy="53.1" r="1.4"/><circle class="y" cx="150.9" cy="368.8" r="1.4"/><circle class="y" cx="502.5" cy="37.6" r="1.4"/><circle class="b" cx="188.2" cy="363.3" r="1.4"/><circle class="m" cx="240.4" cy="287.9" r="1.4"/><circle class="m" cx="391.1" cy="138.8" r="1.4"/><circle class="y" cx="149.4" cy="387.7" r="1.4"/><circle class="c" cx="430.1" cy="109.4" r="1.4"/><circle class="m" cx="502.8" cy="32.9" r="1.4"/><circle class="c" cx="498.7" cy="40.3" r="1.4"/><circle class="y" cx="189.0" cy="373.2" r="1.4"/><circle class="y" cx="301.1" cy="220.4" r="1.4"/><circle class="y" cx="415.9" cy="113.3" r="1.4"/><circle class="c" cx="250.5" cy="280.0" r="1.4"/><circle class="b" cx="176.5" cy="356.3" r="1.4"/><circle class="y" cx="219.4" cy="299.3" r="1.4"/><circle class="b" cx="409.0" cy="140.5" r="1.4"/><circle class="c" cx="342.4" cy="189.6" r="1.4"/><circle class="b" cx="329.6" cy="206.3" r="1.4"/><circle class="b" cx="489.6" cy="57.7" r="1.4"/><circle class="b" cx="450.8" cy="93.1" r="1.4"/><circle class="c" cx="477.9" cy="63.0" r="1.4"/><circle class="b" cx="317.2" cy="219.0" r="1.4"/><circle class="b" cx="342.2" cy="214.9" r="1.4"/><circle class="b" cx="410.0" cy="126.7" r="1.4"/><circle class="m" cx="407.8" cy="131.2" r="1.4"/><circle class="y" cx="291.1" cy="240.8" r="1.4"/><circle class="c" cx="408.7" cy="129.5" r="1.4"/><circle class="y" cx="213.5" cy="320.7" r="1.4"/><circle class="y" cx="119.8" cy="404.2" r="1.4"/><circle class="b" cx="154.8" cy="377.3" r="1.4"/><circle class="b" cx="311.2" cy="226.8" r="1.4"/><circle class="y" cx="311.6" cy="217.8" r="1.4"/><circle class="c" cx="377.3" cy="159.9" r="1.4"/><circle class="b" cx="377.3" cy="160.9" r="1.4"/><circle class="b" cx="498.8" cy="47.4" r="1.4"/><circle class="y" cx="300.2" cy="233.8" r="1.4"/><circle class="y" cx="370.8" cy="165.8" r="1.4"/><circle class="c" cx="424.1" cy="114.4" r="1.4"/><circle class="y" cx="481.7" cy="54.1" r="1.4"/><circle class="c" cx="144.7" cy="383.0" r="1.4"/><circle class="c" cx="471.1" cy="72.6" r="1.4"/><circle class="c" cx="443.0" cy="99.0" r="1.4"/><circle class="b" cx="477.1" cy="56.1" r="1.4"/><circle class="m" cx="182.4" cy="351.3" r="1.4"/><circle class="c" cx="437.6" cy="95.4" r="1.4"/><circle class="b" cx="204.6" cy="345.9" r="1.4"/><circle class="m" cx="497.1" cy="47.3" r="1.4"/><circle class="m" cx="356.0" cy="183.0" r="1.4"/><circle class="b" cx="366.1" cy="165.9" r="1.4"/><circle class="b" cx="181.8" cy="359.4" r="1.4"/><circle class="c" cx="121.6" cy="401.6" r="1.4"/><circle class="b" cx="154.2" cy="382.6" r="1.4"/><circle class="c" cx="420.4" cy="116.1" r="1.4"/><circle class="y" cx="414.0" cy="125.9" r="1.4"/><circle class="b" cx="99.9" cy="434.8" r="1.4"/><circle class="b" cx="468.3" cy="83.3" r="1.4"/><circle class="m" cx="429.2" cy="103.8" r="1.4"/><circle class="m" cx="483.1" cy="57.0" r="1.4"/><circle class="c" cx="107.8" cy="416.1" r="1.4"/><circle class="c" cx="485.9" cy="61.4" r="1.4"/><circle class="b" cx="447.3" cy="100.3" r="1.4"/><circle class="m" cx="419.2" cy="121.1" r="1.4"/><circle class="y" cx="259.2" cy="277.8" r="1.4"/><circle class="y" cx="501.2" cy="39.5" r="1.4"/><circle class="c" cx="161.7" cy="368.4" r="1.4"/><circle class="c" cx="197.0" cy="332.1" r="1.4"/><circle class="y" cx="461.8" cy="77.7" r="1.4"/><circle class="m" cx="102.9" cy="428.3" r="1.4"/><circle class="y" cx="409.1" cy="128.2" r="1.4"/><circle class="c" cx="336.9" cy="201.6" r="1.4"/><circle class="m" cx="491.4" cy="48.4" r="1.4"/><circle class="c" cx="435.7" cy="102.9" r="1.4"/><circle class="b" cx="294.9" cy="244.5" r="1.4"/><circle class="m" cx="127.6" cy="399.5" r="1.4"/><circle class="y" cx="173.4" cy="364.5" r="1.4"/><circle class="c" cx="124.2" cy="405.9" r="1.4"/><circle class="c" cx="448.5" cy="89.9" r="1.4"/><circle class="c" cx="188.6" cy="348.6" r="1.4"/><circle class="b" cx="373.9" cy="162.4" r="1.4"/><circle class="m" cx="374.7" cy="152.6" r="1.4"/><circle class="c" cx="296.9" cy="237.6" r="1.4"/><circle class="c" cx="494.8" cy="42.0" r="1.4"/><circle class="b" cx="129.9" cy="391.0" r="1.4"/><circle class="m" cx="330.4" cy="206.2" r="1.4"/><circle class="b" cx="335.1" cy="199.2" r="1.4"/><circle class="y" cx="232.9" cy="301.4" r="1.4"/><circle class="y" cx="462.6" cy="73.6" r="1.4"/><circle class="m" cx="319.3" cy="212.7" r="1.4"/><circle class="b" cx="430.4" cy="110.8" r="1.4"/><circle class="m" cx="340.0" cy="198.3" r="1.4"/><circle class="c" cx="272.4" cy="261.4" r="1.4"/><circle class="b" cx="238.7" cy="292.9" r="1.4"/><circle class="c" cx="97.1" cy="436.3" r="1.4"/><circle class="c" cx="224.5" cy="304.9" r="1.4"/><circle class="y" cx="129.8" cy="387.8" r="1.4"/><circle class="y" cx="236.7" cy="301.9" r="1.4"/><circle class="y" cx="326.5" cy="207.9" r="1.4"/><circle class="y" cx="132.9" cy="390.8" r="1.4"/><circle class="y" cx="180.8" cy="348.3" r="1.4"/><circle class="y" cx="477.2" cy="64.9" r="1.4"/><circle class="y" cx="439.3" cy="97.3" r="1.4"/><circle class="m" cx="468.4" cy="75.4" r="1.4"/><circle class="y" cx="173.3" cy="357.4" r="1.4"/><circle class="m" cx="113.6" cy="417.0" r="1.4"/><circle class="b" cx="385.5" cy="153.9" r="1.4"/><circle class="m" cx="129.3" cy="395.5" r="1.4"/><circle class="y" cx="220.1" cy="314.7" r="1.4"/><circle class="c" cx="484.1" cy="64.2" r="1.4"/><circle class="b" cx="206.3" cy="323.2" r="1.4"/><circle class="c" cx="352.9" cy="182.3" r="1.4"/><circle class="b" cx="260.6" cy="299.8" r="1.4"/><circle class="y" cx="102.3" cy="426.6" r="1.4"/><circle class="b" cx="446.2" cy="92.7" r="1.4"/><circle class="y" cx="382.4" cy="152.1" r="1.4"/><circle class="b" cx="211.4" cy="320.2" r="1.4"/><circle class="b" cx="346.6" cy="189.0" r="1.4"/><circle class="m" cx="349.8" cy="181.4" r="1.4"/><circle class="b" cx="256.2" cy="280.5" r="1.4"/><circle class="b" cx="176.7" cy="357.0" r="1.4"/><circle class="b" cx="200.3" cy="331.5" r="1.4"/><circle class="c" cx="448.1" cy="95.6" r="1.4"/><circle class="m" cx="163.6" cy="357.8" r="1.4"/><circle class="c" cx="406.8" cy="130.0" r="1.4"/><circle class="y" cx="125.8" cy="395.1" r="1.4"/><circle class="c" cx="431.0" cy="103.1" r="1.4"/><circle class="m" cx="180.6" cy="351.5" r="1.4"/><circle class="y" cx="380.2" cy="150.9" r="1.4"/><circle class="b" cx="140.3" cy="418.7" r="1.4"/><circle class="c" cx="481.2" cy="59.4" r="1.4"/><circle class="b" cx="189.9" cy="349.2" r="1.4"/><circle class="m" cx="215.2" cy="314.8" r="1.4"/><circle class="b" cx="93.7" cy="431.9" r="1.4"/><circle class="c" cx="161.0" cy="365.2" r="1.4"/><circle class="m" cx="103.8" cy="426.7" r="1.4"/><circle class="b" cx="284.5" cy="245.4" r="1.4"/><circle class="y" cx="147.7" cy="383.0" r="1.4"/><circle class="b" cx="349.9" cy="187.8" r="1.4"/><circle class="b" cx="103.0" cy="425.4" r="1.4"/><circle class="y" cx="295.2" cy="237.8" r="1.4"/><circle class="y" cx="184.3" cy="339.4" r="1.4"/><circle class="b" cx="139.1" cy="389.1" r="1.4"/><circle class="m" cx="385.5" cy="152.6" r="1.4"/><circle class="m" cx="501.7" cy="31.9" r="1.4"/><circle class="m" cx="114.3" cy="418.6" r="1.4"/><circle class="y" cx="406.9" cy="134.3" r="1.4"/><circle class="c" cx="367.9" cy="166.1" r="1.4"/><circle class="m" cx="410.7" cy="125.3" r="1.4"/><circle class="y" cx="367.5" cy="170.9" r="1.4"/><circle class="b" cx="147.2" cy="399.6" r="1.4"/><circle class="m" cx="471.8" cy="64.4" r="1.4"/><circle class="c" cx="493.3" cy="50.3" r="1.4"/><circle class="c" cx="105.5" cy="425.2" r="1.4"/><circle class="m" cx="364.7" cy="167.7" r="1.4"/><circle class="y" cx="323.3" cy="211.2" r="1.4"/><circle class="b" cx="314.8" cy="219.0" r="1.4"/><circle class="m" cx="443.5" cy="87.8" r="1.4"/><circle class="c" cx="305.4" cy="226.8" r="1.4"/><circle class="c" cx="107.9" cy="420.4" r="1.4"/><circle class="m" cx="88.9" cy="444.3" r="1.4"/><circle class="c" cx="314.7" cy="218.2" r="1.4"/><circle class="c" cx="237.7" cy="296.2" r="1.4"/><circle class="c" cx="323.1" cy="211.8" r="1.4"/><circle class="y" cx="201.0" cy="338.1" r="1.4"/><circle class="c" cx="188.9" cy="346.9" r="1.4"/><circle class="y" cx="284.4" cy="252.2" r="1.4"/><circle class="b" cx="213.9" cy="319.2" r="1.4"/><circle class="b" cx="160.8" cy="377.6" r="1.4"/><circle class="y" cx="483.6" cy="59.1" r="1.4"/><circle class="m" cx="490.8" cy="44.8" r="1.4"/><circle class="m" cx="173.0" cy="352.9" r="1.4"/><circle class="y" cx="220.4" cy="306.8" r="1.4"/><circle class="m" cx="242.5" cy="287.9" r="1.4"/><circle class="y" cx="196.2" cy="337.9" r="1.4"/><circle class="b" cx="334.5" cy="198.9" r="1.4"/><circle class="m" cx="372.3" cy="161.5" r="1.4"/><circle class="b" cx="239.8" cy="295.7" r="1.4"/><circle class="c" cx="182.5" cy="352.9" r="1.4"/><circle class="c" cx="179.5" cy="350.1" r="1.4"/><circle class="m" cx="502.5" cy="42.5" r="1.4"/><circle class="c" cx="370.2" cy="167.0" r="1.4"/><circle class="y" cx="239.9" cy="294.2" r="1.4"/><circle class="c" cx="225.4" cy="308.6" r="1.4"/><circle class="y" cx="139.3" cy="392.8" r="1.4"/><circle class="c" cx="289.2" cy="235.7" r="1.4"/><circle class="y" cx="120.8" cy="409.2" r="1.4"/><circle class="y" cx="302.6" cy="234.5" r="1.4"/><circle class="y" cx="449.1" cy="81.4" r="1.4"/><circle class="m" cx="327.5" cy="207.7" r="1.4"/><circle class="y" cx="287.7" cy="238.0" r="1.4"/><circle class="y" cx="166.6" cy="366.8" r="1.4"/><circle class="b" cx="286.2" cy="246.8" r="1.4"/><circle class="y" cx="492.3" cy="38.5" r="1.4"/><circle class="y" cx="441.1" cy="97.2" r="1.4"/><circle class="c" cx="495.7" cy="42.2" r="1.4"/><circle class="c" cx="432.7" cy="104.8" r="1.4"/><circle class="m" cx="137.8" cy="402.1" r="1.4"/><circle class="m" cx="396.5" cy="141.4" r="1.4"/><circle class="y" cx="265.7" cy="264.1" r="1.4"/><circle class="b" cx="462.5" cy="73.0" r="1.4"/><circle class="c" cx="206.3" cy="329.5" r="1.4"/><circle class="b" cx="476.9" cy="68.2" r="1.4"/><circle class="m" cx="396.2" cy="137.4" r="1.4"/><circle class="b" cx="431.0" cy="104.9" r="1.4"/><circle class="m" cx="242.7" cy="290.0" r="1.4"/><circle class="m" cx="135.8" cy="394.0" r="1.4"/><circle class="y" cx="361.8" cy="176.4" r="1.4"/><circle class="c" cx="224.9" cy="306.0" r="1.4"/><circle class="y" cx="216.8" cy="309.8" r="1.4"/><circle class="c" cx="222.7" cy="305.7" r="1.4"/><circle class="m" cx="135.0" cy="392.8" r="1.4"/><circle class="c" cx="100.8" cy="431.8" r="1.4"/><circle class="m" cx="426.4" cy="110.5" r="1.4"/><circle class="c" cx="85.4" cy="437.7" r="1.4"/><circle class="m" cx="248.2" cy="284.1" r="1.4"/><circle class="b" cx="365.0" cy="172.7" r="1.4"/><circle class="y" cx="162.6" cy="370.6" r="1.4"/><circle class="y" cx="458.6" cy="73.5" r="1.4"/><circle class="c" cx="478.7" cy="63.7" r="1.4"/><circle class="y" cx="297.6" cy="235.5" r="1.4"/><circle class="y" cx="455.5" cy="75.3" r="1.4"/><circle class="m" cx="328.3" cy="206.0" r="1.4"/><circle class="y" cx="319.2" cy="204.6" r="1.4"/><circle class="c" cx="172.3" cy="354.2" r="1.4"/><circle class="m" cx="166.1" cy="362.1" r="1.4"/><circle class="y" cx="293.1" cy="244.0" r="1.4"/><circle class="m" cx="290.4" cy="245.1" r="1.4"/><circle class="c" cx="472.1" cy="62.8" r="1.4"/><circle class="m" cx="223.6" cy="305.7" r="1.4"/><circle class="b" cx="189.6" cy="349.5" r="1.4"/><circle class="c" cx="272.4" cy="260.2" r="1.4"/><circle class="m" cx="113.9" cy="411.6" r="1.4"/><circle class="c" cx="111.0" cy="418.8" r="1.4"/><circle class="m" cx="164.6" cy="373.7" r="1.4"/><circle class="m" cx="153.4" cy="381.6" r="1.4"/><circle class="b" cx="381.4" cy="156.9" r="1.4"/><circle class="c" cx="367.8" cy="187.6" r="1.4"/><circle class="b" cx="467.1" cy="72.3" r="1.4"/><circle class="m" cx="354.2" cy="182.8" r="1.4"/><circle class="m" cx="92.2" cy="428.9" r="1.4"/><circle class="b" cx="426.8" cy="125.9" r="1.4"/><circle class="b" cx="408.0" cy="131.3" r="1.4"/><circle class="c" cx="137.2" cy="395.6" r="1.4"/><circle class="y" cx="105.7" cy="422.0" r="1.4"/><circle class="m" cx="267.7" cy="264.6" r="1.4"/><circle class="m" cx="336.4" cy="196.3" r="1.4"/><circle class="b" cx="343.7" cy="196.3" r="1.4"/><circle class="y" cx="502.1" cy="27.9" r="1.4"/><circle class="b" cx="463.2" cy="81.9" r="1.4"/><circle class="b" cx="202.7" cy="330.5" r="1.4"/><circle class="y" cx="427.3" cy="105.5" r="1.4"/><circle class="b" cx="414.1" cy="138.9" r="1.4"/><circle class="b" cx="486.6" cy="59.3" r="1.4"/><circle class="b" cx="307.3" cy="227.2" r="1.4"/><circle class="c" cx="382.5" cy="141.2" r="1.4"/><circle class="b" cx="165.8" cy="372.8" r="1.4"/><circle class="c" cx="343.0" cy="194.9" r="1.4"/><circle class="c" cx="362.3" cy="173.7" r="1.4"/><circle class="c" cx="144.8" cy="381.3" r="1.4"/><circle class="m" cx="345.3" cy="187.5" r="1.4"/><circle class="m" cx="151.4" cy="381.4" r="1.4"/><circle class="c" cx="372.7" cy="159.4" r="1.4"/><circle class="b" cx="417.6" cy="162.8" r="1.4"/><circle class="m" cx="103.5" cy="419.8" r="1.4"/><circle class="m" cx="245.4" cy="284.1" r="1.4"/><circle class="c" cx="318.3" cy="216.4" r="1.4"/><circle class="b" cx="220.2" cy="326.9" r="1.4"/><circle class="m" cx="483.2" cy="64.3" r="1.4"/><circle class="y" cx="462.8" cy="74.2" r="1.4"/><circle class="m" cx="322.9" cy="215.1" r="1.4"/><circle class="y" cx="408.1" cy="120.7" r="1.4"/><circle class="m" cx="480.2" cy="58.9" r="1.4"/><circle class="b" cx="170.2" cy="358.2" r="1.4"/><circle class="c" cx="385.7" cy="150.0" r="1.4"/><circle class="b" cx="336.0" cy="202.7" r="1.4"/><circle class="c" cx="480.0" cy="58.4" r="1.4"/><circle class="c" cx="165.9" cy="372.4" r="1.4"/><circle class="c" cx="230.4" cy="301.5" r="1.4"/><circle class="b" cx="474.2" cy="71.3" r="1.4"/><circle class="y" cx="486.1" cy="51.8" r="1.4"/><circle class="y" cx="425.2" cy="114.5" r="1.4"/><circle class="m" cx="258.9" cy="277.0" r="1.4"/><circle class="y" cx="301.0" cy="229.4" r="1.4"/><circle class="c" cx="419.5" cy="121.4" r="1.4"/><circle class="y" cx="420.3" cy="141.2" r="1.4"/><circle class="b" cx="266.6" cy="266.6" r="1.4"/><circle class="y" cx="193.1" cy="332.1" r="1.4"/><circle class="y" cx="451.1" cy="84.1" r="1.4"/><circle class="m" cx="470.0" cy="70.8" r="1.4"/><circle class="y" cx="238.9" cy="293.5" r="1.4"/><circle class="y" cx="147.3" cy="370.6" r="1.4"/><circle class="m" cx="133.3" cy="391.4" r="1.4"/><circle class="y" cx="187.8" cy="347.0" r="1.4"/><circle class="y" cx="442.5" cy="89.8" r="1.4"/><circle class="c" cx="483.5" cy="59.7" r="1.4"/><circle class="c" cx="368.1" cy="166.5" r="1.4"/><circle class="c" cx="283.4" cy="251.6" r="1.4"/><circle class="y" cx="145.9" cy="381.4" r="1.4"/><circle class="b" cx="360.2" cy="180.2" r="1.4"/><circle class="m" cx="497.2" cy="45.8" r="1.4"/><circle class="c" cx="362.6" cy="181.2" r="1.4"/><circle class="c" cx="499.7" cy="40.7" r="1.4"/><circle class="b" cx="439.9" cy="95.2" r="1.4"/><circle class="y" cx="204.2" cy="324.3" r="1.4"/><circle class="m" cx="104.7" cy="423.3" r="1.4"/><circle class="c" cx="399.9" cy="127.2" r="1.4"/><circle class="b" cx="184.3" cy="345.9" r="1.4"/><circle class="m" cx="438.5" cy="96.1" r="1.4"/><circle class="b" cx="368.4" cy="171.7" r="1.4"/><circle class="y" cx="447.7" cy="81.8" r="1.4"/><circle class="y" cx="208.3" cy="322.7" r="1.4"/><circle class="b" cx="154.7" cy="382.7" r="1.4"/><circle class="c" cx="233.9" cy="297.8" r="1.4"/><circle class="b" cx="426.3" cy="118.4" r="1.4"/><circle class="m" cx="443.1" cy="100.2" r="1.4"/><circle class="y" cx="271.9" cy="262.4" r="1.4"/><circle class="c" cx="165.4" cy="375.3" r="1.4"/><circle class="c" cx="288.8" cy="245.8" r="1.4"/><circle class="m" cx="343.3" cy="195.5" r="1.4"/><circle class="m" cx="362.1" cy="173.2" r="1.4"/><circle class="b" cx="485.1" cy="55.0" r="1.4"/><circle class="c" cx="243.8" cy="284.5" r="1.4"/><circle class="c" cx="244.1" cy="284.5" r="1.4"/><circle class="b" cx="305.9" cy="230.4" r="1.4"/><circle class="c" cx="382.8" cy="158.2" r="1.4"/><circle class="b" cx="290.0" cy="248.8" r="1.4"/><circle class="m" cx="201.7" cy="325.7" r="1.4"/><circle class="c" cx="160.2" cy="369.3" r="1.4"/><circle class="y" cx="271.5" cy="266.1" r="1.4"/><circle class="m" cx="234.4" cy="303.2" r="1.4"/><circle class="y" cx="131.4" cy="391.3" r="1.4"/><circle class="y" cx="392.8" cy="137.4" r="1.4"/><circle class="y" cx="344.9" cy="192.8" r="1.4"/><circle class="c" cx="369.7" cy="164.4" r="1.4"/><circle class="b" cx="144.1" cy="389.9" r="1.4"/><circle class="y" cx="410.3" cy="134.4" r="1.4"/><circle class="b" cx="181.1" cy="380.9" r="1.4"/><circle class="c" cx="181.1" cy="347.2" r="1.4"/><circle class="m" cx="373.6" cy="161.3" r="1.4"/><circle class="b" cx="192.2" cy="336.9" r="1.4"/><circle class="b" cx="187.1" cy="344.6" r="1.4"/><circle class="c" cx="331.7" cy="198.1" r="1.4"/><circle class="m" cx="126.2" cy="400.5" r="1.4"/><circle class="y" cx="303.2" cy="231.6" r="1.4"/><circle class="y" cx="215.1" cy="315.4" r="1.4"/><circle class="c" cx="483.8" cy="58.7" r="1.4"/><circle class="y" cx="348.8" cy="188.2" r="1.4"/><circle class="b" cx="90.4" cy="442.5" r="1.4"/><circle class="c" cx="418.2" cy="113.2" r="1.4"/><circle class="b" cx="304.5" cy="228.6" r="1.4"/><circle class="b" cx="88.8" cy="451.0" r="1.4"/><circle class="b" cx="267.1" cy="274.1" r="1.4"/><circle class="m" cx="493.4" cy="50.2" r="1.4"/><circle class="c" cx="142.1" cy="386.6" r="1.4"/><circle class="m" cx="287.4" cy="253.0" r="1.4"/><circle class="y" cx="110.9" cy="417.3" r="1.4"/><circle class="m" cx="155.0" cy="373.4" r="1.4"/><circle class="m" cx="445.4" cy="97.4" r="1.4"/><circle class="y" cx="308.0" cy="222.0" r="1.4"/><circle class="m" cx="157.4" cy="372.2" r="1.4"/><circle class="b" cx="419.2" cy="116.1" r="1.4"/><circle class="m" cx="281.2" cy="253.2" r="1.4"/><circle class="b" cx="181.0" cy="356.7" r="1.4"/><circle class="b" cx="220.7" cy="314.0" r="1.4"/><circle class="m" cx="495.1" cy="28.5" r="1.4"/><circle class="b" cx="286.5" cy="248.7" r="1.4"/><circle class="b" cx="197.7" cy="336.3" r="1.4"/><circle class="b" cx="371.8" cy="179.5" r="1.4"/><circle class="y" cx="135.8" cy="386.4" r="1.4"/><circle class="c" cx="469.2" cy="68.9" r="1.4"/><circle class="c" cx="434.0" cy="106.9" r="1.4"/><circle class="b" cx="293.0" cy="244.9" r="1.4"/><circle class="b" cx="241.8" cy="294.5" r="1.4"/><circle class="y" cx="190.3" cy="326.7" r="1.4"/><circle class="b" cx="441.1" cy="100.9" r="1.4"/><circle class="y" cx="266.8" cy="260.6" r="1.4"/><circle class="b" cx="478.5" cy="49.8" r="1.4"/><circle class="m" cx="408.7" cy="129.0" r="1.4"/><circle class="y" cx="189.4" cy="333.0" r="1.4"/><circle class="c" cx="212.6" cy="316.3" r="1.4"/><circle class="y" cx="121.3" cy="403.4" r="1.4"/><circle class="m" cx="251.5" cy="284.7" r="1.4"/><circle class="y" cx="403.2" cy="132.1" r="1.4"/><circle class="b" cx="246.9" cy="286.4" r="1.4"/><circle class="m" cx="156.3" cy="371.0" r="1.4"/><circle class="m" cx="267.3" cy="273.3" r="1.4"/><circle class="m" cx="247.9" cy="291.7" r="1.4"/><circle class="m" cx="329.6" cy="204.5" r="1.4"/><circle class="m" cx="165.8" cy="365.3" r="1.4"/><circle class="b" cx="258.5" cy="272.9" r="1.4"/><circle class="c" cx="412.3" cy="129.8" r="1.4"/><circle class="c" cx="286.3" cy="244.3" r="1.4"/><circle class="m" cx="348.6" cy="184.0" r="1.4"/><circle class="c" cx="423.7" cy="112.5" r="1.4"/><circle class="m" cx="120.0" cy="409.6" r="1.4"/><circle class="m" cx="282.8" cy="256.9" r="1.4"/><circle class="b" cx="384.2" cy="164.4" r="1.4"/><circle class="m" cx="303.4" cy="227.7" r="1.4"/><circle class="m" cx="236.8" cy="289.2" r="1.4"/><circle class="y" cx="297.4" cy="237.0" r="1.4"/><circle class="b" cx="402.4" cy="136.8" r="1.4"/><circle class="y" cx="350.9" cy="188.2" r="1.4"/><circle class="y" cx="277.4" cy="252.3" r="1.4"/><circle class="m" cx="179.7" cy="353.5" r="1.4"/><circle class="m" cx="129.3" cy="400.0" r="1.4"/><circle class="b" cx="200.4" cy="333.4" r="1.4"/><circle class="b" cx="140.8" cy="406.7" r="1.4"/><circle class="m" cx="403.9" cy="128.2" r="1.4"/><circle class="b" cx="431.8" cy="108.1" r="1.4"/><circle class="b" cx="96.1" cy="433.9" r="1.4"/><circle class="c" cx="359.6" cy="183.3" r="1.4"/><circle class="y" cx="179.9" cy="347.8" r="1.4"/><circle class="m" cx="260.2" cy="268.2" r="1.4"/><circle class="y" cx="247.7" cy="267.4" r="1.4"/><circle class="m" cx="352.3" cy="199.8" r="1.4"/><circle class="y" cx="412.1" cy="124.2" r="1.4"/><circle class="m" cx="465.1" cy="75.3" r="1.4"/><circle class="b" cx="270.2" cy="266.3" r="1.4"/><circle class="b" cx="500.7" cy="41.9" r="1.4"/><circle class="c" cx="454.3" cy="82.3" r="1.4"/><circle class="y" cx="375.9" cy="166.0" r="1.4"/><circle class="m" cx="494.0" cy="50.2" r="1.4"/><circle class="y" cx="495.3" cy="13.3" r="1.4"/><circle class="y" cx="318.1" cy="218.6" r="1.4"/><circle class="y" cx="157.4" cy="371.7" r="1.4"/><circle class="c" cx="280.2" cy="257.9" r="1.4"/><circle class="m" cx="264.7" cy="273.6" r="1.4"/><circle class="m" cx="431.5" cy="108.0" r="1.4"/><circle class="y" cx="138.5" cy="379.9" r="1.4"/><circle class="c" cx="103.3" cy="428.5" r="1.4"/><circle class="y" cx="180.0" cy="345.2" r="1.4"/><circle class="c" cx="468.2" cy="66.4" r="1.4"/><circle class="y" cx="418.5" cy="132.0" r="1.4"/><circle class="y" cx="103.1" cy="412.4" r="1.4"/><circle class="y" cx="206.0" cy="322.7" r="1.4"/><circle class="y" cx="288.2" cy="241.8" r="1.4"/><circle class="b" cx="433.2" cy="112.4" r="1.4"/><circle class="c" cx="440.3" cy="98.8" r="1.4"/><circle class="c" cx="325.4" cy="208.7" r="1.4"/><circle class="c" cx="417.8" cy="207.2" r="1.4"/><circle class="m" cx="466.3" cy="82.4" r="1.4"/><circle class="b" cx="215.3" cy="324.2" r="1.4"/><circle class="c" cx="301.7" cy="227.7" r="1.4"/><circle class="y" cx="297.7" cy="235.0" r="1.4"/><circle class="c" cx="278.8" cy="255.3" r="1.4"/><circle class="m" cx="138.3" cy="391.7" r="1.4"/><circle class="b" cx="181.0" cy="348.1" r="1.4"/><circle class="m" cx="470.1" cy="71.4" r="1.4"/><circle class="y" cx="417.2" cy="138.7" r="1.4"/><circle class="m" cx="388.1" cy="149.6" r="1.4"/><circle class="c" cx="220.9" cy="300.8" r="1.4"/><circle class="b" cx="488.6" cy="49.7" r="1.4"/><circle class="c" cx="340.6" cy="194.4" r="1.4"/><circle class="y" cx="375.7" cy="152.9" r="1.4"/><circle class="y" cx="234.2" cy="296.3" r="1.4"/><circle class="b" cx="358.9" cy="176.3" r="1.4"/><circle class="b" cx="427.4" cy="113.6" r="1.4"/><circle class="y" cx="154.4" cy="372.5" r="1.4"/><circle class="b" cx="452.4" cy="87.2" r="1.4"/><circle class="b" cx="192.7" cy="341.3" r="1.4"/><circle class="c" cx="422.2" cy="123.6" r="1.4"/><circle class="c" cx="191.3" cy="338.3" r="1.4"/><circle class="y" cx="436.4" cy="108.2" r="1.4"/><circle class="y" cx="280.6" cy="251.8" r="1.4"/><circle class="b" cx="320.8" cy="218.3" r="1.4"/><circle class="y" cx="148.6" cy="384.8" r="1.4"/><circle class="y" cx="166.3" cy="354.6" r="1.4"/><circle class="c" cx="301.5" cy="234.0" r="1.4"/><circle class="m" cx="328.8" cy="206.4" r="1.4"/><circle class="b" cx="162.5" cy="365.3" r="1.4"/><circle class="m" cx="118.7" cy="412.0" r="1.4"/><circle class="y" cx="224.8" cy="303.9" r="1.4"/><circle class="b" cx="338.5" cy="192.3" r="1.4"/><circle class="c" cx="178.5" cy="353.3" r="1.4"/><circle class="b" cx="127.1" cy="403.7" r="1.4"/><circle class="c" cx="408.3" cy="128.3" r="1.4"/><circle class="b" cx="467.4" cy="75.6" r="1.4"/><circle class="c" cx="475.3" cy="56.5" r="1.4"/><circle class="m" cx="229.2" cy="301.5" r="1.4"/><circle class="c" cx="397.9" cy="141.2" r="1.4"/><circle class="m" cx="87.2" cy="445.5" r="1.4"/><circle class="b" cx="400.6" cy="195.4" r="1.4"/><circle class="b" cx="201.7" cy="333.5" r="1.4"/><circle class="y" cx="162.3" cy="357.2" r="1.4"/><circle class="c" cx="419.5" cy="116.5" r="1.4"/><circle class="m" cx="131.1" cy="395.0" r="1.4"/><circle class="c" cx="344.6" cy="188.3" r="1.4"/><circle class="m" cx="463.1" cy="74.7" r="1.4"/><circle class="c" cx="490.0" cy="50.4" r="1.4"/><circle class="c" cx="314.2" cy="221.2" r="1.4"/><circle class="y" cx="224.2" cy="311.4" r="1.4"/><circle class="c" cx="97.9" cy="425.6" r="1.4"/><circle class="b" cx="271.1" cy="266.9" r="1.4"/><circle class="b" cx="493.4" cy="46.5" r="1.4"/><circle class="y" cx="201.2" cy="329.5" r="1.4"/><circle class="b" cx="282.6" cy="252.9" r="1.4"/><circle class="c" cx="149.9" cy="382.3" r="1.4"/><circle class="b" cx="366.6" cy="172.3" r="1.4"/><circle class="c" cx="299.8" cy="234.0" r="1.4"/><circle class="y" cx="99.3" cy="427.5" r="1.4"/><circle class="y" cx="237.9" cy="293.2" r="1.4"/><circle class="c" cx="422.5" cy="110.7" r="1.4"/><circle class="m" cx="126.5" cy="408.2" r="1.4"/><circle class="b" cx="164.2" cy="383.5" r="1.4"/><circle class="c" cx="128.0" cy="401.8" r="1.4"/><circle class="m" cx="242.9" cy="286.0" r="1.4"/><circle class="c" cx="100.0" cy="427.2" r="1.4"/><circle class="y" cx="378.5" cy="157.4" r="1.4"/><circle class="b" cx="248.4" cy="307.4" r="1.4"/><circle class="b" cx="113.5" cy="422.1" r="1.4"/><circle class="y" cx="196.1" cy="335.2" r="1.4"/><circle class="b" cx="340.7" cy="194.8" r="1.4"/><circle class="b" cx="359.9" cy="174.6" r="1.4"/><circle class="m" cx="441.7" cy="97.7" r="1.4"/><circle class="y" cx="351.6" cy="180.8" r="1.4"/><circle class="c" cx="401.5" cy="134.7" r="1.4"/><circle class="m" cx="334.7" cy="192.0" r="1.4"/><circle class="c" cx="202.3" cy="325.8" r="1.4"/><circle class="m" cx="88.2" cy="440.0" r="1.4"/><circle class="m" cx="358.9" cy="175.8" r="1.4"/><circle class="y" cx="129.6" cy="397.0" r="1.4"/><circle class="c" cx="266.9" cy="262.5" r="1.4"/><circle class="b" cx="192.7" cy="348.0" r="1.4"/><circle class="b" cx="336.3" cy="202.8" r="1.4"/><circle class="y" cx="190.1" cy="328.8" r="1.4"/><circle class="y" cx="171.4" cy="352.9" r="1.4"/><circle class="m" cx="307.9" cy="231.9" r="1.4"/><circle class="b" cx="236.6" cy="301.7" r="1.4"/><circle class="b" cx="206.9" cy="326.7" r="1.4"/><circle class="b" cx="483.4" cy="59.3" r="1.4"/><circle class="y" cx="448.3" cy="95.0" r="1.4"/><circle class="b" cx="134.7" cy="414.8" r="1.4"/><circle class="b" cx="191.4" cy="343.2" r="1.4"/><circle class="y" cx="498.2" cy="20.0" r="1.4"/><circle class="m" cx="351.8" cy="182.6" r="1.4"/><circle class="m" cx="223.1" cy="311.2" r="1.4"/><circle class="b" cx="332.0" cy="199.1" r="1.4"/><circle class="y" cx="397.2" cy="137.9" r="1.4"/><circle class="m" cx="110.9" cy="417.2" r="1.4"/><circle class="y" cx="258.9" cy="275.6" r="1.4"/><circle class="c" cx="223.6" cy="308.2" r="1.4"/><circle class="c" cx="279.5" cy="254.8" r="1.4"/><circle class="c" cx="378.4" cy="152.8" r="1.4"/><circle class="m" cx="89.2" cy="444.8" r="1.4"/><circle class="m" cx="334.3" cy="196.4" r="1.4"/><circle class="y" cx="203.4" cy="329.2" r="1.4"/><circle class="c" cx="187.4" cy="340.0" r="1.4"/><circle class="c" cx="459.9" cy="81.5" r="1.4"/><circle class="c" cx="301.3" cy="233.3" r="1.4"/><circle class="c" cx="224.3" cy="311.2" r="1.4"/><circle class="m" cx="108.8" cy="418.1" r="1.4"/><circle class="b" cx="251.6" cy="284.7" r="1.4"/><circle class="b" cx="383.8" cy="152.9" r="1.4"/><circle class="b" cx="394.7" cy="143.4" r="1.4"/><circle class="m" cx="163.8" cy="364.9" r="1.4"/><circle class="c" cx="207.2" cy="323.2" r="1.4"/><circle class="y" cx="158.7" cy="362.1" r="1.4"/><circle class="y" cx="302.3" cy="230.7" r="1.4"/><circle class="c" cx="196.7" cy="333.5" r="1.4"/><circle class="c" cx="181.3" cy="347.5" r="1.4"/><circle class="y" cx="302.0" cy="232.5" r="1.4"/><circle class="y" cx="339.9" cy="195.9" r="1.4"/><circle class="b" cx="118.3" cy="426.3" r="1.4"/><circle class="b" cx="147.9" cy="382.6" r="1.4"/><circle class="y" cx="281.0" cy="252.3" r="1.4"/><circle class="m" cx="164.6" cy="365.7" r="1.4"/><circle class="y" cx="489.3" cy="38.2" r="1.4"/><circle class="m" cx="439.7" cy="96.1" r="1.4"/><circle class="c" cx="445.2" cy="94.3" r="1.4"/><circle class="y" cx="475.8" cy="39.7" r="1.4"/><circle class="y" cx="187.7" cy="347.7" r="1.4"/><circle class="b" cx="205.0" cy="332.3" r="1.4"/><circle class="m" cx="112.7" cy="415.0" r="1.4"/><circle class="y" cx="168.1" cy="365.6" r="1.4"/><circle class="c" cx="118.2" cy="406.7" r="1.4"/><circle class="y" cx="423.7" cy="121.3" r="1.4"/><circle class="y" cx="428.3" cy="106.1" r="1.4"/><circle class="b" cx="330.0" cy="210.0" r="1.4"/><circle class="y" cx="300.4" cy="239.5" r="1.4"/><circle class="m" cx="206.2" cy="327.3" r="1.4"/><circle class="c" cx="206.2" cy="330.8" r="1.4"/><circle class="y" cx="483.8" cy="37.3" r="1.4"/><circle class="y" cx="265.3" cy="271.7" r="1.4"/><circle class="m" cx="289.2" cy="247.2" r="1.4"/><circle class="c" cx="214.6" cy="316.3" r="1.4"/><circle class="c" cx="310.6" cy="223.4" r="1.4"/><circle class="b" cx="108.1" cy="430.1" r="1.4"/><circle class="y" cx="447.1" cy="82.9" r="1.4"/><circle class="y" cx="164.7" cy="369.1" r="1.4"/><circle class="m" cx="258.0" cy="276.2" r="1.4"/><circle class="y" cx="258.5" cy="272.4" r="1.4"/><circle class="b" cx="394.7" cy="143.1" r="1.4"/><circle class="c" cx="411.3" cy="130.9" r="1.4"/><circle class="y" cx="483.3" cy="55.1" r="1.4"/><circle class="m" cx="99.7" cy="425.8" r="1.4"/><circle class="m" cx="135.5" cy="395.5" r="1.4"/><circle class="y" cx="426.5" cy="115.9" r="1.4"/><circle class="y" cx="150.8" cy="378.5" r="1.4"/><circle class="c" cx="182.9" cy="343.9" r="1.4"/><circle class="m" cx="152.9" cy="377.7" r="1.4"/><circle class="y" cx="222.0" cy="312.2" r="1.4"/><circle class="c" cx="225.4" cy="306.9" r="1.4"/><circle class="y" cx="228.1" cy="303.2" r="1.4"/><circle class="y" cx="206.7" cy="323.1" r="1.4"/><circle class="m" cx="461.7" cy="77.2" r="1.4"/><circle class="c" cx="95.6" cy="428.1" r="1.4"/><circle class="y" cx="177.7" cy="354.0" r="1.4"/><circle class="m" cx="454.6" cy="86.7" r="1.4"/><circle class="b" cx="414.4" cy="122.3" r="1.4"/><circle class="c" cx="437.0" cy="96.7" r="1.4"/><circle class="b" cx="283.7" cy="252.5" r="1.4"/><circle class="c" cx="193.7" cy="334.4" r="1.4"/><circle class="c" cx="340.8" cy="193.9" r="1.4"/><circle class="m" cx="142.7" cy="387.4" r="1.4"/><circle class="y" cx="371.8" cy="169.8" r="1.4"/><circle class="c" cx="195.9" cy="331.2" r="1.4"/><circle class="c" cx="190.0" cy="341.5" r="1.4"/><circle class="m" cx="266.4" cy="270.8" r="1.4"/><circle class="m" cx="178.7" cy="354.7" r="1.4"/><circle class="c" cx="90.6" cy="441.7" r="1.4"/><circle class="m" cx="158.3" cy="379.7" r="1.4"/><circle class="b" cx="349.3" cy="188.1" r="1.4"/><circle class="y" cx="230.3" cy="288.4" r="1.4"/><circle class="c" cx="210.1" cy="320.8" r="1.4"/><circle class="m" cx="452.6" cy="90.4" r="1.4"/><circle class="b" cx="378.2" cy="161.4" r="1.4"/><circle class="m" cx="114.2" cy="417.6" r="1.4"/><circle class="m" cx="117.4" cy="404.8" r="1.4"/><circle class="c" cx="266.8" cy="267.0" r="1.4"/><circle class="y" cx="260.9" cy="268.4" r="1.4"/><circle class="b" cx="378.2" cy="173.0" r="1.4"/><circle class="m" cx="214.3" cy="316.9" r="1.4"/><circle class="b" cx="135.2" cy="394.5" r="1.4"/><circle class="y" cx="200.3" cy="327.5" r="1.4"/><circle class="y" cx="157.0" cy="377.8" r="1.4"/><circle class="c" cx="396.6" cy="142.6" r="1.4"/><circle class="y" cx="195.0" cy="338.7" r="1.4"/><circle class="y" cx="125.4" cy="408.7" r="1.4"/><circle class="c" cx="503.6" cy="40.2" r="1.4"/><circle class="m" cx="363.5" cy="170.0" r="1.4"/><circle class="m" cx="462.0" cy="94.5" r="1.4"/><circle class="c" cx="223.6" cy="313.4" r="1.4"/><circle class="y" cx="433.9" cy="108.0" r="1.4"/><circle class="y" cx="237.9" cy="300.4" r="1.4"/><circle class="y" cx="468.9" cy="75.9" r="1.4"/><circle class="m" cx="379.4" cy="155.1" r="1.4"/><circle class="y" cx="285.7" cy="250.3" r="1.4"/><circle class="c" cx="313.5" cy="223.1" r="1.4"/><circle class="m" cx="364.4" cy="171.8" r="1.4"/><circle class="c" cx="137.8" cy="395.5" r="1.4"/><circle class="c" cx="415.9" cy="122.7" r="1.4"/><circle class="y" cx="501.2" cy="36.7" r="1.4"/><circle class="m" cx="393.7" cy="136.3" r="1.4"/><circle class="c" cx="381.7" cy="158.5" r="1.4"/><circle class="m" cx="263.6" cy="266.5" r="1.4"/><circle class="y" cx="94.7" cy="428.8" r="1.4"/><circle class="b" cx="90.2" cy="450.8" r="1.4"/><circle class="y" cx="135.1" cy="396.6" r="1.4"/><circle class="b" cx="455.0" cy="84.2" r="1.4"/><circle class="c" cx="325.1" cy="210.8" r="1.4"/><circle class="m" cx="163.9" cy="372.7" r="1.4"/><circle class="y" cx="369.6" cy="169.4" r="1.4"/><circle class="b" cx="362.0" cy="175.5" r="1.4"/><circle class="y" cx="228.6" cy="307.5" r="1.4"/><circle class="b" cx="307.3" cy="239.1" r="1.4"/><circle class="m" cx="483.6" cy="62.1" r="1.4"/><circle class="b" cx="389.1" cy="155.1" r="1.4"/><circle class="b" cx="278.5" cy="255.6" r="1.4"/><circle class="b" cx="330.4" cy="204.9" r="1.4"/><circle class="m" cx="438.2" cy="94.5" r="1.4"/><circle class="c" cx="205.3" cy="325.7" r="1.4"/><circle class="m" cx="425.0" cy="118.1" r="1.4"/><circle class="m" cx="441.7" cy="97.5" r="1.4"/><circle class="y" cx="403.2" cy="134.1" r="1.4"/><circle class="m" cx="319.6" cy="213.4" r="1.4"/><circle class="y" cx="250.1" cy="282.7" r="1.4"/><circle class="b" cx="424.9" cy="119.0" r="1.4"/><circle class="b" cx="249.2" cy="285.6" r="1.4"/><circle class="c" cx="278.8" cy="253.5" r="1.4"/><circle class="m" cx="267.1" cy="264.9" r="1.4"/><circle class="y" cx="216.1" cy="298.6" r="1.4"/><circle class="m" cx="174.0" cy="359.7" r="1.4"/><circle class="b" cx="213.6" cy="315.3" r="1.4"/><circle class="m" cx="459.4" cy="82.3" r="1.4"/><circle class="y" cx="173.6" cy="359.5" r="1.4"/><circle class="m" cx="253.9" cy="277.2" r="1.4"/><circle class="c" cx="265.8" cy="264.7" r="1.4"/><circle class="m" cx="125.2" cy="400.3" r="1.4"/><circle class="c" cx="405.1" cy="127.1" r="1.4"/><circle class="y" cx="94.4" cy="431.1" r="1.4"/><circle class="m" cx="450.4" cy="88.9" r="1.4"/><circle class="c" cx="118.4" cy="400.8" r="1.4"/><circle class="y" cx="388.6" cy="142.5" r="1.4"/><circle class="b" cx="476.8" cy="70.2" r="1.4"/><circle class="b" cx="241.3" cy="294.3" r="1.4"/><circle class="b" cx="115.5" cy="442.4" r="1.4"/><circle class="y" cx="366.7" cy="157.1" r="1.4"/><circle class="m" cx="408.8" cy="124.1" r="1.4"/><circle class="m" cx="235.5" cy="300.7" r="1.4"/><circle class="m" cx="404.7" cy="127.1" r="1.4"/><circle class="m" cx="154.3" cy="371.4" r="1.4"/><circle class="b" cx="183.5" cy="355.0" r="1.4"/><circle class="y" cx="310.5" cy="232.1" r="1.4"/><circle class="c" cx="154.2" cy="381.6" r="1.4"/><circle class="m" cx="380.6" cy="156.0" r="1.4"/><circle class="m" cx="151.0" cy="385.6" r="1.4"/><circle class="y" cx="388.2" cy="146.5" r="1.4"/><circle class="c" cx="161.2" cy="371.3" r="1.4"/><circle class="m" cx="272.4" cy="259.7" r="1.4"/><circle class="c" cx="331.8" cy="204.4" r="1.4"/><circle class="m" cx="335.6" cy="205.4" r="1.4"/><circle class="b" cx="203.4" cy="327.0" r="1.4"/><circle class="m" cx="177.0" cy="358.3" r="1.4"/><circle class="c" cx="286.9" cy="240.0" r="1.4"/><circle class="c" cx="380.3" cy="160.5" r="1.4"/><circle class="y" cx="189.7" cy="341.0" r="1.4"/><circle class="b" cx="193.8" cy="335.7" r="1.4"/><circle class="y" cx="291.9" cy="237.2" r="1.4"/><circle class="b" cx="292.5" cy="249.3" r="1.4"/><circle class="b" cx="486.3" cy="54.9" r="1.4"/><circle class="c" cx="282.0" cy="250.4" r="1.4"/><circle class="c" cx="326.0" cy="210.5" r="1.4"/><circle class="c" cx="445.5" cy="86.3" r="1.4"/><circle class="c" cx="111.0" cy="416.9" r="1.4"/><circle class="m" cx="276.3" cy="256.1" r="1.4"/><circle class="c" cx="316.5" cy="222.8" r="1.4"/><circle class="m" cx="469.9" cy="70.3" r="1.4"/><circle class="y" cx="395.6" cy="138.2" r="1.4"/><circle class="y" cx="452.5" cy="81.5" r="1.4"/><circle class="c" cx="217.2" cy="315.7" r="1.4"/><circle class="b" cx="95.8" cy="434.1" r="1.4"/><circle class="m" cx="354.5" cy="179.1" r="1.4"/><circle class="m" cx="456.8" cy="77.8" r="1.4"/><circle class="y" cx="165.6" cy="346.7" r="1.4"/><circle class="c" cx="155.9" cy="372.1" r="1.4"/><circle class="c" cx="182.3" cy="351.7" r="1.4"/><circle class="c" cx="318.9" cy="228.9" r="1.4"/><circle class="b" cx="319.7" cy="216.4" r="1.4"/><circle class="m" cx="370.2" cy="167.2" r="1.4"/><circle class="c" cx="491.7" cy="63.2" r="1.4"/><circle class="m" cx="403.9" cy="139.1" r="1.4"/><circle class="y" cx="171.0" cy="352.0" r="1.4"/><circle class="y" cx="489.5" cy="43.6" r="1.4"/><circle class="c" cx="252.1" cy="283.6" r="1.4"/><circle class="c" cx="179.9" cy="350.7" r="1.4"/><circle class="b" cx="241.9" cy="293.4" r="1.4"/><circle class="y" cx="199.4" cy="338.1" r="1.4"/><circle class="y" cx="473.5" cy="64.6" r="1.4"/><circle class="y" cx="442.4" cy="102.1" r="1.4"/><circle class="y" cx="289.2" cy="247.1" r="1.4"/><circle class="y" cx="415.4" cy="110.6" r="1.4"/><circle class="m" cx="370.8" cy="166.2" r="1.4"/><circle class="b" cx="318.8" cy="217.7" r="1.4"/><circle class="m" cx="424.8" cy="116.0" r="1.4"/><circle class="b" cx="383.4" cy="159.0" r="1.4"/><circle class="y" cx="145.8" cy="374.3" r="1.4"/><circle class="y" cx="425.2" cy="109.5" r="1.4"/><circle class="b" cx="91.0" cy="444.6" r="1.4"/><circle class="b" cx="254.2" cy="280.1" r="1.4"/><circle class="m" cx="300.3" cy="234.9" r="1.4"/><circle class="y" cx="396.2" cy="134.7" r="1.4"/><circle class="b" cx="465.7" cy="89.9" r="1.4"/><circle class="y" cx="187.8" cy="338.2" r="1.4"/><circle class="c" cx="259.2" cy="279.9" r="1.4"/><circle class="c" cx="142.1" cy="393.9" r="1.4"/><circle class="m" cx="244.1" cy="295.3" r="1.4"/><circle class="c" cx="151.8" cy="380.3" r="1.4"/><circle class="m" cx="97.2" cy="431.6" r="1.4"/><circle class="m" cx="388.7" cy="147.4" r="1.4"/><circle class="m" cx="198.9" cy="330.7" r="1.4"/><circle class="y" cx="187.0" cy="341.2" r="1.4"/><circle class="c" cx="246.8" cy="284.0" r="1.4"/><circle class="m" cx="469.0" cy="64.0" r="1.4"/><circle class="y" cx="289.9" cy="242.9" r="1.4"/><circle class="m" cx="308.4" cy="228.8" r="1.4"/><circle class="y" cx="324.4" cy="189.7" r="1.4"/><circle class="c" cx="139.9" cy="386.0" r="1.4"/><circle class="b" cx="207.6" cy="326.8" r="1.4"/><circle class="m" cx="273.6" cy="260.2" r="1.4"/><circle class="c" cx="220.1" cy="315.8" r="1.4"/><circle class="m" cx="417.1" cy="117.7" r="1.4"/><circle class="c" cx="353.8" cy="184.7" r="1.4"/><circle class="m" cx="446.9" cy="91.2" r="1.4"/><circle class="b" cx="414.6" cy="132.5" r="1.4"/><circle class="c" cx="438.6" cy="107.4" r="1.4"/><circle class="y" cx="231.1" cy="295.3" r="1.4"/><circle class="y" cx="202.5" cy="331.0" r="1.4"/><circle class="y" cx="274.9" cy="258.1" r="1.4"/><circle class="c" cx="155.5" cy="367.8" r="1.4"/><circle class="m" cx="107.3" cy="414.3" r="1.4"/><circle class="y" cx="241.0" cy="288.9" r="1.4"/><circle class="c" cx="260.5" cy="274.3" r="1.4"/><circle class="m" cx="218.1" cy="317.7" r="1.4"/><circle class="c" cx="337.0" cy="201.8" r="1.4"/><circle class="c" cx="236.4" cy="296.2" r="1.4"/><circle class="b" cx="300.4" cy="239.4" r="1.4"/><circle class="b" cx="475.9" cy="74.9" r="1.4"/><circle class="m" cx="444.5" cy="104.6" r="1.4"/><circle class="m" cx="138.7" cy="397.0" r="1.4"/><circle class="b" cx="192.5" cy="343.6" r="1.4"/><circle class="m" cx="430.8" cy="111.1" r="1.4"/><circle class="m" cx="176.8" cy="354.9" r="1.4"/><circle class="y" cx="472.6" cy="54.9" r="1.4"/><circle class="m" cx="173.1" cy="354.2" r="1.4"/><circle class="y" cx="413.5" cy="130.6" r="1.4"/><circle class="y" cx="298.5" cy="243.8" r="1.4"/><circle class="b" cx="250.3" cy="284.3" r="1.4"/><circle class="b" cx="301.3" cy="238.3" r="1.4"/><circle class="y" cx="233.1" cy="303.4" r="1.4"/><circle class="m" cx="238.7" cy="290.3" r="1.4"/><circle class="c" cx="389.5" cy="144.2" r="1.4"/><circle class="b" cx="357.7" cy="182.6" r="1.4"/><circle class="m" cx="338.8" cy="193.4" r="1.4"/><circle class="y" cx="382.3" cy="150.0" r="1.4"/><circle class="b" cx="242.1" cy="290.0" r="1.4"/><circle class="c" cx="344.6" cy="186.7" r="1.4"/><circle class="b" cx="142.2" cy="391.2" r="1.4"/><circle class="y" cx="378.9" cy="155.8" r="1.4"/><circle class="m" cx="117.3" cy="407.3" r="1.4"/><circle class="m" cx="459.2" cy="80.7" r="1.4"/><circle class="c" cx="385.9" cy="148.9" r="1.4"/><circle class="b" cx="390.1" cy="148.0" r="1.4"/><circle class="c" cx="130.5" cy="397.3" r="1.4"/><circle class="y" cx="282.8" cy="253.3" r="1.4"/><circle class="b" cx="346.9" cy="194.1" r="1.4"/><circle class="y" cx="166.7" cy="356.3" r="1.4"/><circle class="y" cx="492.9" cy="38.9" r="1.4"/><circle class="m" cx="428.3" cy="103.0" r="1.4"/><circle class="c" cx="214.8" cy="315.7" r="1.4"/><circle class="b" cx="378.2" cy="156.7" r="1.4"/><circle class="m" cx="114.5" cy="415.0" r="1.4"/><circle class="b" cx="387.4" cy="162.1" r="1.4"/><circle class="y" cx="200.4" cy="339.6" r="1.4"/><circle class="y" cx="254.8" cy="281.8" r="1.4"/><circle class="b" cx="163.7" cy="365.7" r="1.4"/><circle class="b" cx="475.0" cy="72.9" r="1.4"/><circle class="y" cx="409.5" cy="127.5" r="1.4"/><circle class="c" cx="260.7" cy="271.3" r="1.4"/><circle class="m" cx="88.3" cy="436.3" r="1.4"/><circle class="c" cx="421.6" cy="119.0" r="1.4"/><circle class="m" cx="431.0" cy="99.8" r="1.4"/><circle class="c" cx="124.1" cy="404.9" r="1.4"/><circle class="m" cx="183.8" cy="350.4" r="1.4"/><circle class="m" cx="108.3" cy="425.0" r="1.4"/><circle class="b" cx="488.9" cy="46.2" r="1.4"/><circle class="b" cx="99.3" cy="424.8" r="1.4"/><circle class="m" cx="191.4" cy="337.5" r="1.4"/><circle class="m" cx="373.0" cy="160.2" r="1.4"/><circle class="b" cx="380.9" cy="163.8" r="1.4"/><circle class="y" cx="386.7" cy="142.1" r="1.4"/><circle class="b" cx="331.7" cy="208.6" r="1.4"/><circle class="m" cx="287.9" cy="246.4" r="1.4"/><circle class="m" cx="381.3" cy="156.4" r="1.4"/><circle class="y" cx="316.6" cy="218.8" r="1.4"/><circle class="c" cx="206.5" cy="327.8" r="1.4"/><circle class="b" cx="192.9" cy="354.3" r="1.4"/><circle class="c" cx="112.6" cy="420.3" r="1.4"/><circle class="c" cx="255.1" cy="280.5" r="1.4"/><circle class="y" cx="158.1" cy="373.7" r="1.4"/><circle class="c" cx="85.7" cy="441.9" r="1.4"/><circle class="c" cx="267.4" cy="264.8" r="1.4"/><circle class="m" cx="401.3" cy="137.6" r="1.4"/><circle class="m" cx="382.3" cy="147.8" r="1.4"/><circle class="c" cx="131.3" cy="405.2" r="1.4"/><circle class="y" cx="101.7" cy="430.9" r="1.4"/><circle class="b" cx="288.0" cy="252.7" r="1.4"/><circle class="y" cx="357.7" cy="182.8" r="1.4"/><circle class="y" cx="127.1" cy="410.2" r="1.4"/><circle class="m" cx="456.1" cy="81.4" r="1.4"/><circle class="y" cx="315.3" cy="218.2" r="1.4"/><circle class="b" cx="125.6" cy="414.4" r="1.4"/><circle class="b" cx="244.1" cy="291.8" r="1.4"/><circle class="y" cx="264.6" cy="261.5" r="1.4"/><circle class="y" cx="220.5" cy="307.6" r="1.4"/><circle class="m" cx="374.1" cy="163.2" r="1.4"/><circle class="c" cx="418.3" cy="117.7" r="1.4"/><circle class="c" cx="119.3" cy="417.2" r="1.4"/><circle class="b" cx="208.4" cy="328.7" r="1.4"/><circle class="b" cx="350.2" cy="197.3" r="1.4"/><circle class="b" cx="250.9" cy="290.3" r="1.4"/><circle class="b" cx="99.1" cy="434.0" r="1.4"/><circle class="y" cx="196.4" cy="329.6" r="1.4"/><circle class="m" cx="473.9" cy="59.3" r="1.4"/><circle class="c" cx="188.5" cy="341.0" r="1.4"/><circle class="c" cx="303.5" cy="236.3" r="1.4"/><circle class="y" cx="430.7" cy="108.7" r="1.4"/><circle class="c" cx="266.4" cy="267.4" r="1.4"/><circle class="b" cx="434.5" cy="109.7" r="1.4"/><circle class="m" cx="413.5" cy="119.0" r="1.4"/><circle class="y" cx="430.8" cy="105.3" r="1.4"/><circle class="m" cx="431.3" cy="99.9" r="1.4"/><circle class="b" cx="287.4" cy="248.6" r="1.4"/><circle class="m" cx="233.9" cy="305.3" r="1.4"/><circle class="b" cx="266.7" cy="268.5" r="1.4"/><circle class="b" cx="155.9" cy="391.6" r="1.4"/><circle class="c" cx="104.5" cy="423.5" r="1.4"/><circle class="c" cx="216.9" cy="311.0" r="1.4"/><circle class="c" cx="123.6" cy="408.5" r="1.4"/><circle class="b" cx="495.6" cy="55.3" r="1.4"/><circle class="y" cx="125.6" cy="402.8" r="1.4"/><circle class="c" cx="95.4" cy="435.7" r="1.4"/><circle class="b" cx="350.1" cy="200.9" r="1.4"/><circle class="y" cx="404.2" cy="135.6" r="1.4"/><circle class="m" cx="448.0" cy="97.2" r="1.4"/><circle class="b" cx="238.6" cy="294.0" r="1.4"/><circle class="c" cx="135.0" cy="399.2" r="1.4"/><circle class="y" cx="257.3" cy="273.6" r="1.4"/><circle class="y" cx="246.8" cy="288.8" r="1.4"/><circle class="m" cx="263.0" cy="273.0" r="1.4"/><circle class="b" cx="205.0" cy="328.9" r="1.4"/><circle class="m" cx="489.2" cy="47.8" r="1.4"/><circle class="m" cx="412.2" cy="127.9" r="1.4"/><circle class="y" cx="451.8" cy="83.8" r="1.4"/><circle class="y" cx="137.5" cy="396.3" r="1.4"/><circle class="y" cx="406.7" cy="127.2" r="1.4"/><circle class="y" cx="347.8" cy="186.4" r="1.4"/><circle class="c" cx="470.9" cy="68.5" r="1.4"/><circle class="b" cx="493.0" cy="54.1" r="1.4"/><circle class="y" cx="498.9" cy="35.2" r="1.4"/><circle class="c" cx="259.9" cy="276.0" r="1.4"/><circle class="y" cx="101.5" cy="426.1" r="1.4"/><circle class="y" cx="184.9" cy="339.7" r="1.4"/><circle class="b" cx="179.3" cy="358.1" r="1.4"/><circle class="y" cx="339.4" cy="196.8" r="1.4"/><circle class="b" cx="164.2" cy="366.4" r="1.4"/><circle class="m" cx="120.3" cy="402.1" r="1.4"/><circle class="b" cx="308.6" cy="229.0" r="1.4"/><circle class="m" cx="171.1" cy="362.4" r="1.4"/><circle class="c" cx="173.3" cy="366.2" r="1.4"/><circle class="b" cx="198.8" cy="340.0" r="1.4"/><circle class="m" cx="118.9" cy="407.5" r="1.4"/><circle class="b" cx="282.3" cy="257.6" r="1.4"/><circle class="y" cx="456.9" cy="77.3" r="1.4"/><circle class="b" cx="487.2" cy="78.2" r="1.4"/><circle class="y" cx="164.9" cy="365.2" r="1.4"/><circle class="c" cx="251.7" cy="273.8" r="1.4"/><circle class="y" cx="119.6" cy="408.8" r="1.4"/><circle class="b" cx="502.7" cy="42.6" r="1.4"/><circle class="b" cx="323.2" cy="228.3" r="1.4"/><circle class="y" cx="128.3" cy="405.4" r="1.4"/><circle class="m" cx="389.6" cy="150.2" r="1.4"/><circle class="c" cx="117.3" cy="421.3" r="1.4"/><circle class="y" cx="227.8" cy="292.5" r="1.4"/><circle class="y" cx="236.6" cy="296.1" r="1.4"/><circle class="y" cx="230.1" cy="304.5" r="1.4"/><circle class="y" cx="356.8" cy="184.4" r="1.4"/><circle class="c" cx="382.1" cy="158.7" r="1.4"/><circle class="m" cx="394.0" cy="145.2" r="1.4"/><circle class="m" cx="359.5" cy="176.1" r="1.4"/><circle class="y" cx="118.2" cy="404.7" r="1.4"/><circle class="y" cx="488.9" cy="48.1" r="1.4"/><circle class="y" cx="89.7" cy="438.4" r="1.4"/><circle class="c" cx="500.6" cy="39.4" r="1.4"/><circle class="m" cx="297.3" cy="235.3" r="1.4"/><circle class="m" cx="165.1" cy="368.8" r="1.4"/><circle class="y" cx="193.7" cy="341.9" r="1.4"/><circle class="y" cx="263.1" cy="266.6" r="1.4"/><circle class="b" cx="421.2" cy="121.8" r="1.4"/><circle class="y" cx="295.0" cy="215.7" r="1.4"/><circle class="y" cx="496.5" cy="45.1" r="1.4"/><circle class="b" cx="484.2" cy="59.3" r="1.4"/><circle class="y" cx="325.9" cy="200.5" r="1.4"/><circle class="c" cx="344.6" cy="194.2" r="1.4"/><circle class="c" cx="371.1" cy="163.3" r="1.4"/><circle class="m" cx="407.3" cy="128.6" r="1.4"/><circle class="c" cx="298.2" cy="235.9" r="1.4"/><circle class="m" cx="133.4" cy="399.5" r="1.4"/><circle class="y" cx="166.4" cy="354.7" r="1.4"/><circle class="m" cx="206.9" cy="320.9" r="1.4"/><circle class="y" cx="462.0" cy="70.4" r="1.4"/><circle class="c" cx="442.4" cy="88.0" r="1.4"/><circle class="c" cx="344.9" cy="185.4" r="1.4"/><circle class="y" cx="300.7" cy="235.0" r="1.4"/><circle class="b" cx="283.4" cy="254.8" r="1.4"/><circle class="m" cx="282.8" cy="251.1" r="1.4"/><circle class="y" cx="384.6" cy="146.8" r="1.4"/><circle class="y" cx="427.0" cy="111.8" r="1.4"/><circle class="b" cx="263.0" cy="268.7" r="1.4"/><circle class="y" cx="329.5" cy="204.0" r="1.4"/><circle class="m" cx="451.0" cy="83.4" r="1.4"/><circle class="c" cx="268.7" cy="260.0" r="1.4"/><circle class="c" cx="162.1" cy="363.5" r="1.4"/><circle class="b" cx="496.7" cy="53.8" r="1.4"/><circle class="m" cx="218.7" cy="314.5" r="1.4"/><circle class="c" cx="480.6" cy="55.0" r="1.4"/><circle class="y" cx="313.7" cy="220.4" r="1.4"/><circle class="b" cx="167.4" cy="370.5" r="1.4"/><circle class="m" cx="424.9" cy="108.9" r="1.4"/><circle class="m" cx="422.9" cy="107.9" r="1.4"/><circle class="c" cx="493.2" cy="53.9" r="1.4"/><circle class="c" cx="108.5" cy="420.4" r="1.4"/><circle class="c" cx="181.6" cy="352.4" r="1.4"/><circle class="c" cx="394.7" cy="148.3" r="1.4"/><circle class="b" cx="154.7" cy="399.5" r="1.4"/><circle class="m" cx="385.5" cy="150.0" r="1.4"/><circle class="c" cx="138.6" cy="383.9" r="1.4"/><circle class="b" cx="136.7" cy="396.8" r="1.4"/><circle class="y" cx="183.9" cy="351.5" r="1.4"/><circle class="b" cx="421.5" cy="125.0" r="1.4"/><circle class="c" cx="497.5" cy="43.9" r="1.4"/><circle class="b" cx="225.2" cy="308.8" r="1.4"/><circle class="c" cx="292.7" cy="239.0" r="1.4"/><circle class="b" cx="261.3" cy="266.4" r="1.4"/><circle class="b" cx="230.5" cy="329.2" r="1.4"/><circle class="c" cx="274.5" cy="259.2" r="1.4"/><circle class="b" cx="451.7" cy="92.0" r="1.4"/><circle class="m" cx="201.1" cy="327.8" r="1.4"/><circle class="b" cx="487.5" cy="63.7" r="1.4"/><circle class="b" cx="99.0" cy="436.6" r="1.4"/><circle class="c" cx="195.0" cy="339.7" r="1.4"/><circle class="c" cx="226.2" cy="303.7" r="1.4"/><circle class="y" cx="482.1" cy="55.4" r="1.4"/><circle class="c" cx="225.7" cy="298.5" r="1.4"/><circle class="b" cx="131.9" cy="404.6" r="1.4"/><circle class="y" cx="476.5" cy="55.9" r="1.4"/><circle class="c" cx="372.3" cy="156.8" r="1.4"/><circle class="m" cx="276.6" cy="256.1" r="1.4"/><circle class="m" cx="454.3" cy="78.8" r="1.4"/><circle class="y" cx="291.1" cy="237.0" r="1.4"/><circle class="c" cx="111.9" cy="418.1" r="1.4"/><circle class="y" cx="389.9" cy="149.6" r="1.4"/><circle class="m" cx="491.1" cy="50.6" r="1.4"/><circle class="b" cx="392.3" cy="144.0" r="1.4"/><circle class="b" cx="454.0" cy="86.2" r="1.4"/><circle class="c" cx="121.9" cy="409.1" r="1.4"/><circle class="b" cx="271.3" cy="262.3" r="1.4"/><circle class="m" cx="326.8" cy="203.7" r="1.4"/><circle class="m" cx="257.9" cy="277.9" r="1.4"/><circle class="b" cx="221.9" cy="318.2" r="1.4"/><circle class="c" cx="276.7" cy="249.3" r="1.4"/><circle class="c" cx="330.8" cy="202.1" r="1.4"/><circle class="y" cx="502.9" cy="27.0" r="1.4"/><circle class="m" cx="462.8" cy="72.5" r="1.4"/><circle class="m" cx="115.7" cy="418.1" r="1.4"/><circle class="b" cx="408.1" cy="134.2" r="1.4"/><circle class="m" cx="193.8" cy="334.2" r="1.4"/><circle class="b" cx="130.4" cy="404.8" r="1.4"/><circle class="b" cx="318.8" cy="218.0" r="1.4"/><circle class="m" cx="390.8" cy="142.0" r="1.4"/><circle class="c" cx="461.4" cy="77.9" r="1.4"/><circle class="m" cx="102.6" cy="423.4" r="1.4"/><circle class="c" cx="485.7" cy="51.8" r="1.4"/><circle class="b" cx="170.8" cy="369.3" r="1.4"/><circle class="b" cx="184.1" cy="377.3" r="1.4"/><circle class="m" cx="294.0" cy="228.1" r="1.4"/><circle class="c" cx="442.8" cy="94.0" r="1.4"/><circle class="m" cx="486.1" cy="47.9" r="1.4"/><circle class="b" cx="437.0" cy="103.1" r="1.4"/><circle class="y" cx="262.1" cy="269.0" r="1.4"/><circle class="b" cx="362.6" cy="176.2" r="1.4"/><circle class="c" cx="396.4" cy="145.4" r="1.4"/><circle class="y" cx="476.8" cy="66.8" r="1.4"/><circle class="b" cx="353.1" cy="187.0" r="1.4"/><circle class="m" cx="425.0" cy="117.5" r="1.4"/><circle class="c" cx="258.7" cy="277.6" r="1.4"/><circle class="y" cx="495.5" cy="38.6" r="1.4"/><circle class="y" cx="416.5" cy="123.4" r="1.4"/><circle class="c" cx="450.0" cy="90.3" r="1.4"/><circle class="c" cx="438.7" cy="96.4" r="1.4"/><circle class="m" cx="453.6" cy="88.2" r="1.4"/><circle class="c" cx="254.0" cy="283.7" r="1.4"/><circle class="b" cx="458.5" cy="85.4" r="1.4"/><circle class="y" cx="429.6" cy="108.1" r="1.4"/><circle class="c" cx="502.6" cy="32.6" r="1.4"/><circle class="y" cx="288.3" cy="236.1" r="1.4"/><circle class="y" cx="207.1" cy="326.4" r="1.4"/><circle class="b" cx="171.9" cy="360.9" r="1.4"/><circle class="b" cx="197.4" cy="334.0" r="1.4"/><circle class="b" cx="90.8" cy="444.5" r="1.4"/><circle class="b" cx="183.5" cy="354.9" r="1.4"/><circle class="y" cx="382.6" cy="153.0" r="1.4"/><circle class="c" cx="375.2" cy="162.8" r="1.4"/><circle class="y" cx="153.4" cy="371.1" r="1.4"/><circle class="m" cx="495.5" cy="39.1" r="1.4"/><circle class="c" cx="113.2" cy="417.4" r="1.4"/><circle class="y" cx="228.6" cy="296.7" r="1.4"/><circle class="b" cx="339.0" cy="197.9" r="1.4"/><circle class="y" cx="328.9" cy="204.3" r="1.4"/><circle class="c" cx="277.6" cy="258.4" r="1.4"/><circle class="m" cx="187.8" cy="342.1" r="1.4"/><circle class="y" cx="102.3" cy="428.2" r="1.4"/><circle class="m" cx="424.5" cy="120.4" r="1.4"/><circle class="b" cx="215.1" cy="320.7" r="1.4"/><circle class="m" cx="144.3" cy="387.7" r="1.4"/><circle class="c" cx="151.5" cy="376.1" r="1.4"/><circle class="c" cx="111.2" cy="421.6" r="1.4"/><circle class="c" cx="133.4" cy="397.4" r="1.4"/><circle class="m" cx="148.6" cy="369.1" r="1.4"/><circle class="b" cx="274.7" cy="265.9" r="1.4"/><circle class="m" cx="473.9" cy="61.6" r="1.4"/><circle class="c" cx="329.8" cy="201.6" r="1.4"/><circle class="c" cx="255.7" cy="280.0" r="1.4"/><circle class="c" cx="188.4" cy="343.5" r="1.4"/><circle class="b" cx="176.6" cy="360.9" r="1.4"/><circle class="c" cx="96.9" cy="426.1" r="1.4"/><circle class="y" cx="331.5" cy="209.0" r="1.4"/><circle class="y" cx="302.7" cy="228.0" r="1.4"/><circle class="b" cx="159.3" cy="383.5" r="1.4"/><circle class="c" cx="115.8" cy="411.9" r="1.4"/><circle class="m" cx="439.5" cy="97.3" r="1.4"/><circle class="b" cx="226.5" cy="313.8" r="1.4"/><circle class="c" cx="361.5" cy="161.8" r="1.4"/><circle class="b" cx="211.8" cy="320.7" r="1.4"/><circle class="c" cx="357.1" cy="180.7" r="1.4"/><circle class="y" cx="348.7" cy="187.7" r="1.4"/><circle class="c" cx="454.3" cy="85.1" r="1.4"/><circle class="b" cx="100.7" cy="421.7" r="1.4"/><circle class="c" cx="491.8" cy="46.0" r="1.4"/><circle class="b" cx="279.3" cy="266.5" r="1.4"/><circle class="c" cx="376.0" cy="158.7" r="1.4"/><circle class="y" cx="167.9" cy="364.0" r="1.4"/><circle class="m" cx="376.6" cy="159.6" r="1.4"/><circle class="m" cx="200.5" cy="328.1" r="1.4"/><circle class="m" cx="356.7" cy="178.6" r="1.4"/><circle class="m" cx="417.7" cy="110.1" r="1.4"/><circle class="c" cx="423.7" cy="119.8" r="1.4"/><circle class="m" cx="273.5" cy="257.3" r="1.4"/><circle class="m" cx="292.3" cy="240.9" r="1.4"/><circle class="b" cx="419.5" cy="122.5" r="1.4"/><circle class="c" cx="227.0" cy="312.7" r="1.4"/><circle class="m" cx="364.6" cy="169.2" r="1.4"/><circle class="b" cx="120.9" cy="411.7" r="1.4"/><circle class="b" cx="230.5" cy="309.3" r="1.4"/><circle class="b" cx="179.1" cy="356.6" r="1.4"/><circle class="m" cx="135.5" cy="395.8" r="1.4"/><circle class="y" cx="202.8" cy="331.5" r="1.4"/><circle class="m" cx="424.0" cy="115.3" r="1.4"/><circle class="b" cx="308.4" cy="240.6" r="1.4"/><circle class="y" cx="255.5" cy="277.2" r="1.4"/><circle class="y" cx="344.0" cy="194.4" r="1.4"/><circle class="b" cx="387.6" cy="154.1" r="1.4"/><circle class="y" cx="436.3" cy="99.2" r="1.4"/><circle class="c" cx="151.3" cy="383.3" r="1.4"/><circle class="m" cx="288.5" cy="249.8" r="1.4"/><circle class="y" cx="136.1" cy="385.5" r="1.4"/><circle class="y" cx="492.4" cy="39.1" r="1.4"/><circle class="m" cx="97.8" cy="439.6" r="1.4"/><circle class="y" cx="420.6" cy="115.7" r="1.4"/><circle class="c" cx="283.9" cy="249.8" r="1.4"/><circle class="c" cx="311.1" cy="220.1" r="1.4"/><circle class="y" cx="336.6" cy="196.0" r="1.4"/><circle class="c" cx="409.4" cy="131.3" r="1.4"/><circle class="m" cx="394.9" cy="145.9" r="1.4"/><circle class="b" cx="369.3" cy="165.0" r="1.4"/><circle class="b" cx="168.2" cy="364.2" r="1.4"/><circle class="b" cx="142.9" cy="397.2" r="1.4"/><circle class="m" cx="312.0" cy="226.0" r="1.4"/><circle class="b" cx="448.5" cy="90.9" r="1.4"/><circle class="y" cx="379.5" cy="164.4" r="1.4"/><circle class="y" cx="259.0" cy="275.5" r="1.4"/><circle class="y" cx="105.4" cy="419.4" r="1.4"/><circle class="c" cx="139.6" cy="392.7" r="1.4"/><circle class="c" cx="113.6" cy="410.6" r="1.4"/><circle class="y" cx="480.7" cy="52.7" r="1.4"/><circle class="y" cx="488.6" cy="44.5" r="1.4"/><circle class="b" cx="86.7" cy="446.9" r="1.4"/><circle class="m" cx="473.8" cy="61.4" r="1.4"/><circle class="b" cx="237.6" cy="291.9" r="1.4"/><circle class="b" cx="336.8" cy="197.3" r="1.4"/><circle class="m" cx="385.8" cy="149.0" r="1.4"/><circle class="m" cx="124.0" cy="409.4" r="1.4"/><circle class="m" cx="490.5" cy="55.3" r="1.4"/><circle class="b" cx="410.8" cy="130.2" r="1.4"/><circle class="c" cx="272.8" cy="259.3" r="1.4"/><circle class="c" cx="107.5" cy="416.4" r="1.4"/><circle class="m" cx="199.8" cy="333.7" r="1.4"/><circle class="b" cx="381.1" cy="160.4" r="1.4"/><circle class="b" cx="135.8" cy="398.3" r="1.4"/><circle class="c" cx="188.6" cy="346.0" r="1.4"/><circle class="m" cx="199.2" cy="337.4" r="1.4"/><circle class="m" cx="416.0" cy="127.0" r="1.4"/><circle class="c" cx="382.8" cy="154.5" r="1.4"/><circle class="b" cx="491.2" cy="46.9" r="1.4"/><circle class="c" cx="365.9" cy="184.2" r="1.4"/><circle class="c" cx="296.5" cy="241.8" r="1.4"/><circle class="c" cx="255.2" cy="274.0" r="1.4"/><circle class="m" cx="483.3" cy="54.6" r="1.4"/><circle class="m" cx="242.0" cy="297.6" r="1.4"/><circle class="b" cx="315.0" cy="219.8" r="1.4"/><circle class="m" cx="166.4" cy="365.6" r="1.4"/><circle class="c" cx="265.0" cy="268.4" r="1.4"/><circle class="c" cx="112.5" cy="424.7" r="1.4"/><circle class="y" cx="400.2" cy="130.9" r="1.4"/><circle class="m" cx="110.0" cy="415.1" r="1.4"/><circle class="y" cx="428.8" cy="107.8" r="1.4"/><circle class="m" cx="126.3" cy="406.4" r="1.4"/><circle class="c" cx="498.7" cy="49.4" r="1.4"/><circle class="m" cx="286.3" cy="245.1" r="1.4"/><circle class="c" cx="156.8" cy="371.4" r="1.4"/><circle class="y" cx="221.8" cy="304.7" r="1.4"/><circle class="y" cx="321.0" cy="208.6" r="1.4"/><circle class="c" cx="381.1" cy="150.4" r="1.4"/><circle class="b" cx="408.4" cy="173.2" r="1.4"/><circle class="m" cx="498.3" cy="47.2" r="1.4"/><circle class="m" cx="216.3" cy="319.7" r="1.4"/><circle class="m" cx="235.1" cy="297.2" r="1.4"/><circle class="y" cx="447.8" cy="92.0" r="1.4"/><circle class="b" cx="398.2" cy="138.3" r="1.4"/><circle class="b" cx="199.6" cy="330.2" r="1.4"/><circle class="m" cx="230.4" cy="299.5" r="1.4"/><circle class="c" cx="333.0" cy="205.2" r="1.4"/><circle class="c" cx="491.4" cy="50.2" r="1.4"/><circle class="m" cx="442.9" cy="89.3" r="1.4"/><circle class="c" cx="210.0" cy="319.4" r="1.4"/><circle class="y" cx="135.5" cy="385.9" r="1.4"/><circle class="m" cx="405.0" cy="130.1" r="1.4"/><circle class="b" cx="488.3" cy="57.5" r="1.4"/><circle class="b" cx="352.8" cy="187.3" r="1.4"/><circle class="y" cx="193.0" cy="342.5" r="1.4"/><circle class="m" cx="148.5" cy="382.3" r="1.4"/><circle class="b" cx="483.2" cy="58.9" r="1.4"/><circle class="c" cx="154.4" cy="375.6" r="1.4"/><circle class="y" cx="395.9" cy="136.6" r="1.4"/><circle class="c" cx="97.7" cy="421.6" r="1.4"/><circle class="b" cx="497.6" cy="55.3" r="1.4"/><circle class="c" cx="97.9" cy="436.7" r="1.4"/><circle class="c" cx="147.1" cy="379.7" r="1.4"/><circle class="y" cx="433.2" cy="100.3" r="1.4"/><circle class="c" cx="331.6" cy="203.8" r="1.4"/><circle class="b" cx="117.8" cy="431.8" r="1.4"/><circle class="b" cx="436.3" cy="90.2" r="1.4"/><circle class="b" cx="174.3" cy="362.6" r="1.4"/><circle class="m" cx="435.9" cy="102.3" r="1.4"/><circle class="m" cx="142.0" cy="386.7" r="1.4"/><circle class="y" cx="209.6" cy="313.5" r="1.4"/><circle class="y" cx="286.6" cy="247.5" r="1.4"/><circle class="c" cx="428.2" cy="104.9" r="1.4"/><circle class="m" cx="446.8" cy="90.6" r="1.4"/><circle class="y" cx="488.6" cy="46.3" r="1.4"/><circle class="m" cx="93.7" cy="432.2" r="1.4"/><circle class="b" cx="298.5" cy="238.8" r="1.4"/><circle class="c" cx="457.6" cy="86.8" r="1.4"/><circle class="c" cx="156.3" cy="372.3" r="1.4"/><circle class="y" cx="168.2" cy="363.3" r="1.4"/><circle class="m" cx="399.0" cy="140.8" r="1.4"/><circle class="b" cx="381.7" cy="157.3" r="1.4"/><circle class="b" cx="501.4" cy="42.0" r="1.4"/><circle class="y" cx="341.7" cy="186.2" r="1.4"/><circle class="c" cx="229.4" cy="301.2" r="1.4"/><circle class="b" cx="348.4" cy="199.2" r="1.4"/><circle class="b" cx="284.1" cy="248.6" r="1.4"/><circle class="m" cx="245.9" cy="286.6" r="1.4"/><circle class="b" cx="119.5" cy="437.0" r="1.4"/><circle class="y" cx="253.9" cy="280.7" r="1.4"/><circle class="m" cx="479.0" cy="57.1" r="1.4"/><circle class="y" cx="89.0" cy="440.5" r="1.4"/><circle class="m" cx="343.7" cy="191.6" r="1.4"/><circle class="m" cx="126.3" cy="406.2" r="1.4"/><circle class="y" cx="245.4" cy="289.0" r="1.4"/><circle class="y" cx="350.0" cy="180.7" r="1.4"/><circle class="c" cx="303.0" cy="233.7" r="1.4"/><circle class="c" cx="299.0" cy="236.1" r="1.4"/><circle class="b" cx="460.9" cy="84.6" r="1.4"/><circle class="y" cx="356.6" cy="164.2" r="1.4"/><circle class="m" cx="164.8" cy="364.4" r="1.4"/><circle class="m" cx="153.0" cy="373.8" r="1.4"/><circle class="b" cx="264.3" cy="270.1" r="1.4"/><circle class="c" cx="197.7" cy="334.1" r="1.4"/><circle class="y" cx="451.3" cy="93.2" r="1.4"/><circle class="c" cx="469.1" cy="67.9" r="1.4"/><circle class="c" cx="323.1" cy="207.0" r="1.4"/><circle class="c" cx="147.4" cy="379.8" r="1.4"/><circle class="m" cx="180.7" cy="347.4" r="1.4"/><circle class="m" cx="346.9" cy="183.7" r="1.4"/><circle class="b" cx="177.4" cy="354.3" r="1.4"/><circle class="m" cx="361.4" cy="175.0" r="1.4"/><circle class="b" cx="226.1" cy="304.0" r="1.4"/><circle class="b" cx="363.7" cy="195.6" r="1.4"/><circle class="c" cx="277.9" cy="251.5" r="1.4"/><circle class="b" cx="488.5" cy="54.5" r="1.4"/><circle class="b" cx="319.1" cy="212.9" r="1.4"/><circle class="c" cx="388.4" cy="148.5" r="1.4"/><circle class="m" cx="244.1" cy="293.8" r="1.4"/><circle class="b" cx="398.7" cy="140.7" r="1.4"/><circle class="b" cx="203.9" cy="329.3" r="1.4"/><circle class="y" cx="87.5" cy="436.8" r="1.4"/><circle class="y" cx="403.2" cy="130.2" r="1.4"/><circle class="m" cx="335.5" cy="195.3" r="1.4"/><circle class="b" cx="457.6" cy="80.7" r="1.4"/><circle class="b" cx="158.7" cy="373.3" r="1.4"/><circle class="b" cx="203.7" cy="330.0" r="1.4"/><circle class="m" cx="255.2" cy="274.7" r="1.4"/><circle class="b" cx="270.5" cy="269.0" r="1.4"/><circle class="b" cx="437.3" cy="101.6" r="1.4"/><circle class="c" cx="425.9" cy="109.6" r="1.4"/><circle class="c" cx="314.2" cy="217.4" r="1.4"/><circle class="m" cx="117.2" cy="410.8" r="1.4"/><circle class="m" cx="218.2" cy="307.5" r="1.4"/><circle class="c" cx="475.1" cy="63.7" r="1.4"/><circle class="c" cx="242.9" cy="292.8" r="1.4"/><circle class="b" cx="416.3" cy="125.6" r="1.4"/><circle class="c" cx="233.9" cy="300.7" r="1.4"/><circle class="y" cx="396.1" cy="139.7" r="1.4"/><circle class="y" cx="190.8" cy="339.8" r="1.4"/><circle class="m" cx="165.3" cy="365.1" r="1.4"/><circle class="m" cx="324.7" cy="210.0" r="1.4"/><circle class="c" cx="95.3" cy="437.1" r="1.4"/><circle class="c" cx="324.8" cy="218.0" r="1.4"/><circle class="m" cx="151.1" cy="385.2" r="1.4"/><circle class="m" cx="361.2" cy="178.4" r="1.4"/><circle class="c" cx="88.3" cy="443.1" r="1.4"/><circle class="m" cx="254.9" cy="275.3" r="1.4"/><circle class="m" cx="112.6" cy="414.8" r="1.4"/><circle class="y" cx="296.9" cy="231.2" r="1.4"/><circle class="b" cx="503.0" cy="41.3" r="1.4"/><circle class="c" cx="235.4" cy="295.7" r="1.4"/><circle class="c" cx="490.8" cy="50.2" r="1.4"/><circle class="c" cx="289.1" cy="236.8" r="1.4"/><circle class="b" cx="133.4" cy="397.7" r="1.4"/><circle class="c" cx="206.5" cy="325.7" r="1.4"/><circle class="c" cx="444.8" cy="88.1" r="1.4"/><circle class="c" cx="456.0" cy="82.4" r="1.4"/><circle class="y" cx="99.3" cy="382.7" r="1.4"/><circle class="m" cx="375.6" cy="163.8" r="1.4"/><circle class="y" cx="272.6" cy="257.5" r="1.4"/><circle class="b" cx="430.8" cy="112.8" r="1.4"/><circle class="c" cx="213.2" cy="316.9" r="1.4"/><circle class="m" cx="461.8" cy="81.2" r="1.4"/><circle class="b" cx="379.7" cy="157.8" r="1.4"/><circle class="y" cx="336.2" cy="203.6" r="1.4"/><circle class="y" cx="399.0" cy="138.9" r="1.4"/><circle class="c" cx="393.1" cy="148.0" r="1.4"/><circle class="c" cx="446.8" cy="88.1" r="1.4"/><circle class="b" cx="251.0" cy="279.8" r="1.4"/><circle class="c" cx="244.7" cy="285.0" r="1.4"/><circle class="m" cx="405.1" cy="132.0" r="1.4"/><circle class="c" cx="391.6" cy="143.9" r="1.4"/><circle class="b" cx="213.7" cy="320.5" r="1.4"/><circle class="c" cx="105.8" cy="422.5" r="1.4"/><circle class="m" cx="320.5" cy="202.9" r="1.4"/><circle class="m" cx="369.5" cy="168.5" r="1.4"/><circle class="c" cx="195.0" cy="341.2" r="1.4"/><circle class="c" cx="394.2" cy="141.8" r="1.4"/><circle class="c" cx="397.1" cy="138.5" r="1.4"/><circle class="y" cx="400.0" cy="169.7" r="1.4"/><circle class="y" cx="220.6" cy="311.7" r="1.4"/><circle class="m" cx="461.6" cy="77.5" r="1.4"/><circle class="m" cx="107.3" cy="418.3" r="1.4"/><circle class="m" cx="248.3" cy="279.5" r="1.4"/><circle class="b" cx="365.3" cy="179.6" r="1.4"/><circle class="b" cx="110.8" cy="422.6" r="1.4"/><circle class="m" cx="471.1" cy="69.0" r="1.4"/><circle class="m" cx="239.2" cy="289.9" r="1.4"/><circle class="b" cx="261.3" cy="264.6" r="1.4"/><circle class="m" cx="403.7" cy="126.8" r="1.4"/><circle class="y" cx="315.0" cy="214.8" r="1.4"/><circle class="y" cx="470.0" cy="65.7" r="1.4"/><circle class="m" cx="182.9" cy="346.2" r="1.4"/><circle class="m" cx="309.2" cy="228.2" r="1.4"/><circle class="c" cx="225.2" cy="309.3" r="1.4"/><circle class="c" cx="437.0" cy="103.8" r="1.4"/><circle class="y" cx="130.4" cy="400.5" r="1.4"/><circle class="y" cx="397.7" cy="131.9" r="1.4"/><circle class="b" cx="238.4" cy="303.0" r="1.4"/><circle class="m" cx="370.5" cy="168.6" r="1.4"/><circle class="c" cx="282.6" cy="252.0" r="1.4"/><circle class="m" cx="321.8" cy="210.5" r="1.4"/><circle class="y" cx="302.7" cy="231.2" r="1.4"/><circle class="m" cx="279.9" cy="250.8" r="1.4"/><circle class="y" cx="322.6" cy="212.4" r="1.4"/><circle class="b" cx="184.6" cy="354.9" r="1.4"/><circle class="b" cx="453.9" cy="89.1" r="1.4"/><circle class="b" cx="477.4" cy="51.2" r="1.4"/><circle class="m" cx="114.3" cy="420.1" r="1.4"/><circle class="m" cx="197.3" cy="338.2" r="1.4"/><circle class="c" cx="269.2" cy="266.3" r="1.4"/><circle class="c" cx="483.3" cy="52.4" r="1.4"/><circle class="y" cx="246.4" cy="288.9" r="1.4"/><circle class="c" cx="255.4" cy="271.7" r="1.4"/><circle class="c" cx="343.1" cy="194.7" r="1.4"/><circle class="b" cx="176.1" cy="356.0" r="1.4"/><circle class="b" cx="354.3" cy="185.3" r="1.4"/><circle class="b" cx="431.0" cy="106.1" r="1.4"/><circle class="c" cx="464.9" cy="74.5" r="1.4"/><circle class="c" cx="116.3" cy="405.5" r="1.4"/><circle class="m" cx="371.4" cy="162.5" r="1.4"/><circle class="y" cx="242.3" cy="291.4" r="1.4"/><circle class="c" cx="281.8" cy="248.7" r="1.4"/><circle class="m" cx="158.7" cy="372.9" r="1.4"/><circle class="b" cx="316.0" cy="221.2" r="1.4"/><circle class="b" cx="225.2" cy="301.7" r="1.4"/><circle class="b" cx="373.6" cy="168.8" r="1.4"/><circle class="c" cx="221.0" cy="314.7" r="1.4"/><circle class="b" cx="322.1" cy="218.8" r="1.4"/><circle class="m" cx="190.8" cy="335.1" r="1.4"/><circle class="m" cx="187.5" cy="339.9" r="1.4"/><circle class="c" cx="216.8" cy="311.2" r="1.4"/><circle class="m" cx="256.0" cy="279.6" r="1.4"/><circle class="y" cx="202.7" cy="335.0" r="1.4"/><circle class="m" cx="348.8" cy="185.6" r="1.4"/><circle class="c" cx="153.8" cy="377.1" r="1.4"/><circle class="c" cx="144.0" cy="385.6" r="1.4"/><circle class="b" cx="423.7" cy="113.9" r="1.4"/><circle class="m" cx="132.1" cy="393.5" r="1.4"/><circle class="m" cx="140.8" cy="389.5" r="1.4"/><circle class="m" cx="412.1" cy="126.4" r="1.4"/><circle class="y" cx="394.3" cy="139.0" r="1.4"/><circle class="b" cx="392.0" cy="147.1" r="1.4"/><circle class="c" cx="142.3" cy="386.8" r="1.4"/><circle class="c" cx="208.5" cy="325.2" r="1.4"/><circle class="c" cx="274.8" cy="258.1" r="1.4"/><circle class="y" cx="217.7" cy="289.8" r="1.4"/><circle class="b" cx="347.8" cy="187.1" r="1.4"/><circle class="c" cx="98.2" cy="431.5" r="1.4"/><circle class="c" cx="350.0" cy="188.6" r="1.4"/><circle class="c" cx="407.5" cy="129.0" r="1.4"/><circle class="b" cx="434.0" cy="128.8" r="1.4"/><circle class="m" cx="195.7" cy="331.5" r="1.4"/><circle class="c" cx="298.9" cy="235.6" r="1.4"/><circle class="m" cx="317.1" cy="212.1" r="1.4"/><circle class="y" cx="346.8" cy="183.3" r="1.4"/>
</g>
<rect x="74.2" y="25.3" width="440.8" height="428.9" fill="none" stroke="#000" stroke-width="1.2"/>
<line x1="69.8" y1="443.9" x2="74.2" y2="443.9" stroke="#000" stroke-width="1.2"/>
<text x="65.4" y="448.9" font-size="13.2" text-anchor="end">−1.00</text>
<line x1="84.5" y1="454.2" x2="84.5" y2="458.6" stroke="#000" stroke-width="1.2"/>
<text x="84.5" y="473.8" font-size="13.2" text-anchor="middle">−1.00</text>
<line x1="69.8" y1="392.8" x2="74.2" y2="392.8" stroke="#000" stroke-width="1.2"/>
<text x="65.4" y="397.8" font-size="13.2" text-anchor="end">−0.75</text>
<line x1="137.0" y1="454.2" x2="137.0" y2="458.6" stroke="#000" stroke-width="1.2"/>
<text x="137.0" y="473.8" font-size="13.2" text-anchor="middle">−0.75</text>
<line x1="69.8" y1="341.8" x2="74.2" y2="341.8" stroke="#000" stroke-width="1.2"/>
<text x="65.4" y="346.8" font-size="13.2" text-anchor="end">−0.50</text>
<line x1="189.5" y1="454.2" x2="189.5" y2="458.6" stroke="#000" stroke-width="1.2"/>
<text x="189.5" y="473.8" font-size="13.2" text-anchor="middle">−0.50</text>
<line x1="69.8" y1="290.8" x2="74.2" y2="290.8" stroke="#000" stroke-width="1.2"/>
<text x="65.4" y="295.8" font-size="13.2" text-anchor="end">−0.25</text>
<line x1="242.0" y1="454.2" x2="242.0" y2="458.6" stroke="#000" stroke-width="1.2"/>
<text x="242.0" y="473.8" font-size="13.2" text-anchor="middle">−0.25</text>
<line x1="69.8" y1="239.7" x2="74.2" y2="239.7" stroke="#000" stroke-width="1.2"/>
<text x="65.4" y="244.7" font-size="13.2" text-anchor="end">0.00</text>
<line x1="294.5" y1="454.2" x2="294.5" y2="458.6" stroke="#000" stroke-width="1.2"/>
<text x="294.5" y="473.8" font-size="13.2" text-anchor="middle">0.00</text>
<line x1="69.8" y1="188.6" x2="74.2" y2="188.6" stroke="#000" stroke-width="1.2"/>
<text x="65.4" y="193.6" font-size="13.2" text-anchor="end">0.25</text>
<line x1="347.0" y1="454.2" x2="347.0" y2="458.6" stroke="#000" stroke-width="1.2"/>
<text x="347.0" y="473.8" font-size="13.2" text-anchor="middle">0.25</text>
<line x1="69.8" y1="137.6" x2="74.2" y2="137.6" stroke="#000" stroke-width="1.2"/>
<text x="65.4" y="142.6" font-size="13.2" text-anchor="end">0.50</text>
<line x1="399.5" y1="454.2" x2="399.5" y2="458.6" stroke="#000" stroke-width="1.2"/>
<text x="399.5" y="473.8" font-size="13.2" text-anchor="middle">0.50</text>
<line x1="69.8" y1="86.6" x2="74.2" y2="86.6" stroke="#000" stroke-width="1.2"/>
<text x="65.4" y="91.6" font-size="13.2" text-anchor="end">0.75</text>
<line x1="452.0" y1="454.2" x2="452.0" y2="458.6" stroke="#000" stroke-width="1.2"/>
<text x="452.0" y="473.8" font-size="13.2" text-anchor="middle">0.75</text>
<line x1="69.8" y1="35.5" x2="74.2" y2="35.5" stroke="#000" stroke-width="1.2"/>
<text x="65.4" y="40.5" font-size="13.2" text-anchor="end">1.00</text>
<line x1="504.5" y1="454.2" x2="504.5" y2="458.6" stroke="#000" stroke-width="1.2"/>
<text x="504.5" y="473.8" font-size="13.2" text-anchor="middle">1.00</text>
<text x="295" y="17.0" font-size="20.7" text-anchor="middle">BL2b</text>
<text x="294.6" y="495.0" font-size="18.4" text-anchor="middle">Actual Values</text>
<text transform="translate(16.2,238.4) rotate(-90)" font-size="18.4" text-anchor="middle">Predicted Values</text>
<rect x="82.2" y="33.6" width="153" height="146.3" rx="3" ry="3" fill="#fff" fill-opacity="0.8" stroke="#cccccc" stroke-width="1.2"/>
<line x1="87.6" y1="46.2" x2="121.2" y2="46.2" stroke="#cc2a2a" stroke-width="2.2"/>
<text x="132.8" y="52.3" font-size="16"><tspan font-style="italic">B</tspan><tspan font-size="11.2" dy="3.3" font-style="italic">x</tspan><tspan font-size="11.2">1</tspan><tspan dy="-3.3"> (0.9997)</tspan></text>
<line x1="87.6" y1="69.3" x2="121.2" y2="69.3" stroke="#1f6e1f" stroke-width="2.2"/>
<text x="132.8" y="75.4" font-size="16"><tspan font-style="italic">B</tspan><tspan font-size="11.2" dy="3.3" font-style="italic">y</tspan><tspan font-size="11.2">1</tspan><tspan dy="-3.3"> (0.9997)</tspan></text>
<line x1="87.6" y1="94.3" x2="121.2" y2="94.3" stroke="#1818d0" stroke-width="2.2"/>
<text x="132.8" y="100.4" font-size="16"><tspan font-style="italic">B</tspan><tspan font-size="11.2" dy="3.3" font-style="italic">z</tspan><tspan font-size="11.2">1</tspan><tspan dy="-3.3"> (0.9983)</tspan></text>
<line x1="87.6" y1="117.8" x2="121.2" y2="117.8" stroke="#20aaa5" stroke-width="2.2"/>
<text x="132.8" y="123.9" font-size="16"><tspan font-style="italic">B</tspan><tspan font-size="11.2" dy="3.3" font-style="italic">x</tspan><tspan font-size="11.2">2</tspan><tspan dy="-3.3"> (0.9989)</tspan></text>
<line x1="87.6" y1="141.0" x2="121.2" y2="141.0" stroke="#b010b0" stroke-width="2.2"/>
<text x="132.8" y="147.1" font-size="16"><tspan font-style="italic">B</tspan><tspan font-size="11.2" dy="3.3" font-style="italic">y</tspan><tspan font-size="11.2">2</tspan><tspan dy="-3.3"> (0.9990)</tspan></text>
<line x1="87.6" y1="165.7" x2="121.2" y2="165.7" stroke="#b8b830" stroke-width="2.2"/>
<text x="132.8" y="171.8" font-size="16"><tspan font-style="italic">B</tspan><tspan font-size="11.2" dy="3.3" font-style="italic">z</tspan><tspan font-size="11.2">2</tspan><tspan dy="-3.3"> (0.9948)</tspan></text>
<rect x="316.2" y="298.2" width="170.5" height="102.2" fill="#fff"/>
<g clip-path="url(#ci)" fill="none" stroke-linecap="butt" stroke-linejoin="round">
<path d="M317.2,371 L317.2,378.5" stroke="#008000" stroke-width="1.8"/>
<path d="M317.7,378.50 L318.1,378.57 L318.5,378.65 L318.9,378.75 L319.4,378.86 L319.8,378.98 L320.2,379.11 L320.6,379.25 L321.0,379.40 L321.4,379.57 L321.8,379.77 L322.2,379.99 L322.7,380.23 L323.1,380.50 L323.5,380.77 L323.9,381.06 L324.3,381.35 L324.7,381.65 L325.1,381.94 L325.5,382.22 L326.0,382.50 L326.4,382.76 L326.8,383.01 L327.2,383.27 L327.6,383.53 L328.0,383.80 L328.4,384.06 L328.9,384.33 L329.3,384.59 L329.7,384.84 L330.1,385.09 L330.5,385.31 L330.9,385.52 L331.3,385.71 L331.7,385.88 L332.2,386.02 L332.6,386.14 L333.0,386.27 L333.4,386.39 L333.8,386.50 L334.2,386.61 L334.6,386.72 L335.0,386.83 L335.5,386.93 L335.9,387.02 L336.3,387.12 L336.7,387.21 L337.1,387.30 L337.5,387.38 L337.9,387.46 L338.4,387.54 L338.8,387.61 L339.2,387.68 L339.6,387.75 L340.0,387.82 L340.4,387.88 L340.8,387.94 L341.2,387.99 L341.7,388.04 L342.1,388.09 L342.5,388.14 L342.9,388.18 L343.3,388.22 L343.7,388.26 L344.1,388.30 L344.5,388.33 L345.0,388.37 L345.4,388.41 L345.8,388.44 L346.2,388.47 L346.6,388.51 L347.0,388.54 L347.4,388.57 L347.9,388.60 L348.3,388.63 L348.7,388.66 L349.1,388.69 L349.5,388.72 L349.9,388.74 L350.3,388.77 L350.7,388.80 L351.2,388.82 L351.6,388.85 L352.0,388.87 L352.4,388.89 L352.8,388.92 L353.2,388.94 L353.6,388.96 L354.0,388.98 L354.5,389.01 L354.9,389.03 L355.3,389.05 L355.7,389.07 L356.1,389.09 L356.5,389.11 L356.9,389.13 L357.4,389.15 L357.8,389.17 L358.2,389.19 L358.6,389.20 L359.0,389.22 L359.4,389.24 L359.8,389.26 L360.2,389.28 L360.7,389.30 L361.1,389.31 L361.5,389.33 L361.9,389.35 L362.3,389.37 L362.7,389.39 L363.1,389.41 L363.6,389.42 L364.0,389.44 L364.4,389.46 L364.8,389.48 L365.2,389.50 L365.6,389.52 L366.0,389.54 L366.4,389.56 L366.9,389.58 L367.3,389.60 L367.7,389.61 L368.1,389.63 L368.5,389.65 L368.9,389.67 L369.3,389.69 L369.7,389.71 L370.2,389.73 L370.6,389.75 L371.0,389.76 L371.4,389.78 L371.8,389.80 L372.2,389.82 L372.6,389.84 L373.1,389.85 L373.5,389.87 L373.9,389.89 L374.3,389.91 L374.7,389.93 L375.1,389.94 L375.5,389.96 L375.9,389.98 L376.4,390.00 L376.8,390.01 L377.2,390.03 L377.6,390.05 L378.0,390.06 L378.4,390.08 L378.8,390.10 L379.2,390.12 L379.7,390.13 L380.1,390.15 L380.5,390.17 L380.9,390.18 L381.3,390.20 L381.7,390.21 L382.1,390.23 L382.6,390.25 L383.0,390.26 L383.4,390.28 L383.8,390.29 L384.2,390.31 L384.6,390.32 L385.0,390.34 L385.4,390.35 L385.9,390.37 L386.3,390.38 L386.7,390.40 L387.1,390.41 L387.5,390.43 L387.9,390.44 L388.3,390.46 L388.7,390.47 L389.2,390.49 L389.6,390.50 L390.0,390.51 L390.4,390.53 L390.8,390.54 L391.2,390.55 L391.6,390.57 L392.1,390.58 L392.5,390.59 L392.9,390.61 L393.3,390.62 L393.7,390.63 L394.1,390.64 L394.5,390.66 L394.9,390.67 L395.4,390.68 L395.8,390.69 L396.2,390.70 L396.6,390.71 L397.0,390.73 L397.4,390.74 L397.8,390.75 L398.2,390.76 L398.7,390.77 L399.1,390.78 L399.5,390.79 L399.9,390.80" stroke="#d04010" stroke-width="1.9" stroke-dasharray="3,5.5" stroke-dashoffset="7.5"/>
<path d="M317.7,378.50 L318.1,378.57 L318.5,378.65 L318.9,378.75 L319.4,378.86 L319.8,378.98 L320.2,379.11 L320.6,379.25 L321.0,379.40 L321.4,379.57 L321.8,379.77 L322.2,379.99 L322.7,380.23 L323.1,380.50 L323.5,380.77 L323.9,381.06 L324.3,381.35 L324.7,381.65 L325.1,381.94 L325.5,382.22 L326.0,382.50 L326.4,382.76 L326.8,383.01 L327.2,383.27 L327.6,383.53 L328.0,383.80 L328.4,384.06 L328.9,384.33 L329.3,384.59 L329.7,384.84 L330.1,385.09 L330.5,385.31 L330.9,385.52 L331.3,385.71 L331.7,385.88 L332.2,386.02 L332.6,386.14 L333.0,386.27 L333.4,386.39 L333.8,386.50 L334.2,386.61 L334.6,386.72 L335.0,386.83 L335.5,386.93 L335.9,387.02 L336.3,387.12 L336.7,387.21 L337.1,387.30 L337.5,387.38 L337.9,387.46 L338.4,387.54 L338.8,387.61 L339.2,387.68 L339.6,387.75 L340.0,387.82 L340.4,387.88 L340.8,387.94 L341.2,387.99 L341.7,388.04 L342.1,388.09 L342.5,388.14 L342.9,388.18 L343.3,388.22 L343.7,388.26 L344.1,388.30 L344.5,388.33 L345.0,388.37 L345.4,388.41 L345.8,388.44 L346.2,388.47 L346.6,388.51 L347.0,388.54 L347.4,388.57 L347.9,388.60 L348.3,388.63 L348.7,388.66 L349.1,388.69 L349.5,388.72 L349.9,388.74 L350.3,388.77 L350.7,388.80 L351.2,388.82 L351.6,388.85 L352.0,388.87 L352.4,388.89 L352.8,388.92 L353.2,388.94 L353.6,388.96 L354.0,388.98 L354.5,389.01 L354.9,389.03 L355.3,389.05 L355.7,389.07 L356.1,389.09 L356.5,389.11 L356.9,389.13 L357.4,389.15 L357.8,389.17 L358.2,389.19 L358.6,389.20 L359.0,389.22 L359.4,389.24 L359.8,389.26 L360.2,389.28 L360.7,389.30 L361.1,389.31 L361.5,389.33 L361.9,389.35 L362.3,389.37 L362.7,389.39 L363.1,389.41 L363.6,389.42 L364.0,389.44 L364.4,389.46 L364.8,389.48 L365.2,389.50 L365.6,389.52 L366.0,389.54 L366.4,389.56 L366.9,389.58 L367.3,389.60 L367.7,389.61 L368.1,389.63 L368.5,389.65 L368.9,389.67 L369.3,389.69 L369.7,389.71 L370.2,389.73 L370.6,389.75 L371.0,389.76 L371.4,389.78 L371.8,389.80 L372.2,389.82 L372.6,389.84 L373.1,389.85 L373.5,389.87 L373.9,389.89 L374.3,389.91 L374.7,389.93 L375.1,389.94 L375.5,389.96 L375.9,389.98 L376.4,390.00 L376.8,390.01 L377.2,390.03 L377.6,390.05 L378.0,390.06 L378.4,390.08 L378.8,390.10 L379.2,390.12 L379.7,390.13 L380.1,390.15 L380.5,390.17 L380.9,390.18 L381.3,390.20 L381.7,390.21 L382.1,390.23 L382.6,390.25 L383.0,390.26 L383.4,390.28 L383.8,390.29 L384.2,390.31 L384.6,390.32 L385.0,390.34 L385.4,390.35 L385.9,390.37 L386.3,390.38 L386.7,390.40 L387.1,390.41 L387.5,390.43 L387.9,390.44 L388.3,390.46 L388.7,390.47 L389.2,390.49 L389.6,390.50 L390.0,390.51 L390.4,390.53 L390.8,390.54 L391.2,390.55 L391.6,390.57 L392.1,390.58 L392.5,390.59 L392.9,390.61 L393.3,390.62 L393.7,390.63 L394.1,390.64 L394.5,390.66 L394.9,390.67 L395.4,390.68 L395.8,390.69 L396.2,390.70 L396.6,390.71 L397.0,390.73 L397.4,390.74 L397.8,390.75 L398.2,390.76 L398.7,390.77 L399.1,390.78 L399.5,390.79 L399.9,390.80" stroke="#1f6a10" stroke-width="1.9"/>
<path d="M317.7,378.50 L318.5,378.65 L319.4,378.87 L320.2,379.13 L321.1,379.43 L321.9,379.82 L322.8,380.32 L323.6,380.88 L324.5,381.48 L325.3,382.08 L326.2,382.64 L327.0,383.16 L327.9,383.70 L328.7,384.25 L329.6,384.78 L330.4,385.27 L331.3,385.69 L332.1,386.01 L333.0,386.26 L333.8,386.50 L334.7,386.73 L335.5,386.94 L336.4,387.14 L337.2,387.32 L338.1,387.48 L338.9,387.64 L339.8,387.78 L340.6,387.90 L341.5,388.02 L342.3,388.12 L343.1,388.20 L344.0,388.28 L344.8,388.36 L345.7,388.43 L346.5,388.50 L347.4,388.57 L348.2,388.63 L349.1,388.69 L349.9,388.74 L350.8,388.80 L351.6,388.85 L352.5,388.90 L353.3,388.94 L354.2,388.99 L355.0,389.03 L355.9,389.08 L356.7,389.12 L357.6,389.16 L358.4,389.20 L359.3,389.23 L360.1,389.27 L361.0,389.31 L361.8,389.35 L362.7,389.38 L363.5,389.42 L364.4,389.46 L365.2,389.50 L366.0,389.54 L366.9,389.58 L367.7,389.62 L368.6,389.65 L369.4,389.69 L370.3,389.73 L371.1,389.76 L372.0,389.80 L372.8,389.84 L373.7,389.87 L374.5,389.91 L375.4,389.94 L376.2,389.97 L377.1,390.01 L377.9,390.04 L378.8,390.07 L379.6,390.10 L380.5,390.14 L381.3,390.17 L382.2,390.20 L383.0,390.23 L383.9,390.26 L384.7,390.29 L385.6,390.32 L386.4,390.35 L387.3,390.38 L388.1,390.41 L389.0,390.44 L389.8,390.47 L390.6,390.50 L391.5,390.53 L392.3,390.55 L393.2,390.58 L394.0,390.61 L394.9,390.64 L395.7,390.67 L396.6,390.69 L397.4,390.72 L398.3,390.75 L399.1,390.78 L400.0,390.80 L400.8,390.83 L401.7,390.86 L402.5,390.88 L403.4,390.91 L404.2,390.94 L405.1,390.96 L405.9,390.99 L406.8,391.02 L407.6,391.04 L408.5,391.07 L409.3,391.10 L410.2,391.12 L411.0,391.15 L411.9,391.18 L412.7,391.20 L413.6,391.23 L414.4,391.25 L415.2,391.28 L416.1,391.31 L416.9,391.33 L417.8,391.36 L418.6,391.38 L419.5,391.41 L420.3,391.43 L421.2,391.46 L422.0,391.49 L422.9,391.51 L423.7,391.54 L424.6,391.56 L425.4,391.59 L426.3,391.61 L427.1,391.64 L428.0,391.66 L428.8,391.69 L429.7,391.71 L430.5,391.74 L431.4,391.76 L432.2,391.78 L433.1,391.81 L433.9,391.83 L434.8,391.86 L435.6,391.88 L436.5,391.90 L437.3,391.93 L438.2,391.95 L439.0,391.98 L439.8,392.00 L440.7,392.02 L441.5,392.05 L442.4,392.07 L443.2,392.09 L444.1,392.12 L444.9,392.14 L445.8,392.16 L446.6,392.18 L447.5,392.21 L448.3,392.23 L449.2,392.25 L450.0,392.27 L450.9,392.30 L451.7,392.32 L452.6,392.34 L453.4,392.36 L454.3,392.38 L455.1,392.40 L456.0,392.43 L456.8,392.45 L457.7,392.47 L458.5,392.49 L459.4,392.51 L460.2,392.53 L461.1,392.55 L461.9,392.57 L462.7,392.59 L463.6,392.61 L464.4,392.63 L465.3,392.65 L466.1,392.67 L467.0,392.69 L467.8,392.71 L468.7,392.73 L469.5,392.75 L470.4,392.77 L471.2,392.79 L472.1,392.81 L472.9,392.82 L473.8,392.84 L474.6,392.86 L475.5,392.88 L476.3,392.90 L477.2,392.91 L478.0,392.93 L478.9,392.95 L479.7,392.97 L480.6,392.98 L481.4,393.00 L482.3,393.02 L483.1,393.03 L484.0,393.05 L484.8,393.07 L485.7,393.08 L486.5,393.10" stroke="#008000" stroke-width="1.9" stroke-dasharray="6.2,2.3"/>
<path d="M317.4,361 L317.4,367" stroke="#bf00bf" stroke-width="1.8"/>
<path d="M317.7,367.40 L318.5,368.17 L319.4,368.92 L320.2,369.64 L321.1,370.31 L321.9,370.94 L322.8,371.50 L323.6,371.99 L324.5,372.47 L325.3,372.93 L326.2,373.38 L327.0,373.80 L327.9,374.20 L328.7,374.56 L329.6,374.89 L330.4,375.18 L331.3,375.42 L332.1,375.60 L333.0,375.76 L333.8,375.90 L334.7,376.04 L335.5,376.16 L336.4,376.27 L337.2,376.38 L338.1,376.47 L338.9,376.56 L339.8,376.64 L340.6,376.72 L341.5,376.78 L342.3,376.85 L343.1,376.90 L344.0,376.96 L344.8,377.01 L345.7,377.06 L346.5,377.10 L347.4,377.15 L348.2,377.19 L349.1,377.24 L349.9,377.28 L350.8,377.32 L351.6,377.35 L352.5,377.39 L353.3,377.43 L354.2,377.46 L355.0,377.49 L355.9,377.52 L356.7,377.55 L357.6,377.58 L358.4,377.61 L359.3,377.64 L360.1,377.66 L361.0,377.69 L361.8,377.71 L362.7,377.73 L363.5,377.76 L364.4,377.78 L365.2,377.80 L366.0,377.82 L366.9,377.84 L367.7,377.86 L368.6,377.88 L369.4,377.90 L370.3,377.92 L371.1,377.94 L372.0,377.95 L372.8,377.97 L373.7,377.99 L374.5,378.00 L375.4,378.02 L376.2,378.03 L377.1,378.05 L377.9,378.06 L378.8,378.08 L379.6,378.09 L380.5,378.11 L381.3,378.12 L382.2,378.13 L383.0,378.15 L383.9,378.16 L384.7,378.17 L385.6,378.19 L386.4,378.20 L387.3,378.21 L388.1,378.23 L389.0,378.24 L389.8,378.25 L390.6,378.26 L391.5,378.27 L392.3,378.29 L393.2,378.30 L394.0,378.31 L394.9,378.32 L395.7,378.34 L396.6,378.35 L397.4,378.36 L398.3,378.38 L399.1,378.39 L400.0,378.40 L400.8,378.41 L401.7,378.43 L402.5,378.44 L403.4,378.45 L404.2,378.47 L405.1,378.48 L405.9,378.49 L406.8,378.51 L407.6,378.52 L408.5,378.53 L409.3,378.55 L410.2,378.56 L411.0,378.57 L411.9,378.58 L412.7,378.60 L413.6,378.61 L414.4,378.62 L415.2,378.64 L416.1,378.65 L416.9,378.66 L417.8,378.68 L418.6,378.69 L419.5,378.70 L420.3,378.71 L421.2,378.73 L422.0,378.74 L422.9,378.75 L423.7,378.76 L424.6,378.78 L425.4,378.79 L426.3,378.80 L427.1,378.81 L428.0,378.83 L428.8,378.84 L429.7,378.85 L430.5,378.86 L431.4,378.88 L432.2,378.89 L433.1,378.90 L433.9,378.91 L434.8,378.93 L435.6,378.94 L436.5,378.95 L437.3,378.96 L438.2,378.97 L439.0,378.99 L439.8,379.00 L440.7,379.01 L441.5,379.02 L442.4,379.03 L443.2,379.05 L444.1,379.06 L444.9,379.07 L445.8,379.08 L446.6,379.09 L447.5,379.11 L448.3,379.12 L449.2,379.13 L450.0,379.14 L450.9,379.15 L451.7,379.16 L452.6,379.17 L453.4,379.19 L454.3,379.20 L455.1,379.21 L456.0,379.22 L456.8,379.23 L457.7,379.24 L458.5,379.25 L459.4,379.27 L460.2,379.28 L461.1,379.29 L461.9,379.30 L462.7,379.31 L463.6,379.32 L464.4,379.33 L465.3,379.34 L466.1,379.35 L467.0,379.36 L467.8,379.38 L468.7,379.39 L469.5,379.40 L470.4,379.41 L471.2,379.42 L472.1,379.43 L472.9,379.44 L473.8,379.45 L474.6,379.46 L475.5,379.47 L476.3,379.48 L477.2,379.49 L478.0,379.50 L478.9,379.51 L479.7,379.52 L480.6,379.53 L481.4,379.54 L482.3,379.55 L483.1,379.56 L484.0,379.57 L484.8,379.58 L485.7,379.59 L486.5,379.60" stroke="#00bfbf" stroke-width="2.0" stroke-dasharray="6.2,2.3"/>
<path d="M317.7,366.80 L318.5,367.57 L319.4,368.32 L320.2,369.04 L321.1,369.71 L321.9,370.34 L322.8,370.90 L323.6,371.39 L324.5,371.87 L325.3,372.33 L326.2,372.78 L327.0,373.20 L327.9,373.60 L328.7,373.96 L329.6,374.29 L330.4,374.58 L331.3,374.82 L332.1,375.00 L333.0,375.16 L333.8,375.30 L334.7,375.44 L335.5,375.56 L336.4,375.67 L337.2,375.78 L338.1,375.87 L338.9,375.96 L339.8,376.04 L340.6,376.12 L341.5,376.18 L342.3,376.25 L343.1,376.30 L344.0,376.36 L344.8,376.41 L345.7,376.46 L346.5,376.50 L347.4,376.55 L348.2,376.59 L349.1,376.64 L349.9,376.68 L350.8,376.72 L351.6,376.75 L352.5,376.79 L353.3,376.83 L354.2,376.86 L355.0,376.89 L355.9,376.92 L356.7,376.95 L357.6,376.98 L358.4,377.01 L359.3,377.04 L360.1,377.06 L361.0,377.09 L361.8,377.11 L362.7,377.13 L363.5,377.16 L364.4,377.18 L365.2,377.20 L366.0,377.22 L366.9,377.24 L367.7,377.26 L368.6,377.28 L369.4,377.30 L370.3,377.32 L371.1,377.34 L372.0,377.35 L372.8,377.37 L373.7,377.39 L374.5,377.40 L375.4,377.42 L376.2,377.43 L377.1,377.45 L377.9,377.46 L378.8,377.48 L379.6,377.49 L380.5,377.51 L381.3,377.52 L382.2,377.53 L383.0,377.55 L383.9,377.56 L384.7,377.57 L385.6,377.59 L386.4,377.60 L387.3,377.61 L388.1,377.63 L389.0,377.64 L389.8,377.65 L390.6,377.66 L391.5,377.67 L392.3,377.69 L393.2,377.70 L394.0,377.71 L394.9,377.72 L395.7,377.74 L396.6,377.75 L397.4,377.76 L398.3,377.78 L399.1,377.79 L400.0,377.80 L400.8,377.81 L401.7,377.83 L402.5,377.84 L403.4,377.85 L404.2,377.87 L405.1,377.88 L405.9,377.89 L406.8,377.91 L407.6,377.92 L408.5,377.93 L409.3,377.95 L410.2,377.96 L411.0,377.97 L411.9,377.98 L412.7,378.00 L413.6,378.01 L414.4,378.02 L415.2,378.04 L416.1,378.05 L416.9,378.06 L417.8,378.08 L418.6,378.09 L419.5,378.10 L420.3,378.11 L421.2,378.13 L422.0,378.14 L422.9,378.15 L423.7,378.16 L424.6,378.18 L425.4,378.19 L426.3,378.20 L427.1,378.21 L428.0,378.23 L428.8,378.24 L429.7,378.25 L430.5,378.26 L431.4,378.28 L432.2,378.29 L433.1,378.30 L433.9,378.31 L434.8,378.33 L435.6,378.34 L436.5,378.35 L437.3,378.36 L438.2,378.37 L439.0,378.39 L439.8,378.40 L440.7,378.41 L441.5,378.42 L442.4,378.43 L443.2,378.45 L444.1,378.46 L444.9,378.47 L445.8,378.48 L446.6,378.49 L447.5,378.51 L448.3,378.52 L449.2,378.53 L450.0,378.54 L450.9,378.55 L451.7,378.56 L452.6,378.57 L453.4,378.59 L454.3,378.60 L455.1,378.61 L456.0,378.62 L456.8,378.63 L457.7,378.64 L458.5,378.65 L459.4,378.67 L460.2,378.68 L461.1,378.69 L461.9,378.70 L462.7,378.71 L463.6,378.72 L464.4,378.73 L465.3,378.74 L466.1,378.75 L467.0,378.76 L467.8,378.78 L468.7,378.79 L469.5,378.80 L470.4,378.81 L471.2,378.82 L472.1,378.83 L472.9,378.84 L473.8,378.85 L474.6,378.86 L475.5,378.87 L476.3,378.88 L477.2,378.89 L478.0,378.90 L478.9,378.91 L479.7,378.92 L480.6,378.93 L481.4,378.94 L482.3,378.95 L483.1,378.96 L484.0,378.97 L484.8,378.98 L485.7,378.99 L486.5,379.00" stroke="#bf00bf" stroke-width="2.0" stroke-dasharray="6.2,2.3"/>
<path d="M318.7,319.02 L319.3,320.23 L319.8,321.40 L320.4,322.54 L320.9,323.64 L321.5,324.71 L322.1,325.76 L322.6,326.77 L323.2,327.75 L323.7,328.70 L324.3,329.63 L324.8,330.52 L325.4,331.39 L326.0,332.23 L326.5,333.04 L327.1,333.82 L327.6,334.58 L328.2,335.31 L328.7,336.02 L329.3,336.71 L329.8,337.36 L330.4,338.00 L330.9,338.61 L331.5,339.20 L332.0,339.77 L332.6,340.31 L333.1,340.83 L333.7,341.34 L334.2,341.82 L334.8,342.28 L335.3,342.72 L335.9,343.15 L336.4,343.55 L337.0,343.94 L337.5,344.32 L338.1,344.66 L338.7,344.96 L339.2,345.32 L339.7,345.62 L340.3,345.90 L340.8,346.22 L341.4,346.47 L341.9,346.74 L342.5,346.95 L343.0,347.23 L343.6,347.45 L344.1,347.58 L344.7,347.82 L345.2,348.05 L345.8,348.17 L346.3,348.41 L346.9,348.52 L347.4,348.70 L348.0,348.86 L348.5,349.04 L349.1,349.12 L349.6,349.32 L350.3,349.18 L350.8,349.52 L351.3,349.67 L351.9,349.64 L352.4,349.97 L353.0,349.96 L353.6,350.10 L354.2,350.01 L354.7,350.30 L355.3,350.45 L355.9,350.48 L356.5,350.41 L357.0,350.83 L357.5,350.98 L358.1,351.04 L358.7,350.95 L359.3,351.14 L359.8,351.43 L360.4,351.39 L361.0,351.42 L361.5,351.85 L362.1,351.89 L362.7,351.67 L363.3,351.79 L363.8,352.13 L364.4,352.24 L364.9,352.26 L365.5,352.58 L366.0,352.61 L366.6,352.68 L367.2,352.80 L367.8,352.74 L368.4,352.83 L368.9,353.20 L369.4,353.39 L370.0,353.54 L370.6,353.54 L371.2,353.45 L371.8,353.41 L372.2,354.07 L372.9,353.80 L373.4,354.06 L373.9,354.35 L374.5,354.43 L375.1,354.56 L375.6,354.69 L376.2,354.62 L376.8,354.74 L377.3,355.08 L377.9,355.21 L378.5,355.18 L379.0,355.40 L379.7,354.72 L380.2,355.20 L380.8,355.32 L381.4,355.25 L381.8,355.95 L382.4,355.98 L383.0,356.12 L383.7,355.64 L384.2,356.13 L384.7,356.29 L385.3,356.32 L385.8,356.55 L386.4,356.72 L386.9,357.10 L387.5,357.01 L388.2,356.64 L388.6,357.39 L389.2,357.31 L389.7,357.63 L390.4,357.20 L390.9,357.66 L391.5,357.56 L392.0,357.77 L392.5,358.19 L393.2,358.08 L393.8,357.96 L394.3,358.36 L394.8,358.59 L395.4,358.65 L395.9,358.75 L396.5,358.79 L397.1,358.82 L397.6,359.08 L398.3,358.51 L398.7,359.38 L399.3,359.38 L399.9,359.28 L400.5,359.33 L401.0,359.72 L401.6,359.71 L402.1,360.11 L402.7,360.10 L403.2,360.28 L403.8,360.38 L404.5,360.01 L405.0,360.48 L405.5,360.70 L406.1,360.58 L406.7,360.79 L407.2,360.77 L407.8,361.04 L408.4,360.96 L408.9,361.22 L409.4,361.41 L410.1,361.28 L410.6,361.44 L411.2,361.18 L411.8,361.14 L412.3,361.67 L412.8,361.90 L413.4,362.11 L414.0,361.97 L414.6,361.98 L415.1,362.10 L415.6,362.50 L416.3,362.09 L416.8,362.65 L417.3,362.79 L417.9,362.66 L418.5,362.84 L419.1,362.38 L419.6,362.86 L420.3,362.56 L420.7,363.39 L421.3,363.36 L421.8,363.53 L422.4,363.42 L423.0,363.57 L423.5,363.73 L424.1,363.94 L424.7,363.48 L425.2,363.90 L425.8,363.85 L426.4,364.08 L427.0,364.06 L427.5,364.23 L428.1,364.15 L428.6,364.60 L429.2,364.38 L429.7,364.76 L430.3,364.69 L430.9,364.42 L431.4,364.98 L432.0,365.09 L432.5,365.14 L433.2,364.76 L433.7,365.14 L434.3,364.87 L434.8,365.33 L435.3,365.63 L436.0,365.33 L436.5,365.77 L437.1,365.59 L437.6,365.83 L438.2,365.83 L438.7,366.04 L439.3,366.16 L439.9,366.21 L440.4,366.26 L441.0,366.11 L441.5,366.41 L442.2,365.80 L442.7,366.56 L443.3,366.27 L443.8,366.37 L444.4,366.39 L445.0,366.22 L445.5,366.92 L446.0,366.99 L446.7,366.74 L447.2,366.99 L447.8,367.08 L448.4,366.69 L448.9,367.28 L449.4,367.38 L450.0,367.46 L450.6,367.13 L451.1,367.41 L451.7,367.43 L452.3,367.35 L452.8,367.58 L453.4,367.84 L453.9,367.73 L454.5,367.38 L455.1,367.97 L455.6,367.75 L456.2,367.88 L456.7,368.19 L457.4,367.47 L457.9,368.26 L458.4,368.33 L459.0,368.25 L459.6,368.47 L460.2,367.74 L460.7,368.40 L461.3,368.38 L461.8,368.63 L462.4,368.52 L463.0,368.37 L463.5,368.21 L464.1,368.83 L464.6,368.91 L465.2,368.64 L465.8,368.76 L466.3,368.86 L466.9,368.76 L467.4,368.88 L468.0,368.76 L468.6,368.97 L469.1,369.25 L469.7,369.01 L470.3,369.14 L470.8,369.35 L471.4,369.16 L472.0,369.01 L472.5,369.41 L473.1,369.40 L473.6,369.31 L474.2,368.93 L474.7,369.55 L475.3,369.62 L475.9,369.64 L476.4,369.29 L477.0,369.10 L477.6,369.65 L478.1,369.39 L478.7,369.55 L479.3,369.34 L479.8,369.69 L480.4,369.71 L480.9,369.86 L481.5,369.42 L482.1,369.78 L482.6,369.36 L483.2,369.70 L483.8,369.39 L484.3,370.03 L484.9,369.72 L485.4,370.07 L486.0,369.32 L486.5,369.92 L486.4,373.75 L485.9,373.41 L485.3,373.29 L484.8,373.38 L484.2,373.60 L483.6,373.52 L483.0,373.49 L482.5,373.44 L481.9,373.44 L481.4,373.23 L480.8,373.51 L480.2,373.49 L479.6,373.52 L479.1,373.33 L478.5,373.30 L477.9,373.38 L477.4,373.34 L476.8,373.07 L476.2,373.06 L475.6,373.64 L475.1,373.11 L474.5,373.72 L474.0,373.24 L473.4,372.90 L472.8,372.90 L472.3,372.89 L471.7,372.79 L471.1,372.77 L470.6,372.85 L470.0,372.61 L469.4,372.81 L468.9,372.67 L468.3,372.49 L467.7,372.54 L467.2,372.70 L466.6,372.65 L466.0,373.41 L465.4,372.98 L464.9,372.50 L464.3,372.71 L463.8,372.09 L463.2,372.35 L462.6,372.38 L462.1,371.93 L461.5,372.07 L460.9,372.28 L460.3,372.37 L459.8,371.89 L459.2,371.80 L458.7,371.92 L458.1,371.87 L457.5,371.56 L457.0,371.59 L456.4,371.43 L455.8,371.78 L455.3,371.45 L454.7,371.79 L454.1,371.68 L453.6,371.38 L453.0,371.14 L452.4,371.13 L451.9,371.02 L451.3,371.46 L450.7,371.20 L450.1,371.16 L449.6,370.69 L449.0,370.72 L448.5,370.64 L447.9,370.59 L447.3,370.74 L446.8,370.50 L446.2,370.35 L445.6,370.33 L445.0,370.65 L444.5,370.25 L443.9,370.31 L443.4,370.11 L442.8,369.88 L442.2,369.98 L441.7,369.73 L441.1,369.89 L440.5,369.98 L440.0,369.73 L439.4,369.50 L438.9,369.36 L438.3,369.42 L437.6,369.87 L437.2,369.22 L436.6,369.05 L436.0,369.02 L435.4,369.04 L434.9,368.91 L434.3,368.82 L433.8,368.71 L433.1,369.15 L432.6,368.60 L432.0,368.59 L431.5,368.35 L430.9,368.80 L430.4,368.18 L429.8,368.37 L429.2,368.41 L428.6,368.14 L428.0,368.27 L427.5,368.10 L426.9,367.88 L426.3,368.03 L425.8,368.08 L425.3,367.51 L424.7,367.57 L424.1,367.25 L423.6,367.15 L423.0,367.12 L422.4,367.35 L421.9,366.85 L421.3,366.95 L420.7,367.14 L420.1,367.04 L419.6,366.83 L419.0,366.67 L418.4,366.71 L417.9,366.23 L417.3,366.16 L416.7,366.53 L416.2,366.17 L415.6,366.17 L415.1,365.71 L414.5,365.68 L413.8,366.30 L413.4,365.42 L412.8,365.35 L412.1,366.11 L411.6,365.71 L411.1,365.06 L410.6,364.94 L410.0,365.05 L409.4,364.96 L408.8,364.90 L408.3,364.64 L407.7,364.70 L407.2,364.36 L406.6,364.21 L406.0,364.54 L405.4,364.33 L404.8,364.29 L404.3,363.96 L403.8,363.84 L403.2,363.82 L402.6,363.83 L402.1,363.37 L401.5,363.27 L400.9,363.31 L400.4,363.19 L399.8,363.21 L399.2,362.96 L398.7,362.94 L398.0,363.05 L397.5,363.04 L397.0,362.58 L396.3,362.89 L395.8,362.45 L395.2,362.43 L394.7,362.11 L394.2,361.87 L393.6,361.93 L393.0,361.99 L392.5,361.55 L391.8,361.85 L391.3,361.64 L390.7,361.52 L390.2,361.12 L389.6,360.96 L389.1,360.86 L388.4,361.15 L387.9,360.94 L387.4,360.53 L386.8,360.55 L386.2,360.45 L385.6,360.39 L385.1,360.17 L384.5,360.02 L383.9,360.12 L383.4,359.91 L382.7,360.25 L382.2,360.13 L381.7,359.40 L381.1,359.71 L380.5,359.35 L380.0,359.23 L379.4,359.03 L378.8,359.12 L378.3,358.88 L377.7,358.82 L377.1,358.85 L376.5,358.73 L376.0,358.37 L375.5,358.16 L374.9,358.36 L374.4,357.81 L373.7,358.07 L373.2,357.67 L372.7,357.43 L372.0,357.69 L371.5,357.43 L371.0,357.13 L370.4,357.03 L369.8,356.92 L369.3,356.67 L368.7,356.73 L368.2,356.46 L367.5,356.80 L367.1,356.13 L366.4,356.21 L365.8,356.23 L365.3,355.88 L364.7,355.88 L364.2,355.53 L363.6,355.55 L363.1,355.26 L362.5,355.20 L362.0,354.96 L361.4,354.90 L360.8,355.08 L360.3,354.68 L359.7,354.57 L359.2,354.33 L358.6,354.28 L358.0,354.25 L357.5,353.91 L356.9,353.85 L356.3,353.84 L355.8,353.60 L355.2,353.46 L354.6,353.47 L354.1,353.22 L353.5,353.34 L353.0,352.82 L352.4,352.76 L351.8,352.69 L351.3,352.41 L350.7,352.28 L350.1,352.15 L349.5,352.04 L349.0,351.90 L348.4,351.67 L347.8,351.71 L347.3,351.36 L346.7,351.18 L346.1,351.01 L345.5,350.81 L345.0,350.55 L344.4,350.34 L343.8,350.12 L343.2,349.98 L342.7,349.66 L342.1,349.45 L341.5,349.21 L340.9,348.92 L340.3,348.60 L339.7,348.33 L339.2,347.99 L338.6,347.66 L338.0,347.37 L337.4,346.96 L336.8,346.59 L336.3,346.20 L335.7,345.79 L335.1,345.37 L334.5,344.93 L333.9,344.47 L333.4,344.01 L332.8,343.50 L332.2,342.98 L331.6,342.45 L331.0,341.89 L330.5,341.32 L329.9,340.72 L329.3,340.10 L328.7,339.46 L328.2,338.79 L327.6,338.10 L327.0,337.39 L326.4,336.65 L325.8,335.89 L325.3,335.11 L324.7,334.29 L324.1,333.45 L323.6,332.59 L323.0,331.69 L322.4,330.77 L321.8,329.83 L321.3,328.85 L320.7,327.84 L320.1,326.81 L319.6,325.74 L319.0,324.65 L318.4,323.52 L317.8,322.36 L317.3,321.17 L316.7,319.95Z" fill="#0000ff"/>
<path d="M318.6,316.21 L319.2,316.82 L319.8,317.46 L320.3,318.13 L320.9,318.82 L321.5,319.52 L322.1,320.23 L322.6,320.96 L323.2,321.69 L323.8,322.41 L324.3,323.14 L324.9,323.86 L325.5,324.57 L326.0,325.26 L326.6,325.94 L327.1,326.59 L327.7,327.21 L328.2,327.81 L328.7,328.37 L329.3,328.90 L329.8,329.40 L330.4,329.87 L330.9,330.32 L331.5,330.76 L332.0,331.17 L332.5,331.57 L333.1,331.96 L333.7,332.34 L334.2,332.71 L334.8,333.05 L335.3,333.41 L335.9,333.75 L336.4,334.06 L337.0,334.38 L337.5,334.69 L338.1,334.97 L338.6,335.26 L339.2,335.54 L339.7,335.81 L340.3,336.09 L340.8,336.32 L341.4,336.56 L341.9,336.81 L342.5,337.04 L343.1,337.26 L343.6,337.49 L344.2,337.72 L344.7,337.93 L345.3,338.00 L345.8,338.30 L346.4,338.51 L346.9,338.68 L347.5,338.82 L348.1,339.05 L348.6,339.26 L349.2,339.35 L349.8,339.45 L350.3,339.60 L350.9,339.88 L351.4,340.07 L352.0,340.13 L352.6,340.31 L353.1,340.40 L353.7,340.68 L354.2,340.86 L354.8,340.96 L355.4,341.00 L356.0,341.10 L356.5,341.32 L357.1,341.38 L357.7,341.37 L358.2,341.88 L358.8,341.81 L359.4,341.81 L359.9,342.27 L360.5,342.26 L361.0,342.45 L361.6,342.72 L362.2,342.52 L362.8,342.60 L363.3,342.96 L363.8,343.32 L364.4,343.28 L365.1,342.99 L365.6,343.49 L366.1,343.63 L366.7,343.88 L367.2,344.14 L367.9,343.90 L368.4,344.03 L369.0,344.37 L369.6,344.38 L370.0,344.87 L370.6,344.79 L371.3,344.75 L371.7,345.23 L372.3,345.36 L372.9,345.18 L373.5,345.51 L374.0,345.80 L374.5,345.92 L375.1,346.04 L375.8,345.85 L376.3,346.08 L376.8,346.36 L377.4,346.34 L378.0,346.56 L378.5,346.70 L379.2,346.53 L379.7,346.68 L380.2,347.24 L380.8,347.34 L381.4,347.33 L381.9,347.66 L382.5,347.71 L383.1,347.52 L383.6,348.02 L384.2,347.87 L384.7,348.16 L385.4,347.86 L385.9,348.01 L386.4,348.64 L386.9,348.81 L387.7,348.18 L388.2,348.35 L388.6,349.17 L389.2,349.12 L389.8,349.09 L390.4,349.01 L390.9,349.67 L391.5,349.79 L392.1,349.54 L392.6,349.99 L393.2,349.95 L393.7,350.12 L394.4,350.07 L394.9,350.28 L395.6,349.80 L396.0,350.73 L396.6,350.49 L397.2,350.69 L397.7,350.76 L398.3,350.96 L398.8,351.41 L399.3,351.54 L399.9,351.64 L400.5,351.49 L401.0,351.80 L401.6,352.00 L402.2,351.92 L402.8,351.98 L403.3,352.11 L403.9,352.20 L404.5,352.33 L405.0,352.65 L405.6,352.70 L406.1,352.93 L406.7,353.01 L407.2,353.07 L407.8,353.09 L408.4,353.16 L408.9,353.43 L409.5,353.28 L410.0,353.68 L410.7,353.17 L411.2,353.86 L411.9,353.02 L412.3,354.00 L413.0,353.68 L413.4,354.36 L414.0,354.32 L414.6,354.27 L415.2,354.22 L415.7,354.43 L416.3,354.65 L416.8,354.84 L417.4,354.59 L418.0,354.90 L418.6,354.86 L419.1,355.12 L419.6,355.43 L420.2,355.54 L420.8,355.42 L421.3,355.77 L422.0,354.86 L422.5,355.43 L423.0,355.70 L423.5,356.11 L424.1,356.12 L424.7,356.26 L425.3,355.99 L425.8,356.42 L426.4,356.53 L426.9,356.58 L427.5,356.47 L428.1,356.65 L428.7,356.58 L429.2,356.59 L429.8,356.97 L430.3,357.21 L430.9,357.00 L431.5,357.14 L432.1,356.91 L432.6,356.99 L433.2,357.23 L433.8,356.96 L434.2,357.68 L434.8,357.74 L435.4,357.48 L436.0,357.50 L436.5,358.04 L437.1,357.87 L437.6,358.08 L438.2,357.85 L438.8,358.12 L439.4,357.85 L439.9,358.49 L440.4,358.52 L441.0,358.46 L441.5,358.63 L442.2,358.16 L442.7,358.10 L443.2,358.74 L443.8,358.94 L444.4,358.65 L444.9,358.86 L445.5,359.18 L446.0,359.21 L446.6,359.29 L447.1,359.36 L447.7,359.24 L448.3,359.00 L448.9,359.17 L449.4,359.19 L450.0,359.34 L450.5,359.50 L451.1,359.28 L451.7,359.55 L452.2,359.74 L452.8,359.24 L453.3,359.63 L453.9,359.97 L454.5,359.64 L455.0,359.81 L455.6,360.07 L456.1,360.08 L456.7,359.76 L457.3,360.17 L457.8,360.21 L458.4,360.27 L459.0,360.04 L459.5,360.04 L460.1,359.72 L460.6,360.41 L461.2,360.01 L461.8,360.27 L462.3,360.29 L462.9,360.49 L463.5,359.95 L464.0,360.37 L464.6,360.48 L465.1,360.42 L465.7,360.53 L466.2,360.59 L466.8,360.61 L467.4,360.41 L467.9,359.75 L468.5,360.69 L469.0,360.41 L469.6,360.39 L470.2,360.43 L470.7,360.76 L471.3,360.77 L471.8,360.52 L472.4,360.49 L473.0,360.62 L473.5,360.28 L474.1,360.53 L474.6,360.50 L475.2,360.52 L475.8,360.69 L476.3,360.69 L476.9,360.20 L477.4,360.60 L478.0,360.74 L478.6,360.42 L479.1,360.40 L479.7,360.77 L480.2,360.49 L480.8,360.53 L481.4,360.49 L481.9,360.47 L482.5,359.79 L483.0,360.19 L483.6,360.20 L484.2,360.61 L484.7,360.54 L485.3,360.54 L485.8,359.80 L486.4,359.95 L486.6,364.60 L486.0,364.16 L485.4,363.94 L484.9,364.27 L484.3,364.00 L483.7,364.08 L483.2,364.08 L482.6,364.41 L482.0,364.31 L481.5,364.43 L480.9,364.54 L480.3,364.37 L479.8,364.38 L479.2,364.32 L478.6,364.85 L478.1,364.16 L477.5,364.30 L476.9,364.91 L476.3,364.14 L475.8,364.46 L475.2,364.54 L474.6,364.75 L474.1,364.24 L473.5,364.21 L472.9,364.72 L472.4,364.31 L471.8,364.24 L471.2,364.17 L470.7,364.40 L470.1,364.33 L469.5,364.18 L469.0,364.21 L468.4,364.43 L467.8,364.11 L467.2,364.60 L466.7,364.11 L466.1,364.55 L465.5,364.57 L465.0,364.22 L464.4,364.75 L463.8,363.98 L463.3,364.35 L462.7,364.36 L462.1,363.86 L461.6,363.86 L461.0,364.00 L460.4,363.76 L459.9,363.87 L459.3,363.68 L458.7,363.88 L458.1,363.87 L457.6,363.66 L457.0,363.81 L456.4,363.96 L455.8,364.43 L455.3,363.82 L454.8,363.40 L454.2,363.44 L453.6,363.72 L453.1,363.28 L452.4,363.67 L451.9,363.44 L451.3,363.39 L450.8,363.18 L450.2,363.08 L449.6,363.05 L449.1,363.04 L448.5,363.10 L447.9,363.15 L447.4,362.94 L446.8,362.89 L446.2,362.75 L445.7,362.71 L445.1,362.95 L444.5,362.61 L444.0,362.42 L443.4,362.30 L442.8,362.42 L442.3,362.23 L441.7,362.37 L441.1,362.02 L440.5,362.30 L439.9,362.70 L439.4,362.44 L438.9,361.87 L438.3,361.78 L437.7,361.63 L437.1,361.87 L436.6,361.53 L436.0,361.46 L435.4,361.66 L434.9,361.27 L434.3,361.36 L433.7,361.43 L433.2,361.16 L432.6,361.30 L432.1,360.87 L431.5,360.80 L430.9,360.78 L430.3,360.99 L429.8,360.61 L429.2,360.77 L428.7,360.41 L428.1,360.27 L427.5,360.16 L426.9,360.40 L426.3,360.37 L425.8,359.89 L425.3,359.84 L424.7,359.80 L424.1,359.80 L423.5,359.95 L423.0,359.65 L422.4,359.40 L421.8,359.33 L421.2,359.55 L420.7,359.35 L420.1,359.10 L419.5,359.22 L418.9,359.48 L418.4,359.08 L417.8,359.18 L417.3,358.69 L416.7,358.56 L416.1,358.59 L415.5,358.63 L415.1,358.04 L414.5,358.20 L413.9,358.04 L413.3,357.91 L412.8,357.70 L412.2,357.50 L411.7,357.47 L411.1,357.44 L410.5,357.37 L409.8,357.77 L409.3,357.27 L408.7,357.32 L408.2,357.05 L407.7,356.80 L407.1,356.85 L406.5,356.70 L405.9,356.78 L405.4,356.24 L404.8,356.37 L404.2,356.29 L403.6,356.34 L403.1,356.15 L402.6,355.90 L402.0,355.50 L401.3,356.21 L400.9,355.37 L400.3,355.23 L399.7,355.44 L399.2,355.01 L398.6,355.03 L398.0,354.94 L397.5,354.73 L396.9,354.74 L396.3,354.65 L395.8,354.23 L395.2,354.20 L394.7,354.00 L394.0,354.31 L393.5,353.85 L392.9,353.80 L392.3,354.13 L391.8,353.73 L391.2,353.73 L390.6,353.62 L390.1,353.12 L389.5,353.09 L389.0,352.87 L388.5,352.61 L387.9,352.64 L387.3,352.63 L386.8,352.23 L386.1,352.49 L385.6,352.13 L385.1,351.84 L384.4,352.18 L383.9,351.54 L383.4,351.47 L382.8,351.46 L382.2,351.48 L381.6,351.53 L381.1,351.09 L380.5,351.08 L379.9,351.17 L379.4,350.59 L378.9,350.38 L378.3,350.30 L377.6,350.43 L377.1,350.06 L376.5,350.06 L375.9,350.09 L375.4,349.74 L374.8,349.92 L374.2,349.63 L373.6,349.94 L373.1,349.24 L372.6,348.85 L372.0,348.81 L371.5,348.66 L370.9,348.47 L370.3,348.43 L369.7,348.63 L369.1,348.52 L368.7,347.92 L368.1,347.95 L367.4,348.28 L366.8,348.03 L366.3,347.64 L365.8,347.16 L365.2,347.34 L364.7,346.83 L364.1,346.71 L363.6,346.68 L363.0,346.36 L362.5,346.24 L361.8,346.39 L361.2,346.41 L360.7,345.92 L360.2,345.56 L359.5,345.85 L359.1,345.34 L358.5,345.29 L358.0,344.93 L357.4,344.78 L356.7,345.21 L356.2,344.61 L355.7,344.35 L355.1,344.15 L354.5,344.36 L353.9,344.01 L353.4,343.73 L352.9,343.55 L352.3,343.39 L351.7,343.22 L351.2,342.99 L350.6,342.79 L350.0,342.70 L349.4,342.63 L348.9,342.28 L348.3,342.07 L347.7,341.94 L347.2,341.78 L346.6,341.58 L346.0,341.32 L345.5,341.13 L344.9,340.94 L344.3,340.77 L343.8,340.43 L343.2,340.23 L342.6,339.98 L342.0,339.81 L341.5,339.50 L340.9,339.23 L340.3,339.01 L339.7,338.71 L339.1,338.46 L338.6,338.17 L338.0,337.85 L337.4,337.55 L336.9,337.25 L336.3,336.93 L335.7,336.60 L335.1,336.26 L334.5,335.92 L334.0,335.56 L333.4,335.18 L332.8,334.81 L332.2,334.42 L331.7,334.02 L331.1,333.60 L330.5,333.17 L329.9,332.73 L329.3,332.26 L328.7,331.77 L328.2,331.25 L327.6,330.71 L327.0,330.13 L326.4,329.52 L325.8,328.88 L325.2,328.22 L324.6,327.54 L324.1,326.84 L323.5,326.12 L322.9,325.40 L322.4,324.68 L321.8,323.95 L321.2,323.22 L320.7,322.50 L320.1,321.79 L319.6,321.09 L319.0,320.41 L318.4,319.75 L317.9,319.12 L317.3,318.51 L316.8,317.93Z" fill="#bfbf00"/>
<path d="M321.9,311.55 L322.4,312.51 L323.0,313.42 L323.5,314.30 L324.1,315.14 L324.6,315.95 L325.1,316.73 L325.7,317.48 L326.2,318.19 L326.7,318.88 L327.3,319.54 L327.8,320.17 L328.3,320.78 L328.8,321.37 L329.4,321.93 L329.9,322.47 L330.4,322.99 L330.9,323.49 L331.5,323.97 L332.0,324.43 L332.5,324.88 L333.0,325.31 L333.6,325.73 L334.1,326.13 L334.6,326.52 L335.2,326.90 L335.7,327.26 L336.2,327.62 L336.7,327.95 L337.3,328.29 L337.8,328.59 L338.3,328.91 L338.8,329.21 L339.4,329.48 L339.9,329.74 L340.4,330.02 L341.0,330.25 L341.5,330.49 L342.0,330.77 L342.6,330.96 L343.1,331.17 L343.6,331.41 L344.2,331.54 L344.7,331.84 L345.2,331.98 L345.7,332.24 L346.3,332.42 L346.9,332.44 L347.4,332.76 L347.9,332.92 L348.5,333.02 L349.0,333.15 L349.5,333.35 L350.1,333.46 L350.6,333.69 L351.2,333.77 L351.8,333.84 L352.3,334.09 L352.9,333.96 L353.4,334.35 L354.0,334.46 L354.5,334.59 L355.1,334.77 L355.6,334.99 L356.2,334.91 L356.7,335.21 L357.3,335.38 L357.8,335.55 L358.4,335.57 L358.9,335.75 L359.5,335.93 L360.0,336.05 L360.6,336.21 L361.2,336.17 L361.8,336.30 L362.3,336.33 L362.9,336.48 L363.5,336.59 L364.0,336.80 L364.5,337.08 L365.1,337.05 L365.7,337.13 L366.2,337.45 L366.8,337.41 L367.4,337.47 L367.9,337.78 L368.5,337.74 L369.0,338.13 L369.5,338.35 L370.1,338.34 L370.6,338.59 L371.3,338.32 L371.8,338.70 L372.4,338.59 L373.0,338.53 L373.4,339.18 L374.0,339.26 L374.5,339.41 L375.1,339.47 L375.6,339.59 L376.2,339.63 L376.8,339.82 L377.3,340.07 L377.9,340.12 L378.4,340.33 L379.1,339.84 L379.5,340.45 L380.2,340.20 L380.7,340.27 L381.2,340.86 L381.8,340.78 L382.3,340.91 L382.8,341.34 L383.4,341.25 L384.0,341.36 L384.6,341.36 L385.0,341.80 L385.7,341.57 L386.2,341.94 L386.7,342.02 L387.4,341.64 L387.9,341.98 L388.4,342.43 L388.9,342.52 L389.6,342.38 L390.1,342.50 L390.6,342.96 L391.2,342.93 L391.7,343.01 L392.3,343.28 L392.9,343.17 L393.4,343.42 L394.0,343.33 L394.5,343.58 L395.1,343.68 L395.7,343.33 L396.2,343.85 L396.7,344.13 L397.3,344.03 L397.9,344.07 L398.4,344.37 L399.0,344.32 L399.5,344.48 L400.1,344.27 L400.6,344.90 L401.2,344.50 L401.8,344.43 L402.3,344.83 L402.9,344.94 L403.4,344.93 L403.9,345.49 L404.6,344.98 L405.0,345.56 L405.6,345.62 L406.2,345.35 L406.7,345.72 L407.3,346.00 L407.8,346.08 L408.4,346.14 L409.0,346.05 L409.5,346.38 L410.1,346.18 L410.6,346.43 L411.2,346.41 L411.7,346.43 L412.2,346.87 L412.8,346.76 L413.4,346.87 L414.0,346.60 L414.5,346.59 L415.0,347.03 L415.6,347.10 L416.2,347.21 L416.7,347.14 L417.3,346.86 L417.8,347.58 L418.3,347.72 L418.9,347.71 L419.4,347.97 L420.0,348.02 L420.5,348.16 L421.2,347.61 L421.8,347.58 L422.2,348.23 L422.8,348.17 L423.4,347.63 L423.9,348.30 L424.4,348.51 L425.0,348.77 L425.5,348.69 L426.1,348.57 L426.7,348.87 L427.2,348.77 L427.8,348.97 L428.3,349.13 L428.9,348.63 L429.4,349.34 L430.0,348.95 L430.6,349.12 L431.1,349.04 L431.6,349.43 L432.3,348.95 L432.8,349.54 L433.3,349.80 L433.9,349.45 L434.4,349.57 L435.0,349.76 L435.5,349.77 L436.1,349.86 L436.6,350.10 L437.2,349.61 L437.8,349.68 L438.3,350.04 L438.8,350.27 L439.4,350.05 L439.9,350.45 L440.5,350.52 L441.1,350.30 L441.6,350.65 L442.1,350.67 L442.8,349.78 L443.3,350.73 L443.8,350.40 L444.4,350.43 L444.9,350.87 L445.5,350.58 L446.1,350.27 L446.6,351.04 L447.1,350.82 L447.7,350.32 L448.3,350.79 L448.8,350.87 L449.3,351.19 L449.9,350.93 L450.5,351.22 L451.0,351.20 L451.6,351.17 L452.1,351.30 L452.7,351.40 L453.2,351.30 L453.8,351.54 L454.3,351.13 L454.9,351.50 L455.4,351.43 L456.0,351.63 L456.6,351.26 L457.1,351.49 L457.7,351.54 L458.2,351.75 L458.8,351.50 L459.3,351.27 L459.9,351.82 L460.4,351.77 L461.0,351.78 L461.5,351.81 L462.1,351.84 L462.6,351.86 L463.2,351.64 L463.7,351.67 L464.3,351.55 L464.8,351.74 L465.4,351.92 L465.9,352.03 L466.5,351.89 L467.0,351.97 L467.6,351.89 L468.2,351.69 L468.7,351.82 L469.3,351.49 L469.8,351.70 L470.4,352.12 L470.9,351.88 L471.5,351.66 L472.0,351.52 L472.6,351.87 L473.1,352.09 L473.7,352.01 L474.2,352.09 L474.8,352.07 L475.3,352.03 L475.9,351.73 L476.4,351.67 L477.0,352.09 L477.5,352.08 L478.1,352.06 L478.6,351.26 L479.2,351.89 L479.8,351.95 L480.3,351.95 L480.9,352.01 L481.4,351.68 L482.0,351.71 L482.5,351.75 L483.1,351.66 L483.6,351.65 L484.2,351.88 L484.7,351.65 L485.3,351.68 L485.8,351.34 L486.4,351.47 L486.6,356.84 L486.1,357.17 L485.5,356.88 L484.9,357.24 L484.4,357.10 L483.8,356.93 L483.2,356.91 L482.7,356.92 L482.1,357.22 L481.6,357.23 L481.0,357.28 L480.4,357.23 L479.9,356.99 L479.3,356.98 L478.8,357.37 L478.2,357.15 L477.6,357.27 L477.1,357.35 L476.5,357.23 L475.9,357.85 L475.4,357.42 L474.8,357.25 L474.3,357.12 L473.7,357.54 L473.1,357.58 L472.6,357.08 L472.0,357.04 L471.4,357.12 L470.9,357.13 L470.3,357.05 L469.8,357.24 L469.2,357.10 L468.6,357.02 L468.1,357.17 L467.5,357.43 L466.9,358.12 L466.4,357.26 L465.8,357.46 L465.3,357.15 L464.7,357.05 L464.1,357.78 L463.6,357.10 L463.0,356.91 L462.5,356.96 L461.9,357.06 L461.3,357.42 L460.8,357.23 L460.2,357.16 L459.7,356.83 L459.1,356.75 L458.5,357.29 L458.0,357.05 L457.4,356.79 L456.8,357.24 L456.3,356.75 L455.7,356.68 L455.2,356.67 L454.6,356.77 L454.0,357.14 L453.4,357.15 L452.9,356.43 L452.4,356.49 L451.8,356.75 L451.2,356.51 L450.7,356.69 L450.1,356.71 L449.5,356.58 L449.0,356.64 L448.4,356.52 L447.9,356.17 L447.3,356.05 L446.7,356.26 L446.2,356.32 L445.6,356.60 L445.1,355.96 L444.5,355.88 L443.9,356.48 L443.4,356.06 L442.8,355.95 L442.3,355.65 L441.7,355.67 L441.1,356.22 L440.5,356.06 L440.0,356.00 L439.4,355.88 L438.9,355.84 L438.3,355.34 L437.7,355.54 L437.2,355.24 L436.6,355.24 L436.1,355.39 L435.5,355.14 L435.0,355.01 L434.4,354.92 L433.8,354.88 L433.3,354.76 L432.6,355.70 L432.2,354.71 L431.6,354.58 L431.0,354.79 L430.5,354.78 L429.9,354.58 L429.3,354.54 L428.8,354.52 L428.2,354.43 L427.7,354.34 L427.0,354.70 L426.5,354.26 L426.0,354.08 L425.4,354.34 L424.8,354.23 L424.3,354.10 L423.8,353.69 L423.2,353.65 L422.6,353.64 L422.1,353.45 L421.5,353.42 L421.0,353.26 L420.4,353.35 L419.8,353.16 L419.2,353.26 L418.7,352.98 L418.1,352.97 L417.6,352.92 L417.0,352.79 L416.4,352.82 L415.8,352.96 L415.3,352.67 L414.7,352.82 L414.2,352.28 L413.7,352.29 L413.1,352.25 L412.5,352.53 L412.0,351.96 L411.4,351.78 L410.9,351.74 L410.2,352.18 L409.7,351.62 L409.1,351.75 L408.6,351.50 L408.0,351.55 L407.4,351.73 L407.0,351.03 L406.4,351.14 L405.8,350.99 L405.3,350.84 L404.7,351.02 L404.2,350.60 L403.5,350.79 L403.0,350.60 L402.5,350.25 L401.9,350.44 L401.3,350.32 L400.8,350.15 L400.2,350.23 L399.6,350.17 L399.1,349.90 L398.4,350.20 L398.0,349.49 L397.4,349.48 L396.8,349.62 L396.3,349.20 L395.7,349.26 L395.2,349.11 L394.6,349.01 L394.1,348.76 L393.4,349.09 L392.9,348.90 L392.4,348.34 L391.8,348.63 L391.3,348.26 L390.7,348.10 L390.1,348.32 L389.5,348.35 L389.0,347.73 L388.5,347.72 L387.9,347.56 L387.3,347.76 L386.8,347.44 L386.2,347.33 L385.6,347.39 L385.1,347.01 L384.6,346.85 L383.9,347.10 L383.4,346.87 L382.9,346.44 L382.3,346.41 L381.8,346.20 L381.2,346.33 L380.6,346.20 L380.1,346.02 L379.5,345.72 L379.0,345.64 L378.4,345.58 L377.8,345.45 L377.2,345.48 L376.6,345.63 L376.1,345.42 L375.6,344.90 L375.0,345.18 L374.4,344.88 L373.9,344.50 L373.4,344.49 L372.8,344.15 L372.2,344.23 L371.6,344.38 L371.1,343.86 L370.5,343.93 L370.0,343.73 L369.4,343.57 L368.9,343.46 L368.3,343.44 L367.8,343.06 L367.1,343.30 L366.7,342.79 L366.1,342.79 L365.6,342.52 L365.0,342.41 L364.4,342.38 L363.9,342.07 L363.3,341.91 L362.8,341.85 L362.2,341.74 L361.6,341.66 L361.0,341.65 L360.6,341.17 L360.0,341.08 L359.4,341.05 L358.8,341.05 L358.3,340.68 L357.8,340.53 L357.1,340.86 L356.5,340.66 L356.1,340.05 L355.5,339.93 L355.0,339.83 L354.4,339.71 L353.8,339.57 L353.3,339.38 L352.7,339.26 L352.2,339.09 L351.6,338.94 L351.1,338.74 L350.5,338.63 L349.9,338.47 L349.3,338.33 L348.8,338.21 L348.2,338.01 L347.6,337.77 L347.1,337.61 L346.5,337.57 L345.9,337.34 L345.3,337.08 L344.7,336.96 L344.2,336.67 L343.6,336.45 L343.0,336.30 L342.4,336.03 L341.8,335.83 L341.3,335.57 L340.7,335.32 L340.1,335.01 L339.5,334.81 L339.0,334.47 L338.4,334.22 L337.8,333.90 L337.2,333.58 L336.6,333.25 L336.0,332.93 L335.4,332.58 L334.8,332.23 L334.3,331.85 L333.7,331.48 L333.1,331.08 L332.5,330.67 L331.9,330.25 L331.3,329.81 L330.7,329.36 L330.2,328.89 L329.6,328.41 L329.0,327.91 L328.4,327.39 L327.8,326.85 L327.2,326.29 L326.6,325.71 L326.0,325.11 L325.5,324.48 L324.9,323.83 L324.3,323.15 L323.7,322.45 L323.1,321.72 L322.5,320.97 L321.9,320.18 L321.4,319.37 L320.8,318.52 L320.2,317.65 L319.6,316.74 L319.0,315.79 L318.5,314.82 L317.9,313.82Z" fill="#000"/>
<circle cx="320.0" cy="312.7" r="2.3" fill="#000"/>
<path d="M317.2,298 L317.2,307.6" stroke="#000" stroke-width="2.2"/>
</g>
<rect x="316.2" y="298.2" width="170.5" height="102.2" fill="none" stroke="#000" stroke-width="1.2"/>
<line x1="316.2" y1="400.4" x2="316.2" y2="404.79999999999995" stroke="#000" stroke-width="1.2"/>
<text x="316.2" y="419.8" font-size="13.2" text-anchor="middle">0</text>
<line x1="384.4" y1="400.4" x2="384.4" y2="404.79999999999995" stroke="#000" stroke-width="1.2"/>
<text x="384.4" y="419.8" font-size="13.2" text-anchor="middle">2000</text>
<line x1="452.6" y1="400.4" x2="452.6" y2="404.79999999999995" stroke="#000" stroke-width="1.2"/>
<text x="452.6" y="419.8" font-size="13.2" text-anchor="middle">4000</text>
<line x1="311.8" y1="298.2" x2="316.2" y2="298.2" stroke="#000" stroke-width="1.2"/>
<text x="307.4" y="302.8" font-size="13.2" text-anchor="end">10<tspan font-size="9.3" dy="-5.5">0</tspan></text>
<line x1="311.8" y1="349.3" x2="316.2" y2="349.3" stroke="#000" stroke-width="1.2"/>
<text x="307.4" y="353.9" font-size="13.2" text-anchor="end">10<tspan font-size="9.3" dy="-5.5">−2</tspan></text>
<line x1="311.8" y1="400.4" x2="316.2" y2="400.4" stroke="#000" stroke-width="1.2"/>
<text x="307.4" y="405.0" font-size="13.2" text-anchor="end">10<tspan font-size="9.3" dy="-5.5">−4</tspan></text>
<text x="401.4" y="439.1" font-size="15.6" text-anchor="middle">Epoch</text>
<text transform="translate(268.5,347.9) rotate(-90)" font-size="15.6" text-anchor="middle">Loss value</text>
</g></svg></body></html>
